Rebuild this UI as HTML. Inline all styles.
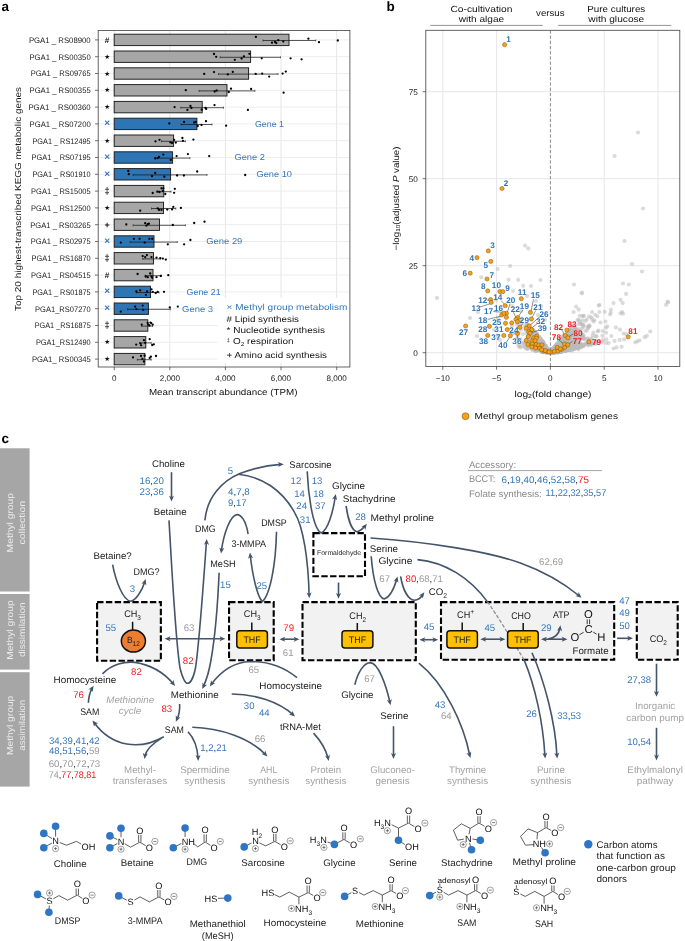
<!DOCTYPE html>
<html lang="en">
<head>
<meta charset="utf-8">
<title>Methyl group metabolism figure</title>
<style>
html,body{margin:0;padding:0;background:#fff;}
body{width:685px;height:941px;overflow:hidden;}
svg{display:block;font-family:'Liberation Sans', sans-serif;text-rendering:geometricPrecision;}
</style>
</head>
<body>
<svg width="685" height="941" viewBox="0 0 685 941">
<rect width="685" height="941" fill="#fff"/>
<g id="panel-a">
<text x="1.6" y="11.14" font-size="13.5" fill="#000" font-weight="bold">a</text>
<line x1="114.3" y1="30.5" x2="114.3" y2="367" stroke="#e6e6e6" stroke-width="1"/>
<line x1="169.8" y1="30.5" x2="169.8" y2="367" stroke="#e6e6e6" stroke-width="1"/>
<line x1="225.4" y1="30.5" x2="225.4" y2="367" stroke="#e6e6e6" stroke-width="1"/>
<line x1="281" y1="30.5" x2="281" y2="367" stroke="#e6e6e6" stroke-width="1"/>
<line x1="336.7" y1="30.5" x2="336.7" y2="367" stroke="#e6e6e6" stroke-width="1"/>
<line x1="98.2" y1="39.9" x2="349.9" y2="39.9" stroke="#ebebeb" stroke-width="0.9"/>
<line x1="98.2" y1="56.7" x2="349.9" y2="56.7" stroke="#ebebeb" stroke-width="0.9"/>
<line x1="98.2" y1="73.5" x2="349.9" y2="73.5" stroke="#ebebeb" stroke-width="0.9"/>
<line x1="98.2" y1="90.3" x2="349.9" y2="90.3" stroke="#ebebeb" stroke-width="0.9"/>
<line x1="98.2" y1="107.1" x2="349.9" y2="107.1" stroke="#ebebeb" stroke-width="0.9"/>
<line x1="98.2" y1="123.9" x2="349.9" y2="123.9" stroke="#ebebeb" stroke-width="0.9"/>
<line x1="98.2" y1="140.7" x2="349.9" y2="140.7" stroke="#ebebeb" stroke-width="0.9"/>
<line x1="98.2" y1="157.5" x2="349.9" y2="157.5" stroke="#ebebeb" stroke-width="0.9"/>
<line x1="98.2" y1="174.3" x2="349.9" y2="174.3" stroke="#ebebeb" stroke-width="0.9"/>
<line x1="98.2" y1="191.1" x2="349.9" y2="191.1" stroke="#ebebeb" stroke-width="0.9"/>
<line x1="98.2" y1="207.9" x2="349.9" y2="207.9" stroke="#ebebeb" stroke-width="0.9"/>
<line x1="98.2" y1="224.7" x2="349.9" y2="224.7" stroke="#ebebeb" stroke-width="0.9"/>
<line x1="98.2" y1="241.5" x2="349.9" y2="241.5" stroke="#ebebeb" stroke-width="0.9"/>
<line x1="98.2" y1="258.3" x2="349.9" y2="258.3" stroke="#ebebeb" stroke-width="0.9"/>
<line x1="98.2" y1="275.1" x2="349.9" y2="275.1" stroke="#ebebeb" stroke-width="0.9"/>
<line x1="98.2" y1="291.9" x2="349.9" y2="291.9" stroke="#ebebeb" stroke-width="0.9"/>
<line x1="98.2" y1="308.7" x2="349.9" y2="308.7" stroke="#ebebeb" stroke-width="0.9"/>
<line x1="98.2" y1="325.5" x2="349.9" y2="325.5" stroke="#ebebeb" stroke-width="0.9"/>
<line x1="98.2" y1="342.3" x2="349.9" y2="342.3" stroke="#ebebeb" stroke-width="0.9"/>
<line x1="98.2" y1="359.1" x2="349.9" y2="359.1" stroke="#ebebeb" stroke-width="0.9"/>
<rect x="114.2" y="34.2" width="174.8" height="11.4" fill="#a6a6a6" stroke="#1c1c1c" stroke-width="0.95"/>
<line x1="263" y1="40.5" x2="315.7" y2="40.5" stroke="#111" stroke-width="0.7"/>
<line x1="263" y1="39.5" x2="263" y2="41.5" stroke="#111" stroke-width="0.6"/>
<line x1="315.7" y1="39.5" x2="315.7" y2="41.5" stroke="#111" stroke-width="0.6"/>
<circle cx="255.9" cy="36.9" r="1.15" fill="#000" stroke="none" stroke-width="0.5"/>
<circle cx="272" cy="42.7" r="1.15" fill="#000" stroke="none" stroke-width="0.5"/>
<circle cx="275" cy="42" r="1.15" fill="#000" stroke="none" stroke-width="0.5"/>
<circle cx="276.3" cy="43" r="1.15" fill="#000" stroke="none" stroke-width="0.5"/>
<circle cx="278.3" cy="40.2" r="1.15" fill="#000" stroke="none" stroke-width="0.5"/>
<circle cx="283.3" cy="41.5" r="1.15" fill="#000" stroke="none" stroke-width="0.5"/>
<circle cx="308.4" cy="38.7" r="1.15" fill="#000" stroke="none" stroke-width="0.5"/>
<circle cx="319" cy="42.2" r="1.15" fill="#000" stroke="none" stroke-width="0.5"/>
<circle cx="337.8" cy="40.5" r="1.15" fill="#000" stroke="none" stroke-width="0.5"/>
<line x1="95" y1="39.9" x2="98.2" y2="39.9" stroke="#333" stroke-width="0.7"/>
<text x="90.7" y="42.85" font-size="8" fill="#222" text-anchor="end" textLength="61.8" lengthAdjust="spacingAndGlyphs">PGA1 _ RS08900</text>
<text x="107.1" y="42.72" font-size="8.2" fill="#111" text-anchor="middle" font-weight="bold">#</text>
<rect x="114.2" y="51" width="136.4" height="11.4" fill="#a6a6a6" stroke="#1c1c1c" stroke-width="0.95"/>
<line x1="220.2" y1="57.3" x2="280.5" y2="57.3" stroke="#111" stroke-width="0.7"/>
<line x1="220.2" y1="56.3" x2="220.2" y2="58.3" stroke="#111" stroke-width="0.6"/>
<line x1="280.5" y1="56.3" x2="280.5" y2="58.3" stroke="#111" stroke-width="0.6"/>
<circle cx="214" cy="54" r="1.15" fill="#000" stroke="none" stroke-width="0.5"/>
<circle cx="216.2" cy="56.8" r="1.15" fill="#000" stroke="none" stroke-width="0.5"/>
<circle cx="234.8" cy="59.8" r="1.15" fill="#000" stroke="none" stroke-width="0.5"/>
<circle cx="241.6" cy="58.5" r="1.15" fill="#000" stroke="none" stroke-width="0.5"/>
<circle cx="243.9" cy="56.3" r="1.15" fill="#000" stroke="none" stroke-width="0.5"/>
<circle cx="249.4" cy="53.8" r="1.15" fill="#000" stroke="none" stroke-width="0.5"/>
<circle cx="261.7" cy="58.3" r="1.15" fill="#000" stroke="none" stroke-width="0.5"/>
<circle cx="290.6" cy="58.3" r="1.15" fill="#000" stroke="none" stroke-width="0.5"/>
<circle cx="301.6" cy="59.3" r="1.15" fill="#000" stroke="none" stroke-width="0.5"/>
<line x1="95" y1="56.7" x2="98.2" y2="56.7" stroke="#333" stroke-width="0.7"/>
<text x="90.7" y="59.65" font-size="8" fill="#222" text-anchor="end" textLength="61.3" lengthAdjust="spacingAndGlyphs">PGA1 _ RS00350</text>
<text x="107.1" y="58.87" font-size="6.6" fill="#111" text-anchor="middle" font-family="DejaVu Sans, sans-serif">&#9733;</text>
<rect x="114.2" y="67.8" width="134.4" height="11.4" fill="#a6a6a6" stroke="#1c1c1c" stroke-width="0.95"/>
<line x1="218.5" y1="74.1" x2="278" y2="74.1" stroke="#111" stroke-width="0.7"/>
<line x1="218.5" y1="73.1" x2="218.5" y2="75.1" stroke="#111" stroke-width="0.6"/>
<line x1="278" y1="73.1" x2="278" y2="75.1" stroke="#111" stroke-width="0.6"/>
<circle cx="204.2" cy="73.9" r="1.15" fill="#000" stroke="none" stroke-width="0.5"/>
<circle cx="214" cy="72.1" r="1.15" fill="#000" stroke="none" stroke-width="0.5"/>
<circle cx="227.8" cy="74.4" r="1.15" fill="#000" stroke="none" stroke-width="0.5"/>
<circle cx="232.8" cy="71.9" r="1.15" fill="#000" stroke="none" stroke-width="0.5"/>
<circle cx="255.7" cy="73.9" r="1.15" fill="#000" stroke="none" stroke-width="0.5"/>
<circle cx="262.2" cy="73.6" r="1.15" fill="#000" stroke="none" stroke-width="0.5"/>
<circle cx="269.2" cy="76.6" r="1.15" fill="#000" stroke="none" stroke-width="0.5"/>
<circle cx="282.6" cy="73.6" r="1.15" fill="#000" stroke="none" stroke-width="0.5"/>
<circle cx="285.8" cy="71.6" r="1.15" fill="#000" stroke="none" stroke-width="0.5"/>
<line x1="95" y1="73.5" x2="98.2" y2="73.5" stroke="#333" stroke-width="0.7"/>
<text x="90.7" y="76.45" font-size="8" fill="#222" text-anchor="end" textLength="60" lengthAdjust="spacingAndGlyphs">PGA1 _ RS09765</text>
<text x="107.1" y="75.67" font-size="6.6" fill="#111" text-anchor="middle" font-family="DejaVu Sans, sans-serif">&#9733;</text>
<rect x="114.2" y="84.6" width="112.8" height="11.4" fill="#a6a6a6" stroke="#1c1c1c" stroke-width="0.95"/>
<line x1="199.1" y1="90.9" x2="254.9" y2="90.9" stroke="#111" stroke-width="0.7"/>
<line x1="199.1" y1="89.9" x2="199.1" y2="91.9" stroke="#111" stroke-width="0.6"/>
<line x1="254.9" y1="89.9" x2="254.9" y2="91.9" stroke="#111" stroke-width="0.6"/>
<circle cx="185.8" cy="90.2" r="1.15" fill="#000" stroke="none" stroke-width="0.5"/>
<circle cx="214.7" cy="91.5" r="1.15" fill="#000" stroke="none" stroke-width="0.5"/>
<circle cx="216.7" cy="90.5" r="1.15" fill="#000" stroke="none" stroke-width="0.5"/>
<circle cx="228.8" cy="92" r="1.15" fill="#000" stroke="none" stroke-width="0.5"/>
<circle cx="231" cy="88.7" r="1.15" fill="#000" stroke="none" stroke-width="0.5"/>
<circle cx="251.1" cy="89" r="1.15" fill="#000" stroke="none" stroke-width="0.5"/>
<circle cx="283.6" cy="92.7" r="1.15" fill="#000" stroke="none" stroke-width="0.5"/>
<line x1="95" y1="90.3" x2="98.2" y2="90.3" stroke="#333" stroke-width="0.7"/>
<text x="90.7" y="93.25" font-size="8" fill="#222" text-anchor="end" textLength="61.2" lengthAdjust="spacingAndGlyphs">PGA1 _ RS00355</text>
<text x="107.1" y="92.47" font-size="6.6" fill="#111" text-anchor="middle" font-family="DejaVu Sans, sans-serif">&#9733;</text>
<rect x="114.2" y="101.4" width="88" height="11.4" fill="#a6a6a6" stroke="#1c1c1c" stroke-width="0.95"/>
<line x1="180.8" y1="107.7" x2="223.5" y2="107.7" stroke="#111" stroke-width="0.7"/>
<line x1="180.8" y1="106.7" x2="180.8" y2="108.7" stroke="#111" stroke-width="0.6"/>
<line x1="223.5" y1="106.7" x2="223.5" y2="108.7" stroke="#111" stroke-width="0.6"/>
<circle cx="174.6" cy="107.1" r="1.15" fill="#000" stroke="none" stroke-width="0.5"/>
<circle cx="187.4" cy="109.9" r="1.15" fill="#000" stroke="none" stroke-width="0.5"/>
<circle cx="190.4" cy="105.9" r="1.15" fill="#000" stroke="none" stroke-width="0.5"/>
<circle cx="191.4" cy="107.9" r="1.15" fill="#000" stroke="none" stroke-width="0.5"/>
<circle cx="201.7" cy="109.7" r="1.15" fill="#000" stroke="none" stroke-width="0.5"/>
<circle cx="205.5" cy="107.9" r="1.15" fill="#000" stroke="none" stroke-width="0.5"/>
<circle cx="206.2" cy="108.9" r="1.15" fill="#000" stroke="none" stroke-width="0.5"/>
<circle cx="214.5" cy="105.1" r="1.15" fill="#000" stroke="none" stroke-width="0.5"/>
<circle cx="247.9" cy="109.9" r="1.15" fill="#000" stroke="none" stroke-width="0.5"/>
<line x1="95" y1="107.1" x2="98.2" y2="107.1" stroke="#333" stroke-width="0.7"/>
<text x="90.7" y="110.05" font-size="8" fill="#222" text-anchor="end" textLength="62.3" lengthAdjust="spacingAndGlyphs">PGA1 _ RS00360</text>
<text x="107.1" y="109.27" font-size="6.6" fill="#111" text-anchor="middle" font-family="DejaVu Sans, sans-serif">&#9733;</text>
<rect x="114.2" y="118.2" width="82.7" height="11.4" fill="#2e75b6" stroke="#1c1c1c" stroke-width="0.95"/>
<line x1="181.1" y1="124.5" x2="212" y2="124.5" stroke="#111" stroke-width="0.7"/>
<line x1="181.1" y1="123.5" x2="181.1" y2="125.5" stroke="#111" stroke-width="0.6"/>
<line x1="212" y1="123.5" x2="212" y2="125.5" stroke="#111" stroke-width="0.6"/>
<circle cx="169.3" cy="123.5" r="1.15" fill="#000" stroke="none" stroke-width="0.5"/>
<circle cx="184.1" cy="122" r="1.15" fill="#000" stroke="none" stroke-width="0.5"/>
<circle cx="194.2" cy="122.5" r="1.15" fill="#000" stroke="none" stroke-width="0.5"/>
<circle cx="195.7" cy="122" r="1.15" fill="#000" stroke="none" stroke-width="0.5"/>
<circle cx="197.7" cy="126" r="1.15" fill="#000" stroke="none" stroke-width="0.5"/>
<circle cx="201.5" cy="125" r="1.15" fill="#000" stroke="none" stroke-width="0.5"/>
<circle cx="206" cy="121.2" r="1.15" fill="#000" stroke="none" stroke-width="0.5"/>
<circle cx="226.1" cy="125.7" r="1.15" fill="#000" stroke="none" stroke-width="0.5"/>
<line x1="95" y1="123.9" x2="98.2" y2="123.9" stroke="#333" stroke-width="0.7"/>
<text x="90.7" y="126.85" font-size="8" fill="#222" text-anchor="end" textLength="61.1" lengthAdjust="spacingAndGlyphs">PGA1 _ RS07200</text>
<text x="107.1" y="126.34" font-size="10" fill="#3578bd" text-anchor="middle" font-weight="bold">&#215;</text>
<rect x="114.2" y="135" width="59.4" height="11.4" fill="#a6a6a6" stroke="#1c1c1c" stroke-width="0.95"/>
<line x1="161.5" y1="141.3" x2="185.4" y2="141.3" stroke="#111" stroke-width="0.7"/>
<line x1="161.5" y1="140.3" x2="161.5" y2="142.3" stroke="#111" stroke-width="0.6"/>
<line x1="185.4" y1="140.3" x2="185.4" y2="142.3" stroke="#111" stroke-width="0.6"/>
<circle cx="155.5" cy="141.3" r="1.15" fill="#000" stroke="none" stroke-width="0.5"/>
<circle cx="159.5" cy="139.8" r="1.15" fill="#000" stroke="none" stroke-width="0.5"/>
<circle cx="170.3" cy="142.3" r="1.15" fill="#000" stroke="none" stroke-width="0.5"/>
<circle cx="172" cy="143" r="1.15" fill="#000" stroke="none" stroke-width="0.5"/>
<circle cx="174.1" cy="139.8" r="1.15" fill="#000" stroke="none" stroke-width="0.5"/>
<circle cx="175.8" cy="142.6" r="1.15" fill="#000" stroke="none" stroke-width="0.5"/>
<circle cx="182.4" cy="138" r="1.15" fill="#000" stroke="none" stroke-width="0.5"/>
<circle cx="182.9" cy="140.8" r="1.15" fill="#000" stroke="none" stroke-width="0.5"/>
<circle cx="193.4" cy="139.6" r="1.15" fill="#000" stroke="none" stroke-width="0.5"/>
<line x1="95" y1="140.7" x2="98.2" y2="140.7" stroke="#333" stroke-width="0.7"/>
<text x="90.7" y="143.65" font-size="8" fill="#222" text-anchor="end" textLength="58.3" lengthAdjust="spacingAndGlyphs">PGA1 _ RS12495</text>
<text x="107.1" y="142.87" font-size="6.6" fill="#111" text-anchor="middle" font-family="DejaVu Sans, sans-serif">&#9733;</text>
<rect x="114.2" y="151.8" width="58.4" height="11.4" fill="#2e75b6" stroke="#1c1c1c" stroke-width="0.95"/>
<line x1="155.2" y1="158.1" x2="189.9" y2="158.1" stroke="#111" stroke-width="0.7"/>
<line x1="155.2" y1="157.1" x2="155.2" y2="159.1" stroke="#111" stroke-width="0.6"/>
<line x1="189.9" y1="157.1" x2="189.9" y2="159.1" stroke="#111" stroke-width="0.6"/>
<circle cx="155.2" cy="158.4" r="1.15" fill="#000" stroke="none" stroke-width="0.5"/>
<circle cx="157.7" cy="158.1" r="1.15" fill="#000" stroke="none" stroke-width="0.5"/>
<circle cx="159" cy="156.9" r="1.15" fill="#000" stroke="none" stroke-width="0.5"/>
<circle cx="163.3" cy="154.6" r="1.15" fill="#000" stroke="none" stroke-width="0.5"/>
<circle cx="170.8" cy="159.9" r="1.15" fill="#000" stroke="none" stroke-width="0.5"/>
<circle cx="176.6" cy="156.1" r="1.15" fill="#000" stroke="none" stroke-width="0.5"/>
<circle cx="187.9" cy="154.1" r="1.15" fill="#000" stroke="none" stroke-width="0.5"/>
<circle cx="209.2" cy="156.1" r="1.15" fill="#000" stroke="none" stroke-width="0.5"/>
<line x1="95" y1="157.5" x2="98.2" y2="157.5" stroke="#333" stroke-width="0.7"/>
<text x="90.7" y="160.45" font-size="8" fill="#222" text-anchor="end" textLength="59.1" lengthAdjust="spacingAndGlyphs">PGA1 _ RS07195</text>
<text x="107.1" y="159.94" font-size="10" fill="#3578bd" text-anchor="middle" font-weight="bold">&#215;</text>
<rect x="114.2" y="168.6" width="56.4" height="11.4" fill="#2e75b6" stroke="#1c1c1c" stroke-width="0.95"/>
<line x1="133.1" y1="174.9" x2="207" y2="174.9" stroke="#111" stroke-width="0.7"/>
<line x1="133.1" y1="173.9" x2="133.1" y2="175.9" stroke="#111" stroke-width="0.6"/>
<line x1="207" y1="173.9" x2="207" y2="175.9" stroke="#111" stroke-width="0.6"/>
<circle cx="128.3" cy="171" r="1.15" fill="#000" stroke="none" stroke-width="0.5"/>
<circle cx="128.8" cy="174.2" r="1.15" fill="#000" stroke="none" stroke-width="0.5"/>
<circle cx="152" cy="176.2" r="1.15" fill="#000" stroke="none" stroke-width="0.5"/>
<circle cx="155.2" cy="173" r="1.15" fill="#000" stroke="none" stroke-width="0.5"/>
<circle cx="164.3" cy="176.7" r="1.15" fill="#000" stroke="none" stroke-width="0.5"/>
<circle cx="177.1" cy="175.5" r="1.15" fill="#000" stroke="none" stroke-width="0.5"/>
<circle cx="183.9" cy="175.5" r="1.15" fill="#000" stroke="none" stroke-width="0.5"/>
<circle cx="197.2" cy="171.5" r="1.15" fill="#000" stroke="none" stroke-width="0.5"/>
<circle cx="245.2" cy="175" r="1.15" fill="#000" stroke="none" stroke-width="0.5"/>
<line x1="95" y1="174.3" x2="98.2" y2="174.3" stroke="#333" stroke-width="0.7"/>
<text x="90.7" y="177.25" font-size="8" fill="#222" text-anchor="end" textLength="58.3" lengthAdjust="spacingAndGlyphs">PGA1 _ RS01910</text>
<text x="107.1" y="176.74" font-size="10" fill="#3578bd" text-anchor="middle" font-weight="bold">&#215;</text>
<rect x="114.2" y="185.4" width="49.6" height="11.4" fill="#a6a6a6" stroke="#1c1c1c" stroke-width="0.95"/>
<line x1="156.5" y1="191.7" x2="171" y2="191.7" stroke="#111" stroke-width="0.7"/>
<line x1="156.5" y1="190.7" x2="156.5" y2="192.7" stroke="#111" stroke-width="0.6"/>
<line x1="171" y1="190.7" x2="171" y2="192.7" stroke="#111" stroke-width="0.6"/>
<circle cx="152.7" cy="193" r="1.15" fill="#000" stroke="none" stroke-width="0.5"/>
<circle cx="157.7" cy="191.6" r="1.15" fill="#000" stroke="none" stroke-width="0.5"/>
<circle cx="159.5" cy="192" r="1.15" fill="#000" stroke="none" stroke-width="0.5"/>
<circle cx="161.5" cy="188.3" r="1.15" fill="#000" stroke="none" stroke-width="0.5"/>
<circle cx="163.3" cy="188.3" r="1.15" fill="#000" stroke="none" stroke-width="0.5"/>
<circle cx="162.8" cy="191" r="1.15" fill="#000" stroke="none" stroke-width="0.5"/>
<circle cx="165.3" cy="194" r="1.15" fill="#000" stroke="none" stroke-width="0.5"/>
<circle cx="174.1" cy="192.8" r="1.15" fill="#000" stroke="none" stroke-width="0.5"/>
<circle cx="174.8" cy="188.8" r="1.15" fill="#000" stroke="none" stroke-width="0.5"/>
<line x1="95" y1="191.1" x2="98.2" y2="191.1" stroke="#333" stroke-width="0.7"/>
<text x="90.7" y="194.05" font-size="8" fill="#222" text-anchor="end" textLength="59.6" lengthAdjust="spacingAndGlyphs">PGA1 _ RS15005</text>
<text x="107.1" y="194.06" font-size="9.2" fill="#111" text-anchor="middle" font-weight="bold">&#8225;</text>
<rect x="114.2" y="202.2" width="49.3" height="11.4" fill="#a6a6a6" stroke="#1c1c1c" stroke-width="0.95"/>
<line x1="151.5" y1="208.5" x2="175.8" y2="208.5" stroke="#111" stroke-width="0.7"/>
<line x1="151.5" y1="207.5" x2="151.5" y2="209.5" stroke="#111" stroke-width="0.6"/>
<line x1="175.8" y1="207.5" x2="175.8" y2="209.5" stroke="#111" stroke-width="0.6"/>
<circle cx="140.2" cy="210.7" r="1.15" fill="#000" stroke="none" stroke-width="0.5"/>
<circle cx="157.7" cy="208.4" r="1.15" fill="#000" stroke="none" stroke-width="0.5"/>
<circle cx="159" cy="209.9" r="1.15" fill="#000" stroke="none" stroke-width="0.5"/>
<circle cx="161.5" cy="209.9" r="1.15" fill="#000" stroke="none" stroke-width="0.5"/>
<circle cx="167.3" cy="209.6" r="1.15" fill="#000" stroke="none" stroke-width="0.5"/>
<circle cx="172.1" cy="209.4" r="1.15" fill="#000" stroke="none" stroke-width="0.5"/>
<circle cx="173.3" cy="206.9" r="1.15" fill="#000" stroke="none" stroke-width="0.5"/>
<circle cx="180.9" cy="207.9" r="1.15" fill="#000" stroke="none" stroke-width="0.5"/>
<line x1="95" y1="207.9" x2="98.2" y2="207.9" stroke="#333" stroke-width="0.7"/>
<text x="90.7" y="210.85" font-size="8" fill="#222" text-anchor="end" textLength="59.6" lengthAdjust="spacingAndGlyphs">PGA1 _ RS12500</text>
<text x="107.1" y="210.07" font-size="6.6" fill="#111" text-anchor="middle" font-family="DejaVu Sans, sans-serif">&#9733;</text>
<rect x="114.2" y="219" width="45.3" height="11.4" fill="#a6a6a6" stroke="#1c1c1c" stroke-width="0.95"/>
<line x1="133.1" y1="225.3" x2="185.4" y2="225.3" stroke="#111" stroke-width="0.7"/>
<line x1="133.1" y1="224.3" x2="133.1" y2="226.3" stroke="#111" stroke-width="0.6"/>
<line x1="185.4" y1="224.3" x2="185.4" y2="226.3" stroke="#111" stroke-width="0.6"/>
<circle cx="126.3" cy="224.5" r="1.15" fill="#000" stroke="none" stroke-width="0.5"/>
<circle cx="145.2" cy="223.2" r="1.15" fill="#000" stroke="none" stroke-width="0.5"/>
<circle cx="146.4" cy="225.7" r="1.15" fill="#000" stroke="none" stroke-width="0.5"/>
<circle cx="147.7" cy="224.2" r="1.15" fill="#000" stroke="none" stroke-width="0.5"/>
<circle cx="148.9" cy="223.7" r="1.15" fill="#000" stroke="none" stroke-width="0.5"/>
<circle cx="172.8" cy="225" r="1.15" fill="#000" stroke="none" stroke-width="0.5"/>
<circle cx="194.2" cy="223" r="1.15" fill="#000" stroke="none" stroke-width="0.5"/>
<circle cx="204.5" cy="221.7" r="1.15" fill="#000" stroke="none" stroke-width="0.5"/>
<line x1="95" y1="224.7" x2="98.2" y2="224.7" stroke="#333" stroke-width="0.7"/>
<text x="90.7" y="227.65" font-size="8" fill="#222" text-anchor="end" textLength="60.4" lengthAdjust="spacingAndGlyphs">PGA1 _ RS03265</text>
<text x="107.1" y="228.1" font-size="9" fill="#111" text-anchor="middle" font-weight="bold">+</text>
<rect x="114.2" y="235.8" width="39.8" height="11.4" fill="#2e75b6" stroke="#1c1c1c" stroke-width="0.95"/>
<line x1="130.1" y1="242.1" x2="177.3" y2="242.1" stroke="#111" stroke-width="0.7"/>
<line x1="130.1" y1="241.1" x2="130.1" y2="243.1" stroke="#111" stroke-width="0.6"/>
<line x1="177.3" y1="241.1" x2="177.3" y2="243.1" stroke="#111" stroke-width="0.6"/>
<circle cx="120.8" cy="242.6" r="1.15" fill="#000" stroke="none" stroke-width="0.5"/>
<circle cx="133.9" cy="238.8" r="1.15" fill="#000" stroke="none" stroke-width="0.5"/>
<circle cx="139.6" cy="238.8" r="1.15" fill="#000" stroke="none" stroke-width="0.5"/>
<circle cx="144.7" cy="242.6" r="1.15" fill="#000" stroke="none" stroke-width="0.5"/>
<circle cx="149.4" cy="238.8" r="1.15" fill="#000" stroke="none" stroke-width="0.5"/>
<circle cx="152.2" cy="238.8" r="1.15" fill="#000" stroke="none" stroke-width="0.5"/>
<circle cx="167.8" cy="244.3" r="1.15" fill="#000" stroke="none" stroke-width="0.5"/>
<circle cx="184.1" cy="244.3" r="1.15" fill="#000" stroke="none" stroke-width="0.5"/>
<circle cx="190.4" cy="240" r="1.15" fill="#000" stroke="none" stroke-width="0.5"/>
<line x1="95" y1="241.5" x2="98.2" y2="241.5" stroke="#333" stroke-width="0.7"/>
<text x="90.7" y="244.45" font-size="8" fill="#222" text-anchor="end" textLength="59.9" lengthAdjust="spacingAndGlyphs">PGA1 _ RS02975</text>
<text x="107.1" y="243.94" font-size="10" fill="#3578bd" text-anchor="middle" font-weight="bold">&#215;</text>
<rect x="114.2" y="252.6" width="39.3" height="11.4" fill="#a6a6a6" stroke="#1c1c1c" stroke-width="0.95"/>
<line x1="142.7" y1="258.9" x2="160.3" y2="258.9" stroke="#111" stroke-width="0.7"/>
<line x1="142.7" y1="257.9" x2="142.7" y2="259.9" stroke="#111" stroke-width="0.6"/>
<line x1="160.3" y1="257.9" x2="160.3" y2="259.9" stroke="#111" stroke-width="0.6"/>
<circle cx="142.7" cy="256.1" r="1.15" fill="#000" stroke="none" stroke-width="0.5"/>
<circle cx="145.2" cy="257.1" r="1.15" fill="#000" stroke="none" stroke-width="0.5"/>
<circle cx="146.9" cy="255.1" r="1.15" fill="#000" stroke="none" stroke-width="0.5"/>
<circle cx="151.5" cy="257.1" r="1.15" fill="#000" stroke="none" stroke-width="0.5"/>
<circle cx="156.5" cy="257.6" r="1.15" fill="#000" stroke="none" stroke-width="0.5"/>
<circle cx="160.3" cy="258.1" r="1.15" fill="#000" stroke="none" stroke-width="0.5"/>
<circle cx="162.8" cy="258.6" r="1.15" fill="#000" stroke="none" stroke-width="0.5"/>
<circle cx="165.8" cy="259.6" r="1.15" fill="#000" stroke="none" stroke-width="0.5"/>
<line x1="95" y1="258.3" x2="98.2" y2="258.3" stroke="#333" stroke-width="0.7"/>
<text x="90.7" y="261.25" font-size="8" fill="#222" text-anchor="end" textLength="59.1" lengthAdjust="spacingAndGlyphs">PGA1 _ RS16870</text>
<text x="107.1" y="261.26" font-size="9.2" fill="#111" text-anchor="middle" font-weight="bold">&#8225;</text>
<rect x="114.2" y="269.4" width="38.8" height="11.4" fill="#a6a6a6" stroke="#1c1c1c" stroke-width="0.95"/>
<line x1="145.2" y1="275.7" x2="161.5" y2="275.7" stroke="#111" stroke-width="0.7"/>
<line x1="145.2" y1="274.7" x2="145.2" y2="276.7" stroke="#111" stroke-width="0.6"/>
<line x1="161.5" y1="274.7" x2="161.5" y2="276.7" stroke="#111" stroke-width="0.6"/>
<circle cx="137.6" cy="274" r="1.15" fill="#000" stroke="none" stroke-width="0.5"/>
<circle cx="145.7" cy="276.5" r="1.15" fill="#000" stroke="none" stroke-width="0.5"/>
<circle cx="147.7" cy="277.2" r="1.15" fill="#000" stroke="none" stroke-width="0.5"/>
<circle cx="150.2" cy="273.5" r="1.15" fill="#000" stroke="none" stroke-width="0.5"/>
<circle cx="151.5" cy="276.5" r="1.15" fill="#000" stroke="none" stroke-width="0.5"/>
<circle cx="152.2" cy="277.7" r="1.15" fill="#000" stroke="none" stroke-width="0.5"/>
<circle cx="156.5" cy="277.2" r="1.15" fill="#000" stroke="none" stroke-width="0.5"/>
<circle cx="160.8" cy="276" r="1.15" fill="#000" stroke="none" stroke-width="0.5"/>
<circle cx="168.3" cy="275.2" r="1.15" fill="#000" stroke="none" stroke-width="0.5"/>
<line x1="95" y1="275.1" x2="98.2" y2="275.1" stroke="#333" stroke-width="0.7"/>
<text x="90.7" y="278.05" font-size="8" fill="#222" text-anchor="end" textLength="59.6" lengthAdjust="spacingAndGlyphs">PGA1 _ RS04515</text>
<text x="107.1" y="277.92" font-size="8.2" fill="#111" text-anchor="middle" font-weight="bold">#</text>
<rect x="114.2" y="286.2" width="36.3" height="11.4" fill="#2e75b6" stroke="#1c1c1c" stroke-width="0.95"/>
<line x1="136.4" y1="292.5" x2="159" y2="292.5" stroke="#111" stroke-width="0.7"/>
<line x1="136.4" y1="291.5" x2="136.4" y2="293.5" stroke="#111" stroke-width="0.6"/>
<line x1="159" y1="291.5" x2="159" y2="293.5" stroke="#111" stroke-width="0.6"/>
<circle cx="136.4" cy="291.5" r="1.15" fill="#000" stroke="none" stroke-width="0.5"/>
<circle cx="140.2" cy="290.3" r="1.15" fill="#000" stroke="none" stroke-width="0.5"/>
<circle cx="145.9" cy="294.8" r="1.15" fill="#000" stroke="none" stroke-width="0.5"/>
<circle cx="147.2" cy="291.5" r="1.15" fill="#000" stroke="none" stroke-width="0.5"/>
<circle cx="151.5" cy="289.3" r="1.15" fill="#000" stroke="none" stroke-width="0.5"/>
<circle cx="152.7" cy="291.8" r="1.15" fill="#000" stroke="none" stroke-width="0.5"/>
<circle cx="155.7" cy="293" r="1.15" fill="#000" stroke="none" stroke-width="0.5"/>
<circle cx="157.7" cy="291.8" r="1.15" fill="#000" stroke="none" stroke-width="0.5"/>
<circle cx="164" cy="291.8" r="1.15" fill="#000" stroke="none" stroke-width="0.5"/>
<line x1="95" y1="291.9" x2="98.2" y2="291.9" stroke="#333" stroke-width="0.7"/>
<text x="90.7" y="294.85" font-size="8" fill="#222" text-anchor="end" textLength="58.3" lengthAdjust="spacingAndGlyphs">PGA1 _ RS01875</text>
<text x="107.1" y="294.34" font-size="10" fill="#3578bd" text-anchor="middle" font-weight="bold">&#215;</text>
<rect x="114.2" y="303" width="34.2" height="11.4" fill="#2e75b6" stroke="#1c1c1c" stroke-width="0.95"/>
<line x1="127.6" y1="309.3" x2="170.3" y2="309.3" stroke="#111" stroke-width="0.7"/>
<line x1="127.6" y1="308.3" x2="127.6" y2="310.3" stroke="#111" stroke-width="0.6"/>
<line x1="170.3" y1="308.3" x2="170.3" y2="310.3" stroke="#111" stroke-width="0.6"/>
<circle cx="120.8" cy="311.6" r="1.15" fill="#000" stroke="none" stroke-width="0.5"/>
<circle cx="135.1" cy="306.6" r="1.15" fill="#000" stroke="none" stroke-width="0.5"/>
<circle cx="136.4" cy="309.1" r="1.15" fill="#000" stroke="none" stroke-width="0.5"/>
<circle cx="142.7" cy="305.6" r="1.15" fill="#000" stroke="none" stroke-width="0.5"/>
<circle cx="143.2" cy="309.9" r="1.15" fill="#000" stroke="none" stroke-width="0.5"/>
<circle cx="169.8" cy="307.4" r="1.15" fill="#000" stroke="none" stroke-width="0.5"/>
<circle cx="177.8" cy="306.6" r="1.15" fill="#000" stroke="none" stroke-width="0.5"/>
<line x1="95" y1="308.7" x2="98.2" y2="308.7" stroke="#333" stroke-width="0.7"/>
<text x="90.7" y="311.65" font-size="8" fill="#222" text-anchor="end" textLength="55.6" lengthAdjust="spacingAndGlyphs">PGA1_RS07270</text>
<text x="107.1" y="311.14" font-size="10" fill="#3578bd" text-anchor="middle" font-weight="bold">&#215;</text>
<rect x="114.2" y="319.8" width="33.6" height="11.4" fill="#a6a6a6" stroke="#1c1c1c" stroke-width="0.95"/>
<line x1="141.7" y1="326.1" x2="152.7" y2="326.1" stroke="#111" stroke-width="0.7"/>
<line x1="141.7" y1="325.1" x2="141.7" y2="327.1" stroke="#111" stroke-width="0.6"/>
<line x1="152.7" y1="325.1" x2="152.7" y2="327.1" stroke="#111" stroke-width="0.6"/>
<circle cx="141.7" cy="324.6" r="1.15" fill="#000" stroke="none" stroke-width="0.5"/>
<circle cx="147.6" cy="322.8" r="1.15" fill="#000" stroke="none" stroke-width="0.5"/>
<circle cx="148.3" cy="324.6" r="1.15" fill="#000" stroke="none" stroke-width="0.5"/>
<circle cx="151.2" cy="323.1" r="1.15" fill="#000" stroke="none" stroke-width="0.5"/>
<circle cx="152.7" cy="324.6" r="1.15" fill="#000" stroke="none" stroke-width="0.5"/>
<circle cx="149.5" cy="325.5" r="1.15" fill="#000" stroke="none" stroke-width="0.5"/>
<circle cx="150.4" cy="322.6" r="1.15" fill="#000" stroke="none" stroke-width="0.5"/>
<line x1="95" y1="325.5" x2="98.2" y2="325.5" stroke="#333" stroke-width="0.7"/>
<text x="90.7" y="328.45" font-size="8" fill="#222" text-anchor="end" textLength="56" lengthAdjust="spacingAndGlyphs">PGA1 _RS16875</text>
<text x="107.1" y="328.46" font-size="9.2" fill="#111" text-anchor="middle" font-weight="bold">&#8225;</text>
<rect x="114.2" y="336.6" width="31.6" height="11.4" fill="#a6a6a6" stroke="#1c1c1c" stroke-width="0.95"/>
<line x1="139.5" y1="342.9" x2="151.2" y2="342.9" stroke="#111" stroke-width="0.7"/>
<line x1="139.5" y1="341.9" x2="139.5" y2="343.9" stroke="#111" stroke-width="0.6"/>
<line x1="151.2" y1="341.9" x2="151.2" y2="343.9" stroke="#111" stroke-width="0.6"/>
<circle cx="136.2" cy="344.6" r="1.15" fill="#000" stroke="none" stroke-width="0.5"/>
<circle cx="140.5" cy="343.6" r="1.15" fill="#000" stroke="none" stroke-width="0.5"/>
<circle cx="141.1" cy="345.3" r="1.15" fill="#000" stroke="none" stroke-width="0.5"/>
<circle cx="143.9" cy="340.2" r="1.15" fill="#000" stroke="none" stroke-width="0.5"/>
<circle cx="145.1" cy="342.8" r="1.15" fill="#000" stroke="none" stroke-width="0.5"/>
<circle cx="149.7" cy="339.2" r="1.15" fill="#000" stroke="none" stroke-width="0.5"/>
<circle cx="152.2" cy="345" r="1.15" fill="#000" stroke="none" stroke-width="0.5"/>
<circle cx="153.8" cy="344.3" r="1.15" fill="#000" stroke="none" stroke-width="0.5"/>
<line x1="95" y1="342.3" x2="98.2" y2="342.3" stroke="#333" stroke-width="0.7"/>
<text x="90.7" y="345.25" font-size="8" fill="#222" text-anchor="end" textLength="54.8" lengthAdjust="spacingAndGlyphs">PGA1_RS12490</text>
<text x="107.1" y="344.47" font-size="6.6" fill="#111" text-anchor="middle" font-family="DejaVu Sans, sans-serif">&#9733;</text>
<rect x="114.2" y="353.4" width="30.7" height="11.4" fill="#a6a6a6" stroke="#1c1c1c" stroke-width="0.95"/>
<line x1="137.3" y1="359.7" x2="151.2" y2="359.7" stroke="#111" stroke-width="0.7"/>
<line x1="137.3" y1="358.7" x2="137.3" y2="360.7" stroke="#111" stroke-width="0.6"/>
<line x1="151.2" y1="358.7" x2="151.2" y2="360.7" stroke="#111" stroke-width="0.6"/>
<circle cx="133" cy="357.4" r="1.15" fill="#000" stroke="none" stroke-width="0.5"/>
<circle cx="141" cy="356" r="1.15" fill="#000" stroke="none" stroke-width="0.5"/>
<circle cx="142.4" cy="358.9" r="1.15" fill="#000" stroke="none" stroke-width="0.5"/>
<circle cx="143.9" cy="361.5" r="1.15" fill="#000" stroke="none" stroke-width="0.5"/>
<circle cx="144.6" cy="355.7" r="1.15" fill="#000" stroke="none" stroke-width="0.5"/>
<circle cx="149.7" cy="357.9" r="1.15" fill="#000" stroke="none" stroke-width="0.5"/>
<circle cx="150.9" cy="356.7" r="1.15" fill="#000" stroke="none" stroke-width="0.5"/>
<circle cx="156" cy="356" r="1.15" fill="#000" stroke="none" stroke-width="0.5"/>
<line x1="95" y1="359.1" x2="98.2" y2="359.1" stroke="#333" stroke-width="0.7"/>
<text x="90.7" y="362.05" font-size="8" fill="#222" text-anchor="end" textLength="58.8" lengthAdjust="spacingAndGlyphs">PGA1_ RS00345</text>
<text x="107.1" y="361.27" font-size="6.6" fill="#111" text-anchor="middle" font-family="DejaVu Sans, sans-serif">&#9733;</text>
<text x="255" y="127.06" font-size="8.6" fill="#3578bd" textLength="29" lengthAdjust="spacingAndGlyphs">Gene 1</text>
<text x="234.4" y="160.36" font-size="8.6" fill="#3578bd" textLength="30.6" lengthAdjust="spacingAndGlyphs">Gene 2</text>
<text x="256.5" y="177.26" font-size="8.6" fill="#3578bd" textLength="35.5" lengthAdjust="spacingAndGlyphs">Gene 10</text>
<text x="206.2" y="243.76" font-size="8.6" fill="#3578bd" textLength="36.2" lengthAdjust="spacingAndGlyphs">Gene 29</text>
<text x="186.6" y="295.46" font-size="8.6" fill="#3578bd" textLength="34" lengthAdjust="spacingAndGlyphs">Gene 21</text>
<text x="182.1" y="311.96" font-size="8.6" fill="#3578bd" textLength="31" lengthAdjust="spacingAndGlyphs">Gene 3</text>
<rect x="217.5" y="298" width="131.6" height="64.5" fill="#fff" stroke="none" stroke-width="0.7"/>
<text x="226.5" y="310.26" font-size="8.6" fill="#3578bd" textLength="121" lengthAdjust="spacingAndGlyphs">&#215; Methyl group metabolism</text>
<text x="226.5" y="321.56" font-size="8.6" fill="#111" textLength="72.5" lengthAdjust="spacingAndGlyphs"># Lipid synthesis</text>
<text x="226.5" y="332.96" font-size="8.6" fill="#111" textLength="98.5" lengthAdjust="spacingAndGlyphs">* Nucleotide synthesis</text>
<text x="226.8" y="342.13" font-size="5.6" fill="#111">&#8225;</text>
<text x="233" y="344.16" font-size="8.6" fill="#111" textLength="60.5" lengthAdjust="spacingAndGlyphs">O<tspan dy="1.8" font-size="5.6">2</tspan><tspan dy="-1.8">&#8203;</tspan> respiration</text>
<text x="226.5" y="358.16" font-size="8.6" fill="#111" textLength="100.5" lengthAdjust="spacingAndGlyphs">+ Amino acid synthesis</text>
<rect x="98.2" y="30.5" width="251.7" height="336.5" fill="none" stroke="#4a4a4a" stroke-width="0.85"/>
<line x1="114.3" y1="367" x2="114.3" y2="370.2" stroke="#333" stroke-width="0.7"/>
<text x="114.3" y="380.99" font-size="8.1" fill="#222" text-anchor="middle">0</text>
<line x1="169.8" y1="367" x2="169.8" y2="370.2" stroke="#333" stroke-width="0.7"/>
<text x="169.8" y="380.99" font-size="8.1" fill="#222" text-anchor="middle">2,000</text>
<line x1="225.4" y1="367" x2="225.4" y2="370.2" stroke="#333" stroke-width="0.7"/>
<text x="225.4" y="380.99" font-size="8.1" fill="#222" text-anchor="middle">4,000</text>
<line x1="281" y1="367" x2="281" y2="370.2" stroke="#333" stroke-width="0.7"/>
<text x="281" y="380.99" font-size="8.1" fill="#222" text-anchor="middle">6,000</text>
<line x1="336.7" y1="367" x2="336.7" y2="370.2" stroke="#333" stroke-width="0.7"/>
<text x="336.7" y="380.99" font-size="8.1" fill="#222" text-anchor="middle">8,000</text>
<text x="223.2" y="395.29" font-size="8.7" fill="#111" text-anchor="middle" textLength="148.5" lengthAdjust="spacingAndGlyphs">Mean transcript abundance (TPM)</text>
<text transform="translate(17.8,199) rotate(-90)" x="0" y="2.99" font-size="8.7" fill="#111" text-anchor="middle" textLength="224" lengthAdjust="spacingAndGlyphs">Top 20 highest-transcribed KEGG metabolic genes</text>
</g>
<g id="panel-b">
<text x="386.6" y="11.24" font-size="13.5" fill="#000" font-weight="bold">b</text>
<text x="481.4" y="11.63" font-size="8.8" fill="#111" text-anchor="middle" textLength="62" lengthAdjust="spacingAndGlyphs">Co-cultivation</text>
<text x="481.4" y="22.23" font-size="8.8" fill="#111" text-anchor="middle" textLength="45.5" lengthAdjust="spacingAndGlyphs">with algae</text>
<text x="550.3" y="15.83" font-size="8.8" fill="#111" text-anchor="middle" textLength="28.5" lengthAdjust="spacingAndGlyphs">versus</text>
<text x="616.3" y="11.63" font-size="8.8" fill="#111" text-anchor="middle" textLength="58" lengthAdjust="spacingAndGlyphs">Pure cultures</text>
<text x="616.3" y="22.23" font-size="8.8" fill="#111" text-anchor="middle" textLength="56" lengthAdjust="spacingAndGlyphs">with glucose</text>
<line x1="430.3" y1="25.4" x2="542.8" y2="25.4" stroke="#777" stroke-width="0.8"/>
<line x1="558.2" y1="25.4" x2="671.3" y2="25.4" stroke="#777" stroke-width="0.8"/>
<line x1="442.8" y1="30.3" x2="442.8" y2="366.5" stroke="#e6e6e6" stroke-width="1"/>
<line x1="496.6" y1="30.3" x2="496.6" y2="366.5" stroke="#e6e6e6" stroke-width="1"/>
<line x1="604.2" y1="30.3" x2="604.2" y2="366.5" stroke="#e6e6e6" stroke-width="1"/>
<line x1="658" y1="30.3" x2="658" y2="366.5" stroke="#e6e6e6" stroke-width="1"/>
<line x1="425.8" y1="352.7" x2="679.8" y2="352.7" stroke="#e6e6e6" stroke-width="1"/>
<line x1="425.8" y1="265.7" x2="679.8" y2="265.7" stroke="#e6e6e6" stroke-width="1"/>
<line x1="425.8" y1="178.7" x2="679.8" y2="178.7" stroke="#e6e6e6" stroke-width="1"/>
<line x1="425.8" y1="91.7" x2="679.8" y2="91.7" stroke="#e6e6e6" stroke-width="1"/>
<g fill="#bcbcbc" fill-opacity="0.55">
<circle cx="638" cy="132.5" r="2.1" fill="#bdbdbd" stroke="none" stroke-width="0.5"/>
<circle cx="614.5" cy="156" r="2.1" fill="#bdbdbd" stroke="none" stroke-width="0.5"/>
<circle cx="643" cy="208.5" r="2.1" fill="#bdbdbd" stroke="none" stroke-width="0.5"/>
<circle cx="624.5" cy="241" r="2.1" fill="#bdbdbd" stroke="none" stroke-width="0.5"/>
<circle cx="632" cy="264" r="2.1" fill="#bdbdbd" stroke="none" stroke-width="0.5"/>
<circle cx="642" cy="271.5" r="2.1" fill="#bdbdbd" stroke="none" stroke-width="0.5"/>
<circle cx="525" cy="245.6" r="2.1" fill="#bdbdbd" stroke="none" stroke-width="0.5"/>
<circle cx="528.2" cy="248.4" r="2.1" fill="#bdbdbd" stroke="none" stroke-width="0.5"/>
<circle cx="437" cy="297.9" r="2.1" fill="#bdbdbd" stroke="none" stroke-width="0.5"/>
<circle cx="668" cy="302.5" r="2.1" fill="#bdbdbd" stroke="none" stroke-width="0.5"/>
<circle cx="623" cy="283.5" r="2.1" fill="#bdbdbd" stroke="none" stroke-width="0.5"/>
<circle cx="599.5" cy="305" r="2.1" fill="#bdbdbd" stroke="none" stroke-width="0.5"/>
<circle cx="582" cy="292.5" r="2.1" fill="#bdbdbd" stroke="none" stroke-width="0.5"/>
<circle cx="574" cy="284.5" r="2.1" fill="#bdbdbd" stroke="none" stroke-width="0.5"/>
<circle cx="540.5" cy="280" r="2.1" fill="#bdbdbd" stroke="none" stroke-width="0.5"/>
<circle cx="510.2" cy="266" r="2.1" fill="#bdbdbd" stroke="none" stroke-width="0.5"/>
<circle cx="497.6" cy="269" r="2.1" fill="#bdbdbd" stroke="none" stroke-width="0.5"/>
<circle cx="481.3" cy="277.3" r="2.1" fill="#bdbdbd" stroke="none" stroke-width="0.5"/>
<circle cx="508.6" cy="279.8" r="2.1" fill="#bdbdbd" stroke="none" stroke-width="0.5"/>
<circle cx="518.2" cy="279.8" r="2.1" fill="#bdbdbd" stroke="none" stroke-width="0.5"/>
<circle cx="523.2" cy="285.8" r="2.1" fill="#bdbdbd" stroke="none" stroke-width="0.5"/>
<circle cx="531" cy="286" r="2.1" fill="#bdbdbd" stroke="none" stroke-width="0.5"/>
<circle cx="581.8" cy="293.3" r="2.1" fill="#bdbdbd" stroke="none" stroke-width="0.5"/>
<circle cx="628.8" cy="284.5" r="2.1" fill="#bdbdbd" stroke="none" stroke-width="0.5"/>
<circle cx="626.1" cy="293.9" r="2.1" fill="#bdbdbd" stroke="none" stroke-width="0.5"/>
<circle cx="620.6" cy="299.8" r="2.1" fill="#bdbdbd" stroke="none" stroke-width="0.5"/>
<circle cx="613.5" cy="303.1" r="2.1" fill="#bdbdbd" stroke="none" stroke-width="0.5"/>
<circle cx="622.7" cy="303.1" r="2.1" fill="#bdbdbd" stroke="none" stroke-width="0.5"/>
<circle cx="598.7" cy="305.5" r="2.1" fill="#bdbdbd" stroke="none" stroke-width="0.5"/>
<circle cx="576.1" cy="306.6" r="2.1" fill="#bdbdbd" stroke="none" stroke-width="0.5"/>
<circle cx="667.6" cy="301.5" r="2.1" fill="#bdbdbd" stroke="none" stroke-width="0.5"/>
<circle cx="666" cy="304.9" r="2.1" fill="#bdbdbd" stroke="none" stroke-width="0.5"/>
<circle cx="620.6" cy="313.3" r="2.1" fill="#bdbdbd" stroke="none" stroke-width="0.5"/>
<circle cx="623" cy="313.7" r="2.1" fill="#bdbdbd" stroke="none" stroke-width="0.5"/>
<circle cx="573.6" cy="312.1" r="2.1" fill="#bdbdbd" stroke="none" stroke-width="0.5"/>
<circle cx="578.7" cy="309.6" r="2.1" fill="#bdbdbd" stroke="none" stroke-width="0.5"/>
<circle cx="579.7" cy="315.8" r="2.1" fill="#bdbdbd" stroke="none" stroke-width="0.5"/>
<circle cx="583.8" cy="315.8" r="2.1" fill="#bdbdbd" stroke="none" stroke-width="0.5"/>
<circle cx="578.7" cy="319.9" r="2.1" fill="#bdbdbd" stroke="none" stroke-width="0.5"/>
<circle cx="581.8" cy="323.9" r="2.1" fill="#bdbdbd" stroke="none" stroke-width="0.5"/>
<circle cx="607.3" cy="326.4" r="2.1" fill="#bdbdbd" stroke="none" stroke-width="0.5"/>
<circle cx="615.9" cy="327.4" r="2.1" fill="#bdbdbd" stroke="none" stroke-width="0.5"/>
<circle cx="620" cy="329.7" r="2.1" fill="#bdbdbd" stroke="none" stroke-width="0.5"/>
<circle cx="598.5" cy="330.7" r="2.1" fill="#bdbdbd" stroke="none" stroke-width="0.5"/>
<circle cx="602.8" cy="331.1" r="2.1" fill="#bdbdbd" stroke="none" stroke-width="0.5"/>
<circle cx="593.4" cy="332.7" r="2.1" fill="#bdbdbd" stroke="none" stroke-width="0.5"/>
<circle cx="650.3" cy="331.5" r="2.1" fill="#bdbdbd" stroke="none" stroke-width="0.5"/>
<circle cx="646.8" cy="335.8" r="2.1" fill="#bdbdbd" stroke="none" stroke-width="0.5"/>
<circle cx="644.7" cy="337.2" r="2.1" fill="#bdbdbd" stroke="none" stroke-width="0.5"/>
<circle cx="639.6" cy="340.3" r="2.1" fill="#bdbdbd" stroke="none" stroke-width="0.5"/>
<circle cx="637.4" cy="341.3" r="2.1" fill="#bdbdbd" stroke="none" stroke-width="0.5"/>
<circle cx="635.3" cy="342.3" r="2.1" fill="#bdbdbd" stroke="none" stroke-width="0.5"/>
<circle cx="624.1" cy="339.3" r="2.1" fill="#bdbdbd" stroke="none" stroke-width="0.5"/>
<circle cx="619.6" cy="339.9" r="2.1" fill="#bdbdbd" stroke="none" stroke-width="0.5"/>
<circle cx="614.5" cy="340.9" r="2.1" fill="#bdbdbd" stroke="none" stroke-width="0.5"/>
<circle cx="621.6" cy="346.8" r="2.1" fill="#bdbdbd" stroke="none" stroke-width="0.5"/>
<circle cx="616.5" cy="347.4" r="2.1" fill="#bdbdbd" stroke="none" stroke-width="0.5"/>
<circle cx="613.5" cy="348.5" r="2.1" fill="#bdbdbd" stroke="none" stroke-width="0.5"/>
<circle cx="606.3" cy="339.3" r="2.1" fill="#bdbdbd" stroke="none" stroke-width="0.5"/>
<circle cx="602.2" cy="342.3" r="2.1" fill="#bdbdbd" stroke="none" stroke-width="0.5"/>
<circle cx="513" cy="291" r="2.1" fill="#bdbdbd" stroke="none" stroke-width="0.5"/>
<circle cx="527" cy="296" r="2.1" fill="#bdbdbd" stroke="none" stroke-width="0.5"/>
<circle cx="536" cy="301" r="2.1" fill="#bdbdbd" stroke="none" stroke-width="0.5"/>
<circle cx="541" cy="306" r="2.1" fill="#bdbdbd" stroke="none" stroke-width="0.5"/>
<circle cx="496" cy="300" r="2.1" fill="#bdbdbd" stroke="none" stroke-width="0.5"/>
<circle cx="512" cy="306" r="2.1" fill="#bdbdbd" stroke="none" stroke-width="0.5"/>
<circle cx="521" cy="311" r="2.1" fill="#bdbdbd" stroke="none" stroke-width="0.5"/>
<circle cx="538" cy="315" r="2.1" fill="#bdbdbd" stroke="none" stroke-width="0.5"/>
<circle cx="545" cy="320" r="2.1" fill="#bdbdbd" stroke="none" stroke-width="0.5"/>
<circle cx="478" cy="312" r="2.1" fill="#bdbdbd" stroke="none" stroke-width="0.5"/>
<circle cx="498" cy="318" r="2.1" fill="#bdbdbd" stroke="none" stroke-width="0.5"/>
<circle cx="470" cy="318" r="2.1" fill="#bdbdbd" stroke="none" stroke-width="0.5"/>
<circle cx="512" cy="326" r="2.1" fill="#bdbdbd" stroke="none" stroke-width="0.5"/>
<circle cx="523" cy="334" r="2.1" fill="#bdbdbd" stroke="none" stroke-width="0.5"/>
<circle cx="494" cy="330" r="2.1" fill="#bdbdbd" stroke="none" stroke-width="0.5"/>
<circle cx="500" cy="340" r="2.1" fill="#bdbdbd" stroke="none" stroke-width="0.5"/>
<circle cx="477" cy="336" r="2.1" fill="#bdbdbd" stroke="none" stroke-width="0.5"/>
<circle cx="566.1" cy="350.5" r="2"/>
<circle cx="571.7" cy="346.0" r="2"/>
<circle cx="556.6" cy="350.4" r="2"/>
<circle cx="552.2" cy="352.6" r="2"/>
<circle cx="556.0" cy="351.8" r="2"/>
<circle cx="542.1" cy="340.9" r="2"/>
<circle cx="518.9" cy="346.7" r="2"/>
<circle cx="561.4" cy="352.1" r="2"/>
<circle cx="561.0" cy="350.1" r="2"/>
<circle cx="555.5" cy="350.7" r="2"/>
<circle cx="536.5" cy="350.6" r="2"/>
<circle cx="567.1" cy="349.5" r="2"/>
<circle cx="537.8" cy="343.1" r="2"/>
<circle cx="558.4" cy="350.8" r="2"/>
<circle cx="545.1" cy="348.5" r="2"/>
<circle cx="563.9" cy="338.5" r="2"/>
<circle cx="539.4" cy="350.7" r="2"/>
<circle cx="597.4" cy="316.3" r="2"/>
<circle cx="556.7" cy="348.2" r="2"/>
<circle cx="548.0" cy="350.7" r="2"/>
<circle cx="549.3" cy="350.4" r="2"/>
<circle cx="535.2" cy="335.2" r="2"/>
<circle cx="555.9" cy="351.2" r="2"/>
<circle cx="528.8" cy="335.0" r="2"/>
<circle cx="589.3" cy="326.7" r="2"/>
<circle cx="570.7" cy="349.7" r="2"/>
<circle cx="568.3" cy="349.5" r="2"/>
<circle cx="578.6" cy="347.4" r="2"/>
<circle cx="562.3" cy="348.8" r="2"/>
<circle cx="557.7" cy="351.6" r="2"/>
<circle cx="574.9" cy="328.5" r="2"/>
<circle cx="572.6" cy="344.7" r="2"/>
<circle cx="583.3" cy="345.9" r="2"/>
<circle cx="579.9" cy="345.8" r="2"/>
<circle cx="574.2" cy="346.9" r="2"/>
<circle cx="554.1" cy="351.4" r="2"/>
<circle cx="589.7" cy="325.7" r="2"/>
<circle cx="568.7" cy="341.7" r="2"/>
<circle cx="521.1" cy="323.4" r="2"/>
<circle cx="556.4" cy="352.0" r="2"/>
<circle cx="567.9" cy="350.0" r="2"/>
<circle cx="543.6" cy="351.0" r="2"/>
<circle cx="554.4" cy="351.7" r="2"/>
<circle cx="561.6" cy="351.2" r="2"/>
<circle cx="552.0" cy="352.6" r="2"/>
<circle cx="550.3" cy="352.1" r="2"/>
<circle cx="561.1" cy="351.2" r="2"/>
<circle cx="556.7" cy="350.7" r="2"/>
<circle cx="552.8" cy="352.5" r="2"/>
<circle cx="559.2" cy="343.9" r="2"/>
<circle cx="562.9" cy="351.2" r="2"/>
<circle cx="555.2" cy="351.3" r="2"/>
<circle cx="553.7" cy="351.0" r="2"/>
<circle cx="602.3" cy="335.8" r="2"/>
<circle cx="571.5" cy="348.8" r="2"/>
<circle cx="525.4" cy="342.3" r="2"/>
<circle cx="557.9" cy="345.3" r="2"/>
<circle cx="604.7" cy="311.8" r="2"/>
<circle cx="528.8" cy="346.1" r="2"/>
<circle cx="554.5" cy="352.4" r="2"/>
<circle cx="555.2" cy="351.8" r="2"/>
<circle cx="534.1" cy="331.3" r="2"/>
<circle cx="563.1" cy="345.8" r="2"/>
<circle cx="554.2" cy="352.2" r="2"/>
<circle cx="563.8" cy="344.5" r="2"/>
<circle cx="555.9" cy="351.0" r="2"/>
<circle cx="546.5" cy="349.0" r="2"/>
<circle cx="550.4" cy="352.2" r="2"/>
<circle cx="579.2" cy="346.7" r="2"/>
<circle cx="536.3" cy="333.0" r="2"/>
<circle cx="578.0" cy="342.9" r="2"/>
<circle cx="569.0" cy="349.7" r="2"/>
<circle cx="562.1" cy="339.5" r="2"/>
<circle cx="558.7" cy="350.1" r="2"/>
<circle cx="556.5" cy="350.8" r="2"/>
<circle cx="564.9" cy="350.8" r="2"/>
<circle cx="550.2" cy="352.6" r="2"/>
<circle cx="568.5" cy="334.1" r="2"/>
<circle cx="553.5" cy="351.4" r="2"/>
<circle cx="553.3" cy="352.2" r="2"/>
<circle cx="574.1" cy="348.5" r="2"/>
<circle cx="548.9" cy="351.3" r="2"/>
<circle cx="536.7" cy="334.8" r="2"/>
<circle cx="561.9" cy="347.1" r="2"/>
<circle cx="569.9" cy="349.0" r="2"/>
<circle cx="554.1" cy="348.9" r="2"/>
<circle cx="578.4" cy="338.2" r="2"/>
<circle cx="556.5" cy="349.8" r="2"/>
<circle cx="546.9" cy="350.0" r="2"/>
<circle cx="559.7" cy="350.7" r="2"/>
<circle cx="531.0" cy="333.3" r="2"/>
<circle cx="552.2" cy="350.6" r="2"/>
<circle cx="560.0" cy="348.2" r="2"/>
<circle cx="532.4" cy="342.0" r="2"/>
<circle cx="582.9" cy="334.8" r="2"/>
<circle cx="556.5" cy="352.1" r="2"/>
<circle cx="524.1" cy="346.5" r="2"/>
<circle cx="563.2" cy="347.9" r="2"/>
<circle cx="552.4" cy="351.1" r="2"/>
<circle cx="543.0" cy="342.8" r="2"/>
<circle cx="557.2" cy="351.8" r="2"/>
<circle cx="544.8" cy="351.4" r="2"/>
<circle cx="567.6" cy="347.5" r="2"/>
<circle cx="583.5" cy="345.8" r="2"/>
<circle cx="554.0" cy="351.0" r="2"/>
<circle cx="556.9" cy="347.4" r="2"/>
<circle cx="565.8" cy="344.8" r="2"/>
<circle cx="566.9" cy="342.6" r="2"/>
<circle cx="553.7" cy="352.4" r="2"/>
<circle cx="591.1" cy="344.9" r="2"/>
<circle cx="595.3" cy="343.6" r="2"/>
<circle cx="547.3" cy="351.0" r="2"/>
<circle cx="555.4" cy="352.0" r="2"/>
<circle cx="563.7" cy="337.4" r="2"/>
<circle cx="546.5" cy="352.3" r="2"/>
<circle cx="542.7" cy="348.6" r="2"/>
<circle cx="573.9" cy="332.0" r="2"/>
<circle cx="561.0" cy="341.7" r="2"/>
<circle cx="563.9" cy="348.9" r="2"/>
<circle cx="537.0" cy="335.0" r="2"/>
<circle cx="566.1" cy="349.4" r="2"/>
<circle cx="566.8" cy="349.9" r="2"/>
<circle cx="556.3" cy="351.3" r="2"/>
<circle cx="537.1" cy="347.9" r="2"/>
<circle cx="558.8" cy="351.8" r="2"/>
<circle cx="565.9" cy="350.7" r="2"/>
<circle cx="540.0" cy="346.5" r="2"/>
<circle cx="565.8" cy="350.5" r="2"/>
<circle cx="546.8" cy="351.8" r="2"/>
<circle cx="547.5" cy="351.4" r="2"/>
<circle cx="536.0" cy="336.2" r="2"/>
<circle cx="546.9" cy="349.5" r="2"/>
<circle cx="555.2" cy="352.2" r="2"/>
<circle cx="556.6" cy="347.4" r="2"/>
<circle cx="555.6" cy="347.1" r="2"/>
<circle cx="554.5" cy="352.0" r="2"/>
<circle cx="563.9" cy="349.4" r="2"/>
<circle cx="562.0" cy="350.2" r="2"/>
<circle cx="599.3" cy="311.9" r="2"/>
<circle cx="553.5" cy="352.0" r="2"/>
<circle cx="595.3" cy="343.7" r="2"/>
<circle cx="571.5" cy="348.5" r="2"/>
<circle cx="555.1" cy="352.3" r="2"/>
<circle cx="566.2" cy="350.6" r="2"/>
<circle cx="561.0" cy="350.1" r="2"/>
<circle cx="569.6" cy="337.3" r="2"/>
<circle cx="539.8" cy="342.4" r="2"/>
<circle cx="548.9" cy="351.8" r="2"/>
<circle cx="600.5" cy="322.6" r="2"/>
<circle cx="573.6" cy="330.9" r="2"/>
<circle cx="546.5" cy="350.7" r="2"/>
<circle cx="556.8" cy="351.0" r="2"/>
<circle cx="567.3" cy="336.7" r="2"/>
<circle cx="527.3" cy="325.0" r="2"/>
<circle cx="544.9" cy="352.2" r="2"/>
<circle cx="563.3" cy="348.9" r="2"/>
<circle cx="563.0" cy="344.9" r="2"/>
<circle cx="533.5" cy="337.7" r="2"/>
<circle cx="581.8" cy="328.3" r="2"/>
<circle cx="552.6" cy="351.5" r="2"/>
<circle cx="528.1" cy="345.3" r="2"/>
<circle cx="563.0" cy="349.9" r="2"/>
<circle cx="542.1" cy="340.5" r="2"/>
<circle cx="578.3" cy="343.3" r="2"/>
<circle cx="563.5" cy="344.7" r="2"/>
<circle cx="527.3" cy="348.4" r="2"/>
<circle cx="552.7" cy="352.2" r="2"/>
<circle cx="526.1" cy="348.8" r="2"/>
<circle cx="554.9" cy="349.2" r="2"/>
<circle cx="528.3" cy="344.5" r="2"/>
<circle cx="570.2" cy="349.4" r="2"/>
<circle cx="553.9" cy="351.2" r="2"/>
<circle cx="570.6" cy="344.8" r="2"/>
<circle cx="591.6" cy="342.6" r="2"/>
<circle cx="581.6" cy="346.5" r="2"/>
<circle cx="573.4" cy="326.0" r="2"/>
<circle cx="560.5" cy="341.5" r="2"/>
<circle cx="533.7" cy="347.7" r="2"/>
<circle cx="551.4" cy="352.6" r="2"/>
<circle cx="570.2" cy="347.5" r="2"/>
<circle cx="553.0" cy="352.0" r="2"/>
<circle cx="552.5" cy="350.7" r="2"/>
<circle cx="552.3" cy="350.0" r="2"/>
<circle cx="527.2" cy="324.6" r="2"/>
<circle cx="563.6" cy="335.2" r="2"/>
<circle cx="538.6" cy="347.5" r="2"/>
<circle cx="552.8" cy="352.5" r="2"/>
<circle cx="554.2" cy="351.8" r="2"/>
<circle cx="590.1" cy="341.9" r="2"/>
<circle cx="558.0" cy="342.9" r="2"/>
<circle cx="557.4" cy="351.6" r="2"/>
<circle cx="545.5" cy="350.7" r="2"/>
<circle cx="542.1" cy="351.7" r="2"/>
<circle cx="526.8" cy="333.5" r="2"/>
<circle cx="560.5" cy="351.5" r="2"/>
<circle cx="595.7" cy="336.1" r="2"/>
<circle cx="565.5" cy="340.7" r="2"/>
<circle cx="569.1" cy="347.9" r="2"/>
<circle cx="528.6" cy="342.1" r="2"/>
<circle cx="558.0" cy="343.7" r="2"/>
<circle cx="561.7" cy="350.6" r="2"/>
<circle cx="558.4" cy="352.4" r="2"/>
<circle cx="554.6" cy="351.6" r="2"/>
<circle cx="558.8" cy="351.1" r="2"/>
<circle cx="583.6" cy="326.9" r="2"/>
<circle cx="566.8" cy="346.9" r="2"/>
<circle cx="562.9" cy="351.1" r="2"/>
<circle cx="562.6" cy="337.2" r="2"/>
<circle cx="575.5" cy="328.0" r="2"/>
<circle cx="552.5" cy="352.3" r="2"/>
<circle cx="566.7" cy="333.1" r="2"/>
<circle cx="556.0" cy="352.3" r="2"/>
<circle cx="554.5" cy="349.3" r="2"/>
<circle cx="545.5" cy="352.2" r="2"/>
<circle cx="581.6" cy="324.6" r="2"/>
<circle cx="560.3" cy="351.2" r="2"/>
<circle cx="554.2" cy="352.3" r="2"/>
<circle cx="568.5" cy="339.0" r="2"/>
<circle cx="519.1" cy="322.2" r="2"/>
<circle cx="556.5" cy="347.0" r="2"/>
<circle cx="553.5" cy="348.6" r="2"/>
<circle cx="545.9" cy="351.3" r="2"/>
<circle cx="541.6" cy="344.3" r="2"/>
<circle cx="570.4" cy="341.7" r="2"/>
<circle cx="560.7" cy="350.8" r="2"/>
<circle cx="536.9" cy="344.9" r="2"/>
<circle cx="573.6" cy="341.9" r="2"/>
<circle cx="548.7" cy="352.5" r="2"/>
<circle cx="577.3" cy="345.2" r="2"/>
<circle cx="558.4" cy="349.1" r="2"/>
<circle cx="539.2" cy="342.7" r="2"/>
<circle cx="583.1" cy="344.4" r="2"/>
<circle cx="561.2" cy="345.0" r="2"/>
<circle cx="566.8" cy="338.0" r="2"/>
<circle cx="539.1" cy="336.7" r="2"/>
<circle cx="552.4" cy="350.5" r="2"/>
<circle cx="557.0" cy="351.2" r="2"/>
<circle cx="622.0" cy="311.9" r="2"/>
<circle cx="554.9" cy="349.4" r="2"/>
<circle cx="602.8" cy="340.1" r="2"/>
<circle cx="562.4" cy="350.9" r="2"/>
<circle cx="595.9" cy="343.3" r="2"/>
<circle cx="579.8" cy="330.5" r="2"/>
<circle cx="534.6" cy="343.8" r="2"/>
<circle cx="567.4" cy="339.0" r="2"/>
<circle cx="587.9" cy="328.2" r="2"/>
<circle cx="562.5" cy="350.8" r="2"/>
<circle cx="562.7" cy="349.9" r="2"/>
<circle cx="560.3" cy="340.0" r="2"/>
<circle cx="554.4" cy="351.6" r="2"/>
<circle cx="555.1" cy="351.1" r="2"/>
<circle cx="567.9" cy="333.0" r="2"/>
<circle cx="554.7" cy="351.5" r="2"/>
<circle cx="558.0" cy="352.2" r="2"/>
<circle cx="552.7" cy="352.2" r="2"/>
<circle cx="586.6" cy="343.2" r="2"/>
<circle cx="536.7" cy="335.3" r="2"/>
<circle cx="557.9" cy="348.1" r="2"/>
<circle cx="593.5" cy="321.6" r="2"/>
<circle cx="552.2" cy="350.9" r="2"/>
<circle cx="553.0" cy="350.1" r="2"/>
<circle cx="581.8" cy="345.2" r="2"/>
<circle cx="591.9" cy="337.9" r="2"/>
<circle cx="563.1" cy="348.1" r="2"/>
<circle cx="561.6" cy="342.3" r="2"/>
<circle cx="544.5" cy="345.5" r="2"/>
<circle cx="538.9" cy="348.2" r="2"/>
<circle cx="561.3" cy="343.0" r="2"/>
<circle cx="561.1" cy="350.6" r="2"/>
<circle cx="578.4" cy="348.0" r="2"/>
<circle cx="531.0" cy="329.4" r="2"/>
<circle cx="568.1" cy="339.6" r="2"/>
<circle cx="563.2" cy="350.2" r="2"/>
<circle cx="570.2" cy="336.9" r="2"/>
<circle cx="547.0" cy="352.2" r="2"/>
<circle cx="550.2" cy="352.1" r="2"/>
<circle cx="572.8" cy="335.3" r="2"/>
<circle cx="552.2" cy="352.5" r="2"/>
<circle cx="556.6" cy="351.3" r="2"/>
<circle cx="559.0" cy="340.9" r="2"/>
<circle cx="555.6" cy="349.1" r="2"/>
<circle cx="626.3" cy="334.3" r="2"/>
<circle cx="565.5" cy="335.7" r="2"/>
<circle cx="581.0" cy="344.3" r="2"/>
<circle cx="568.6" cy="342.6" r="2"/>
<circle cx="548.6" cy="352.3" r="2"/>
<circle cx="542.3" cy="346.2" r="2"/>
<circle cx="546.1" cy="351.6" r="2"/>
<circle cx="559.1" cy="351.0" r="2"/>
<circle cx="541.2" cy="344.6" r="2"/>
<circle cx="566.8" cy="341.3" r="2"/>
<circle cx="553.1" cy="352.1" r="2"/>
<circle cx="557.9" cy="351.9" r="2"/>
<circle cx="572.2" cy="345.3" r="2"/>
<circle cx="544.5" cy="351.5" r="2"/>
<circle cx="543.7" cy="349.3" r="2"/>
<circle cx="566.6" cy="348.5" r="2"/>
<circle cx="517.1" cy="337.7" r="2"/>
<circle cx="589.0" cy="339.7" r="2"/>
<circle cx="594.4" cy="320.3" r="2"/>
<circle cx="587.9" cy="338.3" r="2"/>
<circle cx="553.0" cy="349.9" r="2"/>
<circle cx="571.2" cy="348.9" r="2"/>
<circle cx="574.6" cy="326.7" r="2"/>
<circle cx="559.6" cy="347.0" r="2"/>
<circle cx="561.4" cy="350.2" r="2"/>
<circle cx="552.3" cy="350.1" r="2"/>
<circle cx="582.1" cy="316.1" r="2"/>
<circle cx="553.8" cy="352.4" r="2"/>
<circle cx="606.1" cy="342.9" r="2"/>
<circle cx="566.6" cy="348.0" r="2"/>
<circle cx="545.2" cy="350.5" r="2"/>
<circle cx="554.7" cy="351.3" r="2"/>
<circle cx="548.8" cy="352.2" r="2"/>
<circle cx="561.3" cy="349.1" r="2"/>
<circle cx="558.4" cy="351.2" r="2"/>
<circle cx="543.6" cy="343.6" r="2"/>
<circle cx="578.0" cy="348.1" r="2"/>
<circle cx="549.1" cy="351.1" r="2"/>
<circle cx="536.0" cy="341.0" r="2"/>
<circle cx="571.3" cy="345.0" r="2"/>
<circle cx="539.7" cy="346.7" r="2"/>
<circle cx="574.9" cy="341.9" r="2"/>
<circle cx="555.4" cy="348.1" r="2"/>
<circle cx="540.1" cy="346.5" r="2"/>
<circle cx="554.7" cy="352.2" r="2"/>
<circle cx="567.1" cy="345.0" r="2"/>
<circle cx="561.8" cy="345.4" r="2"/>
<circle cx="555.0" cy="350.5" r="2"/>
<circle cx="580.8" cy="338.8" r="2"/>
<circle cx="560.6" cy="342.0" r="2"/>
<circle cx="567.0" cy="344.9" r="2"/>
<circle cx="557.8" cy="348.3" r="2"/>
<circle cx="587.8" cy="344.5" r="2"/>
<circle cx="540.2" cy="338.8" r="2"/>
<circle cx="568.6" cy="349.5" r="2"/>
<circle cx="559.8" cy="351.9" r="2"/>
<circle cx="582.3" cy="338.1" r="2"/>
<circle cx="553.6" cy="351.4" r="2"/>
<circle cx="553.9" cy="352.2" r="2"/>
<circle cx="556.2" cy="345.3" r="2"/>
<circle cx="541.8" cy="343.1" r="2"/>
<circle cx="558.2" cy="348.9" r="2"/>
<circle cx="530.9" cy="339.1" r="2"/>
<circle cx="527.2" cy="325.3" r="2"/>
<circle cx="575.5" cy="344.0" r="2"/>
<circle cx="547.4" cy="351.7" r="2"/>
<circle cx="546.7" cy="351.3" r="2"/>
<circle cx="559.4" cy="351.3" r="2"/>
<circle cx="524.5" cy="344.0" r="2"/>
<circle cx="540.8" cy="338.6" r="2"/>
<circle cx="542.2" cy="351.9" r="2"/>
<circle cx="564.4" cy="350.5" r="2"/>
<circle cx="533.6" cy="331.8" r="2"/>
<circle cx="560.3" cy="350.9" r="2"/>
<circle cx="547.3" cy="351.3" r="2"/>
<circle cx="552.2" cy="352.2" r="2"/>
<circle cx="571.3" cy="348.5" r="2"/>
<circle cx="539.3" cy="346.0" r="2"/>
<circle cx="563.5" cy="350.7" r="2"/>
<circle cx="556.8" cy="348.4" r="2"/>
<circle cx="553.6" cy="351.0" r="2"/>
<circle cx="576.0" cy="339.3" r="2"/>
<circle cx="553.7" cy="350.3" r="2"/>
<circle cx="577.1" cy="346.3" r="2"/>
<circle cx="549.2" cy="350.8" r="2"/>
<circle cx="557.6" cy="351.4" r="2"/>
<circle cx="552.5" cy="351.5" r="2"/>
<circle cx="567.2" cy="349.9" r="2"/>
<circle cx="567.4" cy="341.9" r="2"/>
<circle cx="548.5" cy="352.0" r="2"/>
<circle cx="564.8" cy="350.8" r="2"/>
<circle cx="554.3" cy="350.1" r="2"/>
<circle cx="567.4" cy="345.8" r="2"/>
<circle cx="529.8" cy="341.2" r="2"/>
<circle cx="561.6" cy="351.4" r="2"/>
<circle cx="559.5" cy="345.1" r="2"/>
<circle cx="536.3" cy="348.0" r="2"/>
<circle cx="530.7" cy="342.1" r="2"/>
<circle cx="537.8" cy="342.1" r="2"/>
<circle cx="568.5" cy="348.9" r="2"/>
<circle cx="556.7" cy="352.4" r="2"/>
<circle cx="553.6" cy="349.8" r="2"/>
<circle cx="592.1" cy="312.1" r="2"/>
<circle cx="554.5" cy="350.0" r="2"/>
<circle cx="519.0" cy="326.6" r="2"/>
<circle cx="515.3" cy="332.9" r="2"/>
<circle cx="554.5" cy="350.2" r="2"/>
<circle cx="539.9" cy="348.8" r="2"/>
<circle cx="556.8" cy="344.9" r="2"/>
<circle cx="556.7" cy="352.1" r="2"/>
<circle cx="565.8" cy="350.2" r="2"/>
<circle cx="558.6" cy="351.8" r="2"/>
<circle cx="534.4" cy="337.0" r="2"/>
<circle cx="571.2" cy="341.0" r="2"/>
<circle cx="564.7" cy="337.1" r="2"/>
<circle cx="580.1" cy="323.6" r="2"/>
<circle cx="555.0" cy="352.3" r="2"/>
<circle cx="555.4" cy="347.2" r="2"/>
<circle cx="553.5" cy="350.7" r="2"/>
<circle cx="529.5" cy="345.1" r="2"/>
<circle cx="574.9" cy="347.5" r="2"/>
<circle cx="568.2" cy="346.2" r="2"/>
<circle cx="552.6" cy="350.8" r="2"/>
<circle cx="565.6" cy="348.7" r="2"/>
<circle cx="513.1" cy="333.2" r="2"/>
<circle cx="552.8" cy="351.9" r="2"/>
<circle cx="554.2" cy="349.6" r="2"/>
<circle cx="567.2" cy="349.3" r="2"/>
<circle cx="560.9" cy="350.8" r="2"/>
<circle cx="563.2" cy="341.9" r="2"/>
<circle cx="572.1" cy="350.5" r="2"/>
<circle cx="581.7" cy="345.9" r="2"/>
<circle cx="553.6" cy="351.8" r="2"/>
<circle cx="551.7" cy="348.9" r="2"/>
<circle cx="557.7" cy="349.4" r="2"/>
<circle cx="577.2" cy="336.1" r="2"/>
<circle cx="558.1" cy="345.6" r="2"/>
<circle cx="528.0" cy="342.8" r="2"/>
<circle cx="579.7" cy="347.5" r="2"/>
<circle cx="559.5" cy="351.4" r="2"/>
<circle cx="553.8" cy="348.4" r="2"/>
<circle cx="577.1" cy="346.5" r="2"/>
<circle cx="575.8" cy="340.3" r="2"/>
<circle cx="547.9" cy="351.6" r="2"/>
<circle cx="576.1" cy="347.8" r="2"/>
<circle cx="547.9" cy="350.4" r="2"/>
<circle cx="578.7" cy="337.3" r="2"/>
<circle cx="562.8" cy="347.7" r="2"/>
<circle cx="552.8" cy="351.6" r="2"/>
<circle cx="561.3" cy="351.1" r="2"/>
<circle cx="582.8" cy="344.6" r="2"/>
<circle cx="561.8" cy="349.7" r="2"/>
<circle cx="553.4" cy="348.3" r="2"/>
<circle cx="520.6" cy="346.2" r="2"/>
<circle cx="577.5" cy="320.0" r="2"/>
<circle cx="546.7" cy="351.8" r="2"/>
<circle cx="534.0" cy="349.6" r="2"/>
<circle cx="555.4" cy="351.1" r="2"/>
<circle cx="546.0" cy="348.2" r="2"/>
<circle cx="564.5" cy="350.5" r="2"/>
<circle cx="537.2" cy="346.1" r="2"/>
<circle cx="536.3" cy="342.4" r="2"/>
<circle cx="540.5" cy="347.5" r="2"/>
<circle cx="558.0" cy="345.9" r="2"/>
<circle cx="521.0" cy="320.0" r="2"/>
<circle cx="538.9" cy="348.3" r="2"/>
<circle cx="536.8" cy="350.3" r="2"/>
<circle cx="557.3" cy="348.2" r="2"/>
<circle cx="577.8" cy="342.4" r="2"/>
<circle cx="564.4" cy="343.0" r="2"/>
<circle cx="550.5" cy="352.7" r="2"/>
<circle cx="545.9" cy="349.8" r="2"/>
<circle cx="542.5" cy="352.0" r="2"/>
<circle cx="567.5" cy="332.7" r="2"/>
<circle cx="576.7" cy="348.1" r="2"/>
<circle cx="527.6" cy="338.2" r="2"/>
<circle cx="542.8" cy="343.5" r="2"/>
<circle cx="586.3" cy="344.2" r="2"/>
<circle cx="530.8" cy="343.2" r="2"/>
<circle cx="520.4" cy="339.3" r="2"/>
<circle cx="585.5" cy="343.2" r="2"/>
<circle cx="569.3" cy="345.8" r="2"/>
<circle cx="547.1" cy="351.2" r="2"/>
<circle cx="556.4" cy="345.0" r="2"/>
<circle cx="579.1" cy="346.2" r="2"/>
<circle cx="549.7" cy="352.0" r="2"/>
<circle cx="557.1" cy="348.3" r="2"/>
<circle cx="582.0" cy="336.2" r="2"/>
<circle cx="567.2" cy="342.1" r="2"/>
<circle cx="551.4" cy="352.0" r="2"/>
<circle cx="569.2" cy="343.2" r="2"/>
<circle cx="559.9" cy="342.9" r="2"/>
<circle cx="565.5" cy="347.9" r="2"/>
<circle cx="561.6" cy="351.4" r="2"/>
<circle cx="544.4" cy="350.6" r="2"/>
<circle cx="558.1" cy="349.9" r="2"/>
<circle cx="533.7" cy="338.4" r="2"/>
<circle cx="581.5" cy="347.2" r="2"/>
<circle cx="548.0" cy="350.3" r="2"/>
<circle cx="568.3" cy="335.7" r="2"/>
<circle cx="546.2" cy="346.3" r="2"/>
<circle cx="548.1" cy="352.0" r="2"/>
<circle cx="559.6" cy="344.5" r="2"/>
<circle cx="561.5" cy="351.0" r="2"/>
<circle cx="553.4" cy="351.7" r="2"/>
<circle cx="545.3" cy="350.8" r="2"/>
<circle cx="529.6" cy="329.4" r="2"/>
<circle cx="570.2" cy="338.7" r="2"/>
<circle cx="552.9" cy="349.5" r="2"/>
<circle cx="533.8" cy="347.1" r="2"/>
<circle cx="564.5" cy="350.9" r="2"/>
<circle cx="566.9" cy="350.0" r="2"/>
<circle cx="572.8" cy="330.5" r="2"/>
<circle cx="552.3" cy="350.5" r="2"/>
<circle cx="574.8" cy="329.7" r="2"/>
<circle cx="561.5" cy="348.8" r="2"/>
<circle cx="610.1" cy="314.6" r="2"/>
<circle cx="562.8" cy="345.3" r="2"/>
<circle cx="537.3" cy="334.0" r="2"/>
<circle cx="558.2" cy="349.3" r="2"/>
<circle cx="560.9" cy="351.8" r="2"/>
<circle cx="534.1" cy="345.4" r="2"/>
<circle cx="580.2" cy="338.4" r="2"/>
<circle cx="544.7" cy="349.7" r="2"/>
<circle cx="534.3" cy="334.6" r="2"/>
<circle cx="560.0" cy="348.4" r="2"/>
<circle cx="567.0" cy="345.2" r="2"/>
<circle cx="541.8" cy="350.7" r="2"/>
<circle cx="576.4" cy="345.7" r="2"/>
<circle cx="532.7" cy="350.0" r="2"/>
<circle cx="530.6" cy="328.9" r="2"/>
<circle cx="565.4" cy="350.8" r="2"/>
<circle cx="556.3" cy="345.3" r="2"/>
<circle cx="535.3" cy="333.4" r="2"/>
<circle cx="528.4" cy="335.6" r="2"/>
<circle cx="542.3" cy="345.1" r="2"/>
<circle cx="573.2" cy="337.5" r="2"/>
<circle cx="552.6" cy="352.4" r="2"/>
<circle cx="559.7" cy="344.4" r="2"/>
<circle cx="549.7" cy="351.4" r="2"/>
<circle cx="554.1" cy="350.6" r="2"/>
<circle cx="557.6" cy="350.9" r="2"/>
<circle cx="568.5" cy="341.2" r="2"/>
<circle cx="608.7" cy="342.9" r="2"/>
<circle cx="559.3" cy="344.1" r="2"/>
<circle cx="535.5" cy="350.7" r="2"/>
<circle cx="560.9" cy="346.7" r="2"/>
<circle cx="605.9" cy="327.8" r="2"/>
<circle cx="554.3" cy="350.0" r="2"/>
<circle cx="553.7" cy="352.5" r="2"/>
<circle cx="546.3" cy="352.1" r="2"/>
<circle cx="623.6" cy="333.5" r="2"/>
<circle cx="569.7" cy="338.2" r="2"/>
<circle cx="553.1" cy="352.5" r="2"/>
<circle cx="539.6" cy="342.3" r="2"/>
<circle cx="552.3" cy="352.0" r="2"/>
<circle cx="544.5" cy="344.2" r="2"/>
<circle cx="569.9" cy="329.2" r="2"/>
<circle cx="545.9" cy="348.6" r="2"/>
<circle cx="552.6" cy="351.4" r="2"/>
<circle cx="542.7" cy="351.0" r="2"/>
<circle cx="550.7" cy="352.6" r="2"/>
<circle cx="568.0" cy="340.6" r="2"/>
<circle cx="560.1" cy="343.6" r="2"/>
<circle cx="566.4" cy="347.0" r="2"/>
<circle cx="570.6" cy="335.3" r="2"/>
<circle cx="580.3" cy="344.1" r="2"/>
<circle cx="573.1" cy="325.3" r="2"/>
<circle cx="542.6" cy="346.4" r="2"/>
<circle cx="548.0" cy="351.8" r="2"/>
<circle cx="543.1" cy="343.1" r="2"/>
<circle cx="568.5" cy="340.1" r="2"/>
<circle cx="528.9" cy="344.9" r="2"/>
<circle cx="570.4" cy="348.0" r="2"/>
<circle cx="578.3" cy="324.3" r="2"/>
<circle cx="567.9" cy="336.0" r="2"/>
<circle cx="557.3" cy="351.0" r="2"/>
<circle cx="570.0" cy="339.1" r="2"/>
<circle cx="544.7" cy="352.1" r="2"/>
<circle cx="543.6" cy="344.8" r="2"/>
<circle cx="552.1" cy="352.4" r="2"/>
<circle cx="517.1" cy="324.5" r="2"/>
<circle cx="555.5" cy="348.2" r="2"/>
<circle cx="538.3" cy="345.8" r="2"/>
<circle cx="562.0" cy="350.5" r="2"/>
<circle cx="526.6" cy="324.0" r="2"/>
<circle cx="546.5" cy="352.3" r="2"/>
<circle cx="545.0" cy="351.5" r="2"/>
<circle cx="540.1" cy="348.1" r="2"/>
<circle cx="535.0" cy="349.3" r="2"/>
<circle cx="563.6" cy="335.2" r="2"/>
<circle cx="570.6" cy="335.3" r="2"/>
<circle cx="566.6" cy="343.4" r="2"/>
<circle cx="555.4" cy="352.3" r="2"/>
<circle cx="571.2" cy="340.8" r="2"/>
<circle cx="563.9" cy="340.9" r="2"/>
<circle cx="557.3" cy="343.8" r="2"/>
<circle cx="533.7" cy="347.3" r="2"/>
<circle cx="591.0" cy="343.0" r="2"/>
<circle cx="556.7" cy="349.3" r="2"/>
<circle cx="553.4" cy="348.9" r="2"/>
<circle cx="555.9" cy="350.6" r="2"/>
<circle cx="560.9" cy="351.3" r="2"/>
<circle cx="570.2" cy="344.0" r="2"/>
<circle cx="610.7" cy="312.4" r="2"/>
<circle cx="561.3" cy="338.7" r="2"/>
<circle cx="577.6" cy="346.3" r="2"/>
<circle cx="552.6" cy="349.8" r="2"/>
<circle cx="557.6" cy="352.2" r="2"/>
<circle cx="544.7" cy="346.9" r="2"/>
<circle cx="543.7" cy="351.4" r="2"/>
<circle cx="547.8" cy="348.6" r="2"/>
<circle cx="542.8" cy="344.5" r="2"/>
<circle cx="573.3" cy="346.2" r="2"/>
<circle cx="565.6" cy="350.1" r="2"/>
<circle cx="565.5" cy="350.3" r="2"/>
<circle cx="526.9" cy="346.2" r="2"/>
<circle cx="554.1" cy="347.8" r="2"/>
<circle cx="582.7" cy="320.2" r="2"/>
<circle cx="565.5" cy="346.9" r="2"/>
<circle cx="580.9" cy="334.2" r="2"/>
<circle cx="565.9" cy="348.3" r="2"/>
<circle cx="545.1" cy="352.2" r="2"/>
<circle cx="553.0" cy="350.5" r="2"/>
<circle cx="543.7" cy="351.4" r="2"/>
<circle cx="552.0" cy="351.0" r="2"/>
<circle cx="556.2" cy="351.2" r="2"/>
<circle cx="583.6" cy="337.9" r="2"/>
<circle cx="558.8" cy="341.5" r="2"/>
<circle cx="556.7" cy="345.3" r="2"/>
<circle cx="544.5" cy="350.7" r="2"/>
<circle cx="570.5" cy="348.7" r="2"/>
<circle cx="555.3" cy="351.6" r="2"/>
<circle cx="560.7" cy="351.5" r="2"/>
<circle cx="555.0" cy="348.1" r="2"/>
<circle cx="552.4" cy="352.5" r="2"/>
<circle cx="562.1" cy="350.7" r="2"/>
<circle cx="569.7" cy="331.5" r="2"/>
<circle cx="560.2" cy="351.2" r="2"/>
<circle cx="545.1" cy="347.2" r="2"/>
<circle cx="558.3" cy="347.9" r="2"/>
<circle cx="555.4" cy="351.7" r="2"/>
<circle cx="571.9" cy="333.3" r="2"/>
<circle cx="534.6" cy="348.4" r="2"/>
<circle cx="553.9" cy="349.7" r="2"/>
<circle cx="569.0" cy="335.8" r="2"/>
<circle cx="570.2" cy="344.0" r="2"/>
<circle cx="580.0" cy="321.5" r="2"/>
<circle cx="561.1" cy="350.9" r="2"/>
<circle cx="549.5" cy="352.0" r="2"/>
<circle cx="559.4" cy="347.5" r="2"/>
<circle cx="570.0" cy="343.6" r="2"/>
<circle cx="554.3" cy="349.5" r="2"/>
<circle cx="555.7" cy="351.5" r="2"/>
<circle cx="531.8" cy="349.6" r="2"/>
<circle cx="558.6" cy="350.7" r="2"/>
<circle cx="557.6" cy="349.2" r="2"/>
<circle cx="595.3" cy="341.2" r="2"/>
<circle cx="557.7" cy="351.9" r="2"/>
<circle cx="553.7" cy="352.4" r="2"/>
<circle cx="545.2" cy="351.5" r="2"/>
<circle cx="569.7" cy="343.5" r="2"/>
<circle cx="537.9" cy="350.5" r="2"/>
<circle cx="552.2" cy="352.2" r="2"/>
<circle cx="571.7" cy="347.4" r="2"/>
<circle cx="552.8" cy="351.9" r="2"/>
<circle cx="579.8" cy="346.9" r="2"/>
<circle cx="533.7" cy="336.1" r="2"/>
<circle cx="570.1" cy="346.2" r="2"/>
<circle cx="586.9" cy="319.3" r="2"/>
<circle cx="583.5" cy="325.6" r="2"/>
<circle cx="576.2" cy="346.7" r="2"/>
<circle cx="595.2" cy="314.7" r="2"/>
<circle cx="558.5" cy="351.2" r="2"/>
<circle cx="581.7" cy="337.9" r="2"/>
<circle cx="592.8" cy="335.2" r="2"/>
<circle cx="544.2" cy="349.9" r="2"/>
<circle cx="568.1" cy="344.7" r="2"/>
<circle cx="559.5" cy="351.5" r="2"/>
<circle cx="583.7" cy="335.6" r="2"/>
<circle cx="540.1" cy="349.9" r="2"/>
<circle cx="575.0" cy="337.2" r="2"/>
<circle cx="557.8" cy="348.9" r="2"/>
<circle cx="550.2" cy="352.7" r="2"/>
<circle cx="569.7" cy="330.0" r="2"/>
<circle cx="554.3" cy="351.8" r="2"/>
<circle cx="535.1" cy="332.0" r="2"/>
<circle cx="567.4" cy="348.8" r="2"/>
<circle cx="561.3" cy="351.2" r="2"/>
<circle cx="554.0" cy="351.9" r="2"/>
<circle cx="555.0" cy="352.3" r="2"/>
<circle cx="564.1" cy="339.2" r="2"/>
<circle cx="530.6" cy="347.2" r="2"/>
<circle cx="539.9" cy="346.6" r="2"/>
<circle cx="566.3" cy="348.6" r="2"/>
<circle cx="564.2" cy="350.0" r="2"/>
<circle cx="568.5" cy="350.2" r="2"/>
<circle cx="566.8" cy="336.0" r="2"/>
<circle cx="570.2" cy="347.8" r="2"/>
<circle cx="559.7" cy="350.7" r="2"/>
<circle cx="545.5" cy="346.2" r="2"/>
<circle cx="557.2" cy="352.0" r="2"/>
<circle cx="577.3" cy="347.9" r="2"/>
<circle cx="562.0" cy="338.1" r="2"/>
<circle cx="541.4" cy="348.8" r="2"/>
<circle cx="538.2" cy="342.9" r="2"/>
<circle cx="555.4" cy="350.8" r="2"/>
<circle cx="547.3" cy="350.7" r="2"/>
<circle cx="525.6" cy="330.2" r="2"/>
<circle cx="560.1" cy="350.1" r="2"/>
<circle cx="554.2" cy="351.0" r="2"/>
<circle cx="532.1" cy="345.5" r="2"/>
<circle cx="559.1" cy="347.4" r="2"/>
<circle cx="585.1" cy="338.5" r="2"/>
<circle cx="554.4" cy="351.5" r="2"/>
<circle cx="537.2" cy="346.5" r="2"/>
<circle cx="559.5" cy="348.6" r="2"/>
<circle cx="583.6" cy="345.4" r="2"/>
<circle cx="565.4" cy="344.4" r="2"/>
<circle cx="569.3" cy="331.6" r="2"/>
<circle cx="569.6" cy="329.7" r="2"/>
<circle cx="578.5" cy="342.1" r="2"/>
<circle cx="554.2" cy="352.5" r="2"/>
<circle cx="518.0" cy="320.8" r="2"/>
<circle cx="552.6" cy="349.1" r="2"/>
<circle cx="577.2" cy="343.5" r="2"/>
<circle cx="554.8" cy="350.1" r="2"/>
<circle cx="575.7" cy="340.6" r="2"/>
<circle cx="560.1" cy="349.8" r="2"/>
<circle cx="572.2" cy="330.4" r="2"/>
<circle cx="557.1" cy="350.8" r="2"/>
<circle cx="591.4" cy="339.4" r="2"/>
<circle cx="591.2" cy="317.2" r="2"/>
<circle cx="571.2" cy="333.4" r="2"/>
<circle cx="594.0" cy="343.4" r="2"/>
<circle cx="548.9" cy="350.0" r="2"/>
<circle cx="595.9" cy="342.0" r="2"/>
<circle cx="563.3" cy="346.8" r="2"/>
<circle cx="556.0" cy="349.0" r="2"/>
<circle cx="540.3" cy="348.3" r="2"/>
<circle cx="566.1" cy="348.0" r="2"/>
<circle cx="545.3" cy="350.8" r="2"/>
<circle cx="536.8" cy="336.8" r="2"/>
<circle cx="548.0" cy="350.2" r="2"/>
<circle cx="573.2" cy="347.2" r="2"/>
<circle cx="548.0" cy="350.9" r="2"/>
<circle cx="544.2" cy="351.9" r="2"/>
<circle cx="559.8" cy="344.7" r="2"/>
<circle cx="560.3" cy="348.0" r="2"/>
<circle cx="554.5" cy="350.4" r="2"/>
<circle cx="571.7" cy="349.5" r="2"/>
<circle cx="538.8" cy="347.7" r="2"/>
<circle cx="575.7" cy="346.4" r="2"/>
<circle cx="570.2" cy="346.8" r="2"/>
<circle cx="564.5" cy="348.2" r="2"/>
<circle cx="569.1" cy="330.3" r="2"/>
<circle cx="566.0" cy="343.2" r="2"/>
<circle cx="589.1" cy="316.5" r="2"/>
<circle cx="562.5" cy="339.1" r="2"/>
<circle cx="550.1" cy="350.7" r="2"/>
<circle cx="498.3" cy="336.4" r="2"/>
<circle cx="553.2" cy="350.3" r="2"/>
<circle cx="564.4" cy="346.7" r="2"/>
<circle cx="522.7" cy="343.6" r="2"/>
<circle cx="558.8" cy="341.6" r="2"/>
<circle cx="560.3" cy="347.4" r="2"/>
<circle cx="568.1" cy="346.6" r="2"/>
<circle cx="555.5" cy="352.1" r="2"/>
<circle cx="550.2" cy="351.7" r="2"/>
<circle cx="554.6" cy="352.4" r="2"/>
<circle cx="538.6" cy="347.7" r="2"/>
<circle cx="554.0" cy="352.0" r="2"/>
<circle cx="550.3" cy="351.5" r="2"/>
<circle cx="556.7" cy="352.2" r="2"/>
<circle cx="561.3" cy="344.2" r="2"/>
<circle cx="563.0" cy="337.2" r="2"/>
<circle cx="555.0" cy="352.0" r="2"/>
<circle cx="569.8" cy="348.2" r="2"/>
<circle cx="558.7" cy="351.2" r="2"/>
<circle cx="560.4" cy="346.7" r="2"/>
<circle cx="558.0" cy="349.2" r="2"/>
<circle cx="558.1" cy="351.1" r="2"/>
<circle cx="533.5" cy="340.6" r="2"/>
<circle cx="568.2" cy="346.8" r="2"/>
<circle cx="566.4" cy="348.4" r="2"/>
<circle cx="524.7" cy="347.2" r="2"/>
<circle cx="538.0" cy="348.2" r="2"/>
<circle cx="567.0" cy="348.3" r="2"/>
<circle cx="570.6" cy="347.7" r="2"/>
<circle cx="570.9" cy="330.4" r="2"/>
<circle cx="528.4" cy="347.8" r="2"/>
<circle cx="574.3" cy="348.9" r="2"/>
<circle cx="541.8" cy="348.3" r="2"/>
<circle cx="537.5" cy="340.7" r="2"/>
<circle cx="560.9" cy="346.1" r="2"/>
<circle cx="564.8" cy="350.6" r="2"/>
<circle cx="551.7" cy="350.2" r="2"/>
<circle cx="561.6" cy="350.8" r="2"/>
<circle cx="554.5" cy="351.5" r="2"/>
<circle cx="560.9" cy="351.0" r="2"/>
<circle cx="559.7" cy="350.2" r="2"/>
<circle cx="563.3" cy="347.9" r="2"/>
<circle cx="547.9" cy="349.3" r="2"/>
<circle cx="547.8" cy="351.8" r="2"/>
<circle cx="565.9" cy="350.6" r="2"/>
<circle cx="570.1" cy="349.5" r="2"/>
<circle cx="540.9" cy="342.8" r="2"/>
<circle cx="587.8" cy="326.7" r="2"/>
<circle cx="552.5" cy="352.3" r="2"/>
<circle cx="583.3" cy="316.1" r="2"/>
<circle cx="575.2" cy="333.6" r="2"/>
<circle cx="549.0" cy="351.5" r="2"/>
<circle cx="565.2" cy="341.9" r="2"/>
<circle cx="590.2" cy="344.3" r="2"/>
<circle cx="545.9" cy="352.3" r="2"/>
<circle cx="544.7" cy="348.5" r="2"/>
<circle cx="549.9" cy="352.6" r="2"/>
<circle cx="552.0" cy="352.2" r="2"/>
<circle cx="557.8" cy="351.5" r="2"/>
<circle cx="569.1" cy="340.1" r="2"/>
<circle cx="571.8" cy="347.9" r="2"/>
<circle cx="588.8" cy="340.2" r="2"/>
<circle cx="565.2" cy="336.8" r="2"/>
<circle cx="565.9" cy="338.3" r="2"/>
<circle cx="557.8" cy="346.2" r="2"/>
<circle cx="563.3" cy="347.5" r="2"/>
<circle cx="532.5" cy="332.6" r="2"/>
<circle cx="555.9" cy="351.9" r="2"/>
<circle cx="567.3" cy="348.6" r="2"/>
<circle cx="557.5" cy="351.9" r="2"/>
<circle cx="569.4" cy="344.9" r="2"/>
<circle cx="555.2" cy="352.3" r="2"/>
<circle cx="582.0" cy="334.4" r="2"/>
<circle cx="561.6" cy="346.8" r="2"/>
<circle cx="597.7" cy="331.3" r="2"/>
<circle cx="559.7" cy="351.7" r="2"/>
<circle cx="558.8" cy="351.1" r="2"/>
<circle cx="538.5" cy="348.0" r="2"/>
<circle cx="552.2" cy="352.6" r="2"/>
<circle cx="540.9" cy="341.3" r="2"/>
<circle cx="561.4" cy="341.6" r="2"/>
<circle cx="611.4" cy="336.0" r="2"/>
<circle cx="537.5" cy="347.5" r="2"/>
<circle cx="576.0" cy="329.3" r="2"/>
<circle cx="566.3" cy="347.8" r="2"/>
<circle cx="557.6" cy="352.4" r="2"/>
<circle cx="544.4" cy="347.5" r="2"/>
<circle cx="549.3" cy="349.4" r="2"/>
<circle cx="536.5" cy="350.4" r="2"/>
<circle cx="552.7" cy="351.3" r="2"/>
<circle cx="555.8" cy="350.7" r="2"/>
<circle cx="555.3" cy="352.2" r="2"/>
<circle cx="562.1" cy="343.6" r="2"/>
<circle cx="556.0" cy="346.7" r="2"/>
<circle cx="553.9" cy="351.0" r="2"/>
<circle cx="562.6" cy="348.4" r="2"/>
<circle cx="569.1" cy="345.6" r="2"/>
<circle cx="534.9" cy="349.0" r="2"/>
<circle cx="584.1" cy="339.3" r="2"/>
<circle cx="543.1" cy="351.7" r="2"/>
<circle cx="561.0" cy="348.5" r="2"/>
<circle cx="539.2" cy="348.5" r="2"/>
<circle cx="560.1" cy="351.5" r="2"/>
<circle cx="543.2" cy="342.2" r="2"/>
<circle cx="572.8" cy="338.4" r="2"/>
<circle cx="571.2" cy="349.6" r="2"/>
<circle cx="580.9" cy="332.1" r="2"/>
<circle cx="573.1" cy="345.4" r="2"/>
<circle cx="538.2" cy="346.4" r="2"/>
<circle cx="567.4" cy="350.1" r="2"/>
<circle cx="558.7" cy="343.3" r="2"/>
<circle cx="577.3" cy="346.2" r="2"/>
<circle cx="573.5" cy="341.5" r="2"/>
<circle cx="573.2" cy="347.7" r="2"/>
<circle cx="547.1" cy="352.2" r="2"/>
<circle cx="557.8" cy="350.2" r="2"/>
<circle cx="555.6" cy="350.8" r="2"/>
<circle cx="544.5" cy="351.7" r="2"/>
<circle cx="517.3" cy="322.7" r="2"/>
<circle cx="585.6" cy="320.9" r="2"/>
<circle cx="572.1" cy="341.3" r="2"/>
<circle cx="518.2" cy="344.8" r="2"/>
<circle cx="539.0" cy="347.5" r="2"/>
<circle cx="556.4" cy="349.2" r="2"/>
<circle cx="560.1" cy="349.2" r="2"/>
<circle cx="560.6" cy="350.1" r="2"/>
<circle cx="529.4" cy="326.5" r="2"/>
<circle cx="556.9" cy="350.2" r="2"/>
<circle cx="554.2" cy="348.7" r="2"/>
<circle cx="577.1" cy="343.9" r="2"/>
<circle cx="527.9" cy="348.9" r="2"/>
<circle cx="541.3" cy="351.2" r="2"/>
<circle cx="554.7" cy="347.1" r="2"/>
<circle cx="542.0" cy="350.1" r="2"/>
<circle cx="582.1" cy="335.4" r="2"/>
<circle cx="562.5" cy="351.3" r="2"/>
<circle cx="555.4" cy="350.1" r="2"/>
<circle cx="562.2" cy="344.2" r="2"/>
<circle cx="573.0" cy="341.5" r="2"/>
<circle cx="526.6" cy="327.5" r="2"/>
<circle cx="599.4" cy="341.0" r="2"/>
<circle cx="553.3" cy="349.1" r="2"/>
<circle cx="555.9" cy="352.3" r="2"/>
<circle cx="550.2" cy="351.3" r="2"/>
<circle cx="569.6" cy="346.3" r="2"/>
<circle cx="561.3" cy="351.9" r="2"/>
<circle cx="556.3" cy="351.7" r="2"/>
<circle cx="551.2" cy="352.4" r="2"/>
<circle cx="564.0" cy="345.2" r="2"/>
<circle cx="566.4" cy="348.0" r="2"/>
<circle cx="565.2" cy="350.8" r="2"/>
<circle cx="559.2" cy="340.8" r="2"/>
<circle cx="567.2" cy="348.8" r="2"/>
<circle cx="571.7" cy="343.1" r="2"/>
<circle cx="570.6" cy="328.8" r="2"/>
<circle cx="556.4" cy="352.2" r="2"/>
<circle cx="544.7" cy="346.2" r="2"/>
<circle cx="521.2" cy="329.6" r="2"/>
<circle cx="557.9" cy="344.4" r="2"/>
<circle cx="554.3" cy="350.9" r="2"/>
<circle cx="526.3" cy="342.2" r="2"/>
<circle cx="544.3" cy="350.2" r="2"/>
<circle cx="555.3" cy="345.7" r="2"/>
<circle cx="560.4" cy="350.8" r="2"/>
<circle cx="561.2" cy="351.2" r="2"/>
<circle cx="564.6" cy="347.2" r="2"/>
<circle cx="537.5" cy="347.9" r="2"/>
<circle cx="564.9" cy="349.0" r="2"/>
<circle cx="543.6" cy="347.8" r="2"/>
<circle cx="535.4" cy="346.9" r="2"/>
<circle cx="583.7" cy="345.5" r="2"/>
<circle cx="535.6" cy="337.3" r="2"/>
<circle cx="553.2" cy="349.3" r="2"/>
<circle cx="587.6" cy="342.5" r="2"/>
<circle cx="555.5" cy="352.3" r="2"/>
<circle cx="555.0" cy="352.0" r="2"/>
<circle cx="577.9" cy="346.8" r="2"/>
<circle cx="535.5" cy="348.8" r="2"/>
<circle cx="533.6" cy="329.9" r="2"/>
<circle cx="526.7" cy="325.1" r="2"/>
<circle cx="566.5" cy="350.1" r="2"/>
<circle cx="585.1" cy="331.1" r="2"/>
<circle cx="557.8" cy="351.5" r="2"/>
<circle cx="552.1" cy="352.1" r="2"/>
<circle cx="528.8" cy="343.6" r="2"/>
<circle cx="556.4" cy="348.8" r="2"/>
<circle cx="554.6" cy="350.8" r="2"/>
<circle cx="547.6" cy="352.5" r="2"/>
<circle cx="605.5" cy="321.6" r="2"/>
<circle cx="610.9" cy="309.6" r="2"/>
<circle cx="559.9" cy="351.5" r="2"/>
<circle cx="569.8" cy="349.7" r="2"/>
<circle cx="559.7" cy="350.7" r="2"/>
<circle cx="540.5" cy="345.6" r="2"/>
<circle cx="538.6" cy="340.8" r="2"/>
<circle cx="560.9" cy="344.6" r="2"/>
<circle cx="546.4" cy="348.0" r="2"/>
<circle cx="546.3" cy="351.7" r="2"/>
<circle cx="591.3" cy="343.9" r="2"/>
<circle cx="557.8" cy="349.6" r="2"/>
<circle cx="546.3" cy="346.1" r="2"/>
<circle cx="567.7" cy="338.6" r="2"/>
<circle cx="560.8" cy="351.5" r="2"/>
<circle cx="553.6" cy="351.0" r="2"/>
<circle cx="566.8" cy="350.0" r="2"/>
<circle cx="557.9" cy="346.5" r="2"/>
<circle cx="575.8" cy="338.7" r="2"/>
<circle cx="555.5" cy="345.5" r="2"/>
<circle cx="562.1" cy="341.9" r="2"/>
<circle cx="563.6" cy="349.2" r="2"/>
<circle cx="559.4" cy="350.8" r="2"/>
<circle cx="562.3" cy="340.2" r="2"/>
<circle cx="565.4" cy="344.8" r="2"/>
<circle cx="587.1" cy="330.5" r="2"/>
<circle cx="571.6" cy="347.8" r="2"/>
<circle cx="563.1" cy="350.4" r="2"/>
<circle cx="544.3" cy="347.3" r="2"/>
<circle cx="563.7" cy="345.6" r="2"/>
<circle cx="552.4" cy="350.2" r="2"/>
<circle cx="551.6" cy="350.1" r="2"/>
<circle cx="551.6" cy="351.3" r="2"/>
<circle cx="559.7" cy="346.0" r="2"/>
<circle cx="543.2" cy="348.6" r="2"/>
<circle cx="541.4" cy="341.1" r="2"/>
<circle cx="559.7" cy="344.3" r="2"/>
<circle cx="557.0" cy="349.6" r="2"/>
<circle cx="569.9" cy="349.7" r="2"/>
<circle cx="578.3" cy="349.6" r="2"/>
<circle cx="557.7" cy="350.4" r="2"/>
<circle cx="564.4" cy="350.8" r="2"/>
<circle cx="574.1" cy="326.9" r="2"/>
<circle cx="520.6" cy="347.3" r="2"/>
<circle cx="583.5" cy="324.8" r="2"/>
<circle cx="532.8" cy="347.4" r="2"/>
<circle cx="556.7" cy="352.0" r="2"/>
<circle cx="566.5" cy="335.8" r="2"/>
<circle cx="552.9" cy="351.6" r="2"/>
<circle cx="561.4" cy="344.8" r="2"/>
<circle cx="556.6" cy="347.5" r="2"/>
<circle cx="563.9" cy="346.7" r="2"/>
<circle cx="555.8" cy="351.9" r="2"/>
<circle cx="588.9" cy="325.5" r="2"/>
<circle cx="547.0" cy="351.6" r="2"/>
<circle cx="562.3" cy="351.3" r="2"/>
<circle cx="569.8" cy="346.7" r="2"/>
<circle cx="563.6" cy="343.2" r="2"/>
<circle cx="531.9" cy="336.1" r="2"/>
<circle cx="561.6" cy="347.2" r="2"/>
<circle cx="538.8" cy="346.7" r="2"/>
<circle cx="587.5" cy="339.0" r="2"/>
<circle cx="559.8" cy="339.7" r="2"/>
<circle cx="557.0" cy="348.7" r="2"/>
<circle cx="570.7" cy="346.6" r="2"/>
<circle cx="574.9" cy="347.6" r="2"/>
<circle cx="568.1" cy="333.2" r="2"/>
<circle cx="576.4" cy="334.5" r="2"/>
<circle cx="564.8" cy="349.0" r="2"/>
<circle cx="541.7" cy="352.0" r="2"/>
<circle cx="538.5" cy="343.6" r="2"/>
<circle cx="543.3" cy="351.4" r="2"/>
<circle cx="547.7" cy="349.8" r="2"/>
<circle cx="568.3" cy="344.1" r="2"/>
<circle cx="543.0" cy="346.4" r="2"/>
<circle cx="565.2" cy="349.8" r="2"/>
<circle cx="545.5" cy="349.7" r="2"/>
<circle cx="518.9" cy="332.5" r="2"/>
<circle cx="553.7" cy="348.3" r="2"/>
<circle cx="561.1" cy="347.6" r="2"/>
<circle cx="556.8" cy="351.8" r="2"/>
<circle cx="548.9" cy="350.5" r="2"/>
<circle cx="554.5" cy="350.1" r="2"/>
<circle cx="572.7" cy="345.3" r="2"/>
<circle cx="553.7" cy="351.9" r="2"/>
<circle cx="552.1" cy="352.2" r="2"/>
<circle cx="555.1" cy="350.8" r="2"/>
<circle cx="554.5" cy="351.4" r="2"/>
<circle cx="560.8" cy="349.5" r="2"/>
<circle cx="534.4" cy="336.5" r="2"/>
<circle cx="558.8" cy="348.7" r="2"/>
<circle cx="566.5" cy="347.7" r="2"/>
<circle cx="554.3" cy="352.1" r="2"/>
<circle cx="546.5" cy="352.3" r="2"/>
<circle cx="554.7" cy="351.7" r="2"/>
<circle cx="565.1" cy="338.4" r="2"/>
<circle cx="573.7" cy="347.9" r="2"/>
<circle cx="576.9" cy="330.0" r="2"/>
<circle cx="545.5" cy="349.9" r="2"/>
<circle cx="555.6" cy="348.5" r="2"/>
<circle cx="572.2" cy="333.1" r="2"/>
<circle cx="565.2" cy="347.9" r="2"/>
<circle cx="540.4" cy="338.3" r="2"/>
<circle cx="544.3" cy="349.9" r="2"/>
<circle cx="545.8" cy="347.5" r="2"/>
<circle cx="557.6" cy="349.2" r="2"/>
<circle cx="574.8" cy="348.8" r="2"/>
<circle cx="535.1" cy="343.9" r="2"/>
<circle cx="561.2" cy="348.2" r="2"/>
<circle cx="547.8" cy="350.9" r="2"/>
<circle cx="559.2" cy="344.0" r="2"/>
<circle cx="547.4" cy="352.4" r="2"/>
<circle cx="534.6" cy="341.7" r="2"/>
<circle cx="547.4" cy="351.9" r="2"/>
<circle cx="560.3" cy="343.1" r="2"/>
<circle cx="575.7" cy="339.4" r="2"/>
<circle cx="566.7" cy="341.3" r="2"/>
<circle cx="543.8" cy="346.3" r="2"/>
<circle cx="552.6" cy="351.3" r="2"/>
<circle cx="596.8" cy="342.0" r="2"/>
<circle cx="582.9" cy="337.3" r="2"/>
<circle cx="565.3" cy="349.4" r="2"/>
<circle cx="553.0" cy="352.2" r="2"/>
<circle cx="546.5" cy="351.9" r="2"/>
<circle cx="565.5" cy="337.1" r="2"/>
<circle cx="554.0" cy="351.8" r="2"/>
<circle cx="562.1" cy="351.3" r="2"/>
<circle cx="565.1" cy="346.3" r="2"/>
<circle cx="537.5" cy="346.9" r="2"/>
<circle cx="556.3" cy="349.2" r="2"/>
<circle cx="537.2" cy="343.8" r="2"/>
<circle cx="556.6" cy="349.3" r="2"/>
<circle cx="556.4" cy="351.4" r="2"/>
<circle cx="524.5" cy="325.7" r="2"/>
<circle cx="518.1" cy="335.0" r="2"/>
<circle cx="556.1" cy="351.0" r="2"/>
<circle cx="543.2" cy="351.8" r="2"/>
<circle cx="559.1" cy="351.5" r="2"/>
<circle cx="570.9" cy="334.5" r="2"/>
<circle cx="562.0" cy="344.6" r="2"/>
<circle cx="545.7" cy="346.6" r="2"/>
<circle cx="563.0" cy="338.1" r="2"/>
<circle cx="558.0" cy="345.7" r="2"/>
<circle cx="579.9" cy="342.1" r="2"/>
<circle cx="546.9" cy="349.1" r="2"/>
<circle cx="588.2" cy="345.5" r="2"/>
<circle cx="523.5" cy="342.5" r="2"/>
<circle cx="560.2" cy="347.2" r="2"/>
<circle cx="561.0" cy="340.4" r="2"/>
<circle cx="555.6" cy="347.1" r="2"/>
<circle cx="566.3" cy="347.5" r="2"/>
<circle cx="596.5" cy="336.2" r="2"/>
<circle cx="545.4" cy="352.0" r="2"/>
<circle cx="572.7" cy="335.8" r="2"/>
<circle cx="555.6" cy="347.3" r="2"/>
<circle cx="559.4" cy="341.8" r="2"/>
<circle cx="606.1" cy="332.8" r="2"/>
<circle cx="559.6" cy="344.9" r="2"/>
<circle cx="558.7" cy="349.2" r="2"/>
<circle cx="551.5" cy="351.1" r="2"/>
<circle cx="564.0" cy="350.6" r="2"/>
<circle cx="577.2" cy="346.6" r="2"/>
<circle cx="535.7" cy="351.2" r="2"/>
<circle cx="536.1" cy="333.5" r="2"/>
<circle cx="545.7" cy="352.2" r="2"/>
<circle cx="564.0" cy="341.8" r="2"/>
<circle cx="555.9" cy="347.4" r="2"/>
<circle cx="571.4" cy="349.3" r="2"/>
<circle cx="541.0" cy="342.2" r="2"/>
<circle cx="544.8" cy="348.9" r="2"/>
<circle cx="553.1" cy="350.8" r="2"/>
<circle cx="565.7" cy="347.9" r="2"/>
<circle cx="542.3" cy="351.0" r="2"/>
<circle cx="566.0" cy="337.4" r="2"/>
<circle cx="550.8" cy="351.8" r="2"/>
<circle cx="553.2" cy="349.3" r="2"/>
<circle cx="572.7" cy="348.9" r="2"/>
<circle cx="552.5" cy="352.5" r="2"/>
<circle cx="567.9" cy="349.4" r="2"/>
<circle cx="552.7" cy="352.4" r="2"/>
<circle cx="554.2" cy="351.0" r="2"/>
<circle cx="563.4" cy="348.5" r="2"/>
<circle cx="555.8" cy="347.5" r="2"/>
<circle cx="544.6" cy="346.4" r="2"/>
<circle cx="563.2" cy="349.9" r="2"/>
<circle cx="567.8" cy="348.4" r="2"/>
<circle cx="556.6" cy="350.7" r="2"/>
<circle cx="563.1" cy="345.4" r="2"/>
<circle cx="547.1" cy="351.7" r="2"/>
<circle cx="543.6" cy="342.3" r="2"/>
<circle cx="570.9" cy="334.1" r="2"/>
<circle cx="569.3" cy="335.5" r="2"/>
<circle cx="554.2" cy="347.6" r="2"/>
<circle cx="553.2" cy="351.8" r="2"/>
<circle cx="552.9" cy="350.7" r="2"/>
<circle cx="579.1" cy="343.9" r="2"/>
<circle cx="555.8" cy="351.3" r="2"/>
<circle cx="592.0" cy="319.3" r="2"/>
<circle cx="532.6" cy="334.2" r="2"/>
<circle cx="553.4" cy="352.6" r="2"/>
<circle cx="575.7" cy="337.4" r="2"/>
<circle cx="553.1" cy="351.9" r="2"/>
<circle cx="543.6" cy="342.6" r="2"/>
<circle cx="541.8" cy="343.7" r="2"/>
<circle cx="570.6" cy="330.9" r="2"/>
<circle cx="520.4" cy="320.4" r="2"/>
<circle cx="547.7" cy="351.7" r="2"/>
<circle cx="554.9" cy="349.5" r="2"/>
<circle cx="571.9" cy="327.8" r="2"/>
<circle cx="557.0" cy="343.8" r="2"/>
<circle cx="547.9" cy="352.0" r="2"/>
<circle cx="583.9" cy="338.9" r="2"/>
<circle cx="588.4" cy="326.8" r="2"/>
<circle cx="546.9" cy="350.9" r="2"/>
<circle cx="542.7" cy="341.8" r="2"/>
<circle cx="544.7" cy="352.0" r="2"/>
<circle cx="545.1" cy="346.0" r="2"/>
<circle cx="578.3" cy="328.9" r="2"/>
<circle cx="569.8" cy="344.2" r="2"/>
<circle cx="575.5" cy="343.5" r="2"/>
<circle cx="532.5" cy="342.6" r="2"/>
</g>
<line x1="550.4" y1="30.3" x2="550.4" y2="366.5" stroke="#8c8c8c" stroke-width="1" stroke-dasharray="3.4 1.8"/>
<line x1="480" y1="307" x2="490.6" y2="303.6" stroke="#222" stroke-width="0.5"/>
<line x1="501.2" y1="300.7" x2="504.7" y2="304.5" stroke="#222" stroke-width="0.5"/>
<line x1="510" y1="303.6" x2="507.3" y2="312.4" stroke="#222" stroke-width="0.5"/>
<line x1="493.3" y1="311.5" x2="504.7" y2="312.4" stroke="#222" stroke-width="0.5"/>
<line x1="487.7" y1="319.4" x2="502" y2="315.9" stroke="#222" stroke-width="0.5"/>
<line x1="513.4" y1="312.4" x2="516" y2="317.6" stroke="#222" stroke-width="0.5"/>
<line x1="523" y1="309.8" x2="518.1" y2="316.8" stroke="#222" stroke-width="0.5"/>
<line x1="533.5" y1="299.3" x2="531" y2="311.2" stroke="#222" stroke-width="0.5"/>
<line x1="535.6" y1="310.6" x2="532.1" y2="317.6" stroke="#222" stroke-width="0.5"/>
<line x1="540.9" y1="315.9" x2="530" y2="325.2" stroke="#222" stroke-width="0.5"/>
<line x1="537" y1="323.8" x2="529.2" y2="329.9" stroke="#222" stroke-width="0.5"/>
<line x1="538.8" y1="330.4" x2="531.8" y2="332.5" stroke="#222" stroke-width="0.5"/>
<line x1="523" y1="323.4" x2="520.4" y2="326.4" stroke="#222" stroke-width="0.5"/>
<line x1="517.4" y1="338.7" x2="517.4" y2="334.3" stroke="#222" stroke-width="0.5"/>
<line x1="506.4" y1="342.2" x2="509.9" y2="336.9" stroke="#222" stroke-width="0.5"/>
<line x1="561.6" y1="329.6" x2="565" y2="335.2" stroke="#222" stroke-width="0.5"/>
<line x1="573" y1="334" x2="568.5" y2="337" stroke="#222" stroke-width="0.5"/>
<line x1="572.5" y1="341.5" x2="567.7" y2="344.5" stroke="#222" stroke-width="0.5"/>
<line x1="559" y1="340" x2="563" y2="343.5" stroke="#222" stroke-width="0.5"/>
<line x1="487" y1="300" x2="490" y2="300" stroke="#222" stroke-width="0.5"/>
<g fill="#f4a11d" stroke="#7a4a00" stroke-width="0.45">
<circle cx="504.6" cy="44.7" r="2.1"/>
<circle cx="502" cy="188.5" r="2.1"/>
<circle cx="488.3" cy="250.9" r="2.1"/>
<circle cx="477" cy="257.7" r="2.1"/>
<circle cx="490.8" cy="261.4" r="2.1"/>
<circle cx="470.2" cy="273.2" r="2.1"/>
<circle cx="487" cy="279" r="2.1"/>
<circle cx="487.7" cy="290.9" r="2.1"/>
<circle cx="499.9" cy="291.6" r="2.1"/>
<circle cx="502.9" cy="291.6" r="2.1"/>
<circle cx="521.3" cy="298.7" r="2.1"/>
<circle cx="490.6" cy="299.6" r="2.1"/>
<circle cx="491.2" cy="302.4" r="2.1"/>
<circle cx="505.2" cy="305.7" r="2.1"/>
<circle cx="530.4" cy="312.4" r="2.1"/>
<circle cx="506.4" cy="313.3" r="2.1"/>
<circle cx="501.7" cy="315" r="2.1"/>
<circle cx="503.8" cy="313.3" r="2.1"/>
<circle cx="506.4" cy="317.3" r="2.1"/>
<circle cx="531.4" cy="318.9" r="2.1"/>
<circle cx="517.8" cy="317.6" r="2.1"/>
<circle cx="516" cy="319.4" r="2.1"/>
<circle cx="517.4" cy="321.7" r="2.1"/>
<circle cx="505.5" cy="323.3" r="2.1"/>
<circle cx="511.7" cy="322.9" r="2.1"/>
<circle cx="519.9" cy="327.3" r="2.1"/>
<circle cx="529.2" cy="325.9" r="2.1"/>
<circle cx="526.2" cy="328.2" r="2.1"/>
<circle cx="531.8" cy="329.6" r="2.1"/>
<circle cx="528.6" cy="331.7" r="2.1"/>
<circle cx="530" cy="333.4" r="2.1"/>
<circle cx="465.6" cy="326" r="2.1"/>
<circle cx="489.4" cy="326.4" r="2.1"/>
<circle cx="507.3" cy="329.6" r="2.1"/>
<circle cx="517.4" cy="333.4" r="2.1"/>
<circle cx="487.7" cy="335.5" r="2.1"/>
<circle cx="503.8" cy="335.5" r="2.1"/>
<circle cx="510.4" cy="335.7" r="2.1"/>
<circle cx="528.3" cy="336.6" r="2.1"/>
<circle cx="537" cy="336" r="2.1"/>
<circle cx="533.5" cy="337.8" r="2.1"/>
<circle cx="536.2" cy="338.2" r="2.1"/>
<circle cx="526.2" cy="340.4" r="2.1"/>
<circle cx="531.8" cy="340.8" r="2.1"/>
<circle cx="535" cy="340.8" r="2.1"/>
<circle cx="527.9" cy="344.4" r="2.1"/>
<circle cx="532.2" cy="343.9" r="2.1"/>
<circle cx="536.2" cy="344.4" r="2.1"/>
<circle cx="538.8" cy="345.1" r="2.1"/>
<circle cx="542" cy="344.8" r="2.1"/>
<circle cx="531.8" cy="346.9" r="2.1"/>
<circle cx="535.6" cy="348" r="2.1"/>
<circle cx="539.7" cy="348.3" r="2.1"/>
<circle cx="543.7" cy="350.9" r="2.1"/>
<circle cx="547.2" cy="351.8" r="2.1"/>
<circle cx="551" cy="352.1" r="2.1"/>
<circle cx="554.6" cy="351.3" r="2.1"/>
<circle cx="558" cy="350.9" r="2.1"/>
<circle cx="557.2" cy="347.4" r="2.1"/>
<circle cx="561.6" cy="349.2" r="2.1"/>
<circle cx="564.7" cy="347.4" r="2.1"/>
<circle cx="564.5" cy="343.9" r="2.1"/>
<circle cx="567.7" cy="344.8" r="2.1"/>
<circle cx="566.9" cy="330.1" r="2.1"/>
<circle cx="565.4" cy="335.6" r="2.1"/>
<circle cx="567.9" cy="337.8" r="2.1"/>
<circle cx="588.9" cy="341.9" r="2.1"/>
<circle cx="628.2" cy="336.8" r="2.1"/>
<circle cx="560.3" cy="348.9" r="2.1"/>
<circle cx="545.3" cy="350.6" r="2.1"/>
<circle cx="549" cy="351.9" r="2.1"/>
<circle cx="541.5" cy="349.8" r="2.1"/>
</g>
<text x="508.5" y="42.32" font-size="8.2" fill="#2e74b8" text-anchor="middle" font-weight="bold">1</text>
<text x="506" y="186.32" font-size="8.2" fill="#2e74b8" text-anchor="middle" font-weight="bold">2</text>
<text x="492.6" y="248.42" font-size="8.2" fill="#2e74b8" text-anchor="middle" font-weight="bold">3</text>
<text x="471.7" y="260.52" font-size="8.2" fill="#2e74b8" text-anchor="middle" font-weight="bold">4</text>
<text x="485.8" y="268.02" font-size="8.2" fill="#2e74b8" text-anchor="middle" font-weight="bold">5</text>
<text x="464.7" y="276.02" font-size="8.2" fill="#2e74b8" text-anchor="middle" font-weight="bold">6</text>
<text x="491.8" y="277.52" font-size="8.2" fill="#2e74b8" text-anchor="middle" font-weight="bold">7</text>
<text x="483.3" y="288.92" font-size="8.2" fill="#2e74b8" text-anchor="middle" font-weight="bold">8</text>
<text x="496.4" y="288.42" font-size="8.2" fill="#2e74b8" text-anchor="middle" font-weight="bold">10</text>
<text x="507.6" y="290.72" font-size="8.2" fill="#2e74b8" text-anchor="middle" font-weight="bold">9</text>
<text x="522.2" y="295.42" font-size="8.2" fill="#2e74b8" text-anchor="middle" font-weight="bold">11</text>
<text x="535.3" y="298.02" font-size="8.2" fill="#2e74b8" text-anchor="middle" font-weight="bold">15</text>
<text x="482.8" y="302.92" font-size="8.2" fill="#2e74b8" text-anchor="middle" font-weight="bold">12</text>
<text x="497.7" y="300.32" font-size="8.2" fill="#2e74b8" text-anchor="middle" font-weight="bold">14</text>
<text x="510.8" y="302.92" font-size="8.2" fill="#2e74b8" text-anchor="middle" font-weight="bold">20</text>
<text x="476.1" y="310.52" font-size="8.2" fill="#2e74b8" text-anchor="middle" font-weight="bold">13</text>
<text x="498.5" y="310.52" font-size="8.2" fill="#2e74b8" text-anchor="middle" font-weight="bold">16</text>
<text x="488.5" y="314.32" font-size="8.2" fill="#2e74b8" text-anchor="middle" font-weight="bold">17</text>
<text x="515.2" y="311.72" font-size="8.2" fill="#2e74b8" text-anchor="middle" font-weight="bold">22</text>
<text x="524.4" y="309.12" font-size="8.2" fill="#2e74b8" text-anchor="middle" font-weight="bold">19</text>
<text x="537.9" y="309.92" font-size="8.2" fill="#2e74b8" text-anchor="middle" font-weight="bold">21</text>
<text x="544" y="316.92" font-size="8.2" fill="#2e74b8" text-anchor="middle" font-weight="bold">26</text>
<text x="482.8" y="323.42" font-size="8.2" fill="#2e74b8" text-anchor="middle" font-weight="bold">18</text>
<text x="496.8" y="324.82" font-size="8.2" fill="#2e74b8" text-anchor="middle" font-weight="bold">25</text>
<text x="524.4" y="323.42" font-size="8.2" fill="#2e74b8" text-anchor="middle" font-weight="bold">29</text>
<text x="540.6" y="324.02" font-size="8.2" fill="#2e74b8" text-anchor="middle" font-weight="bold">32</text>
<text x="542.3" y="331.02" font-size="8.2" fill="#2e74b8" text-anchor="middle" font-weight="bold">39</text>
<text x="482.8" y="332.42" font-size="8.2" fill="#2e74b8" text-anchor="middle" font-weight="bold">28</text>
<text x="498.9" y="332.42" font-size="8.2" fill="#2e74b8" text-anchor="middle" font-weight="bold">31</text>
<text x="513.9" y="333.12" font-size="8.2" fill="#2e74b8" text-anchor="middle" font-weight="bold">24</text>
<text x="463.5" y="335.32" font-size="8.2" fill="#2e74b8" text-anchor="middle" font-weight="bold">27</text>
<text x="483.6" y="344.12" font-size="8.2" fill="#2e74b8" text-anchor="middle" font-weight="bold">38</text>
<text x="495.9" y="340.22" font-size="8.2" fill="#2e74b8" text-anchor="middle" font-weight="bold">37</text>
<text x="502.9" y="347.92" font-size="8.2" fill="#2e74b8" text-anchor="middle" font-weight="bold">40</text>
<text x="516.9" y="344.42" font-size="8.2" fill="#2e74b8" text-anchor="middle" font-weight="bold">36</text>
<text x="558.5" y="330.22" font-size="8.2" fill="#f41a1f" text-anchor="middle" font-weight="bold">82</text>
<text x="572" y="326.82" font-size="8.2" fill="#f41a1f" text-anchor="middle" font-weight="bold">83</text>
<text x="556.4" y="339.82" font-size="8.2" fill="#f41a1f" text-anchor="middle" font-weight="bold">78</text>
<text x="578" y="335.62" font-size="8.2" fill="#f41a1f" text-anchor="middle" font-weight="bold">80</text>
<text x="577.3" y="343.92" font-size="8.2" fill="#f41a1f" text-anchor="middle" font-weight="bold">77</text>
<text x="596.5" y="344.72" font-size="8.2" fill="#f41a1f" text-anchor="middle" font-weight="bold">79</text>
<text x="632.9" y="333.52" font-size="8.2" fill="#f41a1f" text-anchor="middle" font-weight="bold">81</text>
<rect x="425.8" y="30.3" width="254" height="336.2" fill="none" stroke="#4a4a4a" stroke-width="0.85"/>
<line x1="442.8" y1="366.5" x2="442.8" y2="369.7" stroke="#333" stroke-width="0.7"/>
<text x="442.8" y="380.62" font-size="8.2" fill="#222" text-anchor="middle">&#8722;10</text>
<line x1="496.6" y1="366.5" x2="496.6" y2="369.7" stroke="#333" stroke-width="0.7"/>
<text x="496.6" y="380.62" font-size="8.2" fill="#222" text-anchor="middle">&#8722;5</text>
<line x1="550.4" y1="366.5" x2="550.4" y2="369.7" stroke="#333" stroke-width="0.7"/>
<text x="550.4" y="380.62" font-size="8.2" fill="#222" text-anchor="middle">0</text>
<line x1="604.2" y1="366.5" x2="604.2" y2="369.7" stroke="#333" stroke-width="0.7"/>
<text x="604.2" y="380.62" font-size="8.2" fill="#222" text-anchor="middle">5</text>
<line x1="658" y1="366.5" x2="658" y2="369.7" stroke="#333" stroke-width="0.7"/>
<text x="658" y="380.62" font-size="8.2" fill="#222" text-anchor="middle">10</text>
<line x1="422.6" y1="352.7" x2="425.8" y2="352.7" stroke="#333" stroke-width="0.7"/>
<text x="417.8" y="355.72" font-size="8.2" fill="#222" text-anchor="end">0</text>
<line x1="422.6" y1="265.7" x2="425.8" y2="265.7" stroke="#333" stroke-width="0.7"/>
<text x="417.8" y="268.72" font-size="8.2" fill="#222" text-anchor="end">25</text>
<line x1="422.6" y1="178.7" x2="425.8" y2="178.7" stroke="#333" stroke-width="0.7"/>
<text x="417.8" y="181.72" font-size="8.2" fill="#222" text-anchor="end">50</text>
<line x1="422.6" y1="91.7" x2="425.8" y2="91.7" stroke="#333" stroke-width="0.7"/>
<text x="417.8" y="94.72" font-size="8.2" fill="#222" text-anchor="end">75</text>
<text x="553" y="396.59" font-size="8.7" fill="#111" text-anchor="middle" textLength="77" lengthAdjust="spacingAndGlyphs">log<tspan dy="1.8" font-size="5.8">2</tspan><tspan dy="-1.8">&#8203;</tspan>(fold change)</text>
<text transform="translate(395.6,198.5) rotate(-90)" x="0" y="2.99" font-size="8.7" fill="#111" text-anchor="middle" textLength="104" lengthAdjust="spacingAndGlyphs">&#8722;log<tspan dy="1.8" font-size="5.8">10</tspan><tspan dy="-1.8">&#8203;</tspan>(adjusted <tspan font-style="italic">P</tspan> value)</text>
<circle cx="465.5" cy="416.2" r="3.5" fill="#f4a11d" stroke="#7a4a00" stroke-width="0.5"/>
<text x="474.5" y="419.19" font-size="8.7" fill="#111" textLength="143.5" lengthAdjust="spacingAndGlyphs">Methyl group metabolism genes</text>
</g>
<g id="panel-c">
<text x="1.6" y="443.14" font-size="13.5" fill="#000" font-weight="bold">c</text>
<rect x="0" y="448.3" width="29.6" height="143.2" fill="#a6a6a6" stroke="none" stroke-width="0.7"/>
<text transform="translate(10.4,522.7) rotate(-90)" x="0" y="3.03" font-size="8.8" fill="#ececec" text-anchor="middle" textLength="59.4" lengthAdjust="spacingAndGlyphs">Methyl group</text>
<text transform="translate(21.6,522.7) rotate(-90)" x="0" y="3.03" font-size="8.8" fill="#ececec" text-anchor="middle" textLength="43.5" lengthAdjust="spacingAndGlyphs">collection</text>
<rect x="0" y="594" width="29.6" height="75.6" fill="#a6a6a6" stroke="none" stroke-width="0.7"/>
<text transform="translate(10.4,630) rotate(-90)" x="0" y="3.03" font-size="8.8" fill="#ececec" text-anchor="middle" textLength="59.4" lengthAdjust="spacingAndGlyphs">Methyl group</text>
<text transform="translate(21.6,629.7) rotate(-90)" x="0" y="3.03" font-size="8.8" fill="#ececec" text-anchor="middle" textLength="54.7" lengthAdjust="spacingAndGlyphs">dissimilation</text>
<rect x="0" y="672.2" width="29.6" height="114.4" fill="#a6a6a6" stroke="none" stroke-width="0.7"/>
<text transform="translate(10.4,725.4) rotate(-90)" x="0" y="3.03" font-size="8.8" fill="#ececec" text-anchor="middle" textLength="59.4" lengthAdjust="spacingAndGlyphs">Methyl group</text>
<text transform="translate(21.6,725.3) rotate(-90)" x="0" y="3.03" font-size="8.8" fill="#ececec" text-anchor="middle" textLength="51" lengthAdjust="spacingAndGlyphs">assimilation</text>
<rect x="97.1" y="602.1" width="63.75" height="58.7" fill="#f2f2f2" stroke="#000" stroke-width="2.1" stroke-dasharray="6.4 2.4"/>
<rect x="229.05" y="602.1" width="44.65" height="58.1" fill="#f2f2f2" stroke="#000" stroke-width="2.1" stroke-dasharray="6.4 2.4"/>
<rect x="302.5" y="602.1" width="113.3" height="58.1" fill="#f2f2f2" stroke="#000" stroke-width="2.1" stroke-dasharray="6.4 2.4"/>
<rect x="441" y="602.1" width="173.2" height="57.7" fill="#f2f2f2" stroke="#000" stroke-width="2.1" stroke-dasharray="6.4 2.4"/>
<rect x="636.8" y="602.1" width="40.9" height="57.7" fill="#f2f2f2" stroke="#000" stroke-width="2.1" stroke-dasharray="6.4 2.4"/>
<rect x="313.4" y="533.1" width="51.6" height="43.1" fill="#fff" stroke="#000" stroke-width="2.1" stroke-dasharray="6.4 2.4"/>
<path d="M171.5 472.2L171.5 499" fill="none" stroke="#44546a" stroke-width="1.6"/>
<path d="M171.5 501.5L168.96 495.6L171.5 497.13L174.04 495.6Z" fill="#44546a"/>
<path d="M169 520.4C172.5 580 175.5 640 180 668C183 680 186 683.3 187.7 683.3C189.5 683.3 193 680 195.5 668C199 645 203 590 206.4 542" fill="none" stroke="#44546a" stroke-width="1.6"/>
<path d="M206.7 538.9L209.03 544.88L206.55 543.26L203.96 544.71Z" fill="#44546a"/>
<path d="M219.1 572.7C217.5 610 214.5 640 211 660C209 672 206.5 680 203.2 686.8" fill="none" stroke="#44546a" stroke-width="1.6"/>
<path d="M202.3 689L202.49 682.58L204.15 685.04L207.09 684.72Z" fill="#44546a"/>
<path d="M248.1 534.2C246 520 240.5 514.2 236.8 514.6C230 516 224 533 221.4 550.5" fill="none" stroke="#44546a" stroke-width="1.6"/>
<path d="M221 553.6L219.31 547.4L221.61 549.28L224.33 548.11Z" fill="#44546a"/>
<path d="M276.5 531.7C275.8 565 270 595 262.3 601.6C257 596 252.5 575 250.3 555.5" fill="none" stroke="#44546a" stroke-width="1.6"/>
<path d="M250 552.6L253.14 558.2L250.46 556.94L248.09 558.73Z" fill="#44546a"/>
<path d="M204.9 520.4C207 497 222 481 240 473.5C253 468.5 268 465 280.8 464.4" fill="none" stroke="#44546a" stroke-width="1.6"/>
<path d="M283.8 464.3L277.99 467.04L279.44 464.45L277.82 461.97Z" fill="#44546a"/>
<path d="M238.3 474.3C262 476.5 282 490 294.5 512.3C303.5 527 308.3 560 309.1 595" fill="none" stroke="#44546a" stroke-width="1.6"/>
<path d="M309.2 598.3L306.56 592.45L309.12 593.93L311.63 592.36Z" fill="#44546a"/>
<path d="M307.2 471.4C308 490 312 528 321.2 533C328 530 333 512 335.2 497" fill="none" stroke="#44546a" stroke-width="1.6"/>
<path d="M335.8 494L337.05 500.3L334.89 498.27L332.09 499.24Z" fill="#44546a"/>
<path d="M346.1 505.8C348 520 352 530.5 356.7 531.7C360 531.2 363.5 528 365.3 525.6" fill="none" stroke="#44546a" stroke-width="1.6"/>
<path d="M366.7 523.7L365.39 529.99L364.2 527.28L361.24 527.08Z" fill="#44546a"/>
<path d="M338.5 582.5L338.5 596" fill="none" stroke="#44546a" stroke-width="1.6"/>
<path d="M338.5 598.8L335.96 592.9L338.5 594.43L341.04 592.9Z" fill="#44546a"/>
<path d="M371.2 556.3C373 580 378 597.5 384.2 599C390 597 394 589 396.8 579" fill="none" stroke="#44546a" stroke-width="1.6"/>
<path d="M397.5 576.4L398.42 582.76L396.37 580.62L393.52 581.44Z" fill="#44546a"/>
<path d="M400.6 576.4C403 590 408 599.5 414.4 600.3C418 600 421 597.5 423 594.5" fill="none" stroke="#44546a" stroke-width="1.6"/>
<path d="M424.4 592.3L422.77 598.51L421.71 595.74L418.77 595.39Z" fill="#44546a"/>
<path d="M417.4 559.6C445 562 470 578 487.5 601.9" fill="none" stroke="#44546a" stroke-width="1.6"/>
<path d="M487.5 601.9C497 615 512 640 524.2 660.1" fill="none" stroke="#8e8e8e" stroke-width="1.3" stroke-dasharray="3.6 1.8"/>
<path d="M524.2 660.1C535 686 543 722 544.9 755.5" fill="none" stroke="#44546a" stroke-width="1.6"/>
<path d="M545.2 758.6L542.26 752.89L544.9 754.24L547.32 752.54Z" fill="#44546a"/>
<path d="M532 652.8C544 680 555.5 722 556.9 755.5" fill="none" stroke="#44546a" stroke-width="1.6"/>
<path d="M557.2 758.6L554.26 752.89L556.9 754.24L559.32 752.54Z" fill="#44546a"/>
<path d="M370.5 538C430 542 490 552 520.4 563C548 573 566 585 579.5 596" fill="none" stroke="#44546a" stroke-width="1.6"/>
<path d="M581.5 597.8L575.35 595.95L578.16 594.99L578.61 592.06Z" fill="#44546a"/>
<path d="M167 638.7L223 638.7" fill="none" stroke="#44546a" stroke-width="1.6"/>
<path d="M225.4 638.7L219.5 641.24L221.03 638.7L219.5 636.16Z" fill="#44546a"/>
<path d="M164.6 638.7L170.5 636.16L168.97 638.7L170.5 641.24Z" fill="#44546a"/>
<path d="M282 639.2L297 639.2" fill="none" stroke="#44546a" stroke-width="1.6"/>
<path d="M299.5 639.2L293.6 641.74L295.13 639.2L293.6 636.66Z" fill="#44546a"/>
<path d="M279.4 639.2L285.3 636.66L283.77 639.2L285.3 641.74Z" fill="#44546a"/>
<path d="M422 639.7L436 639.7" fill="none" stroke="#44546a" stroke-width="1.6"/>
<path d="M438.2 639.7L432.3 642.24L433.83 639.7L432.3 637.16Z" fill="#44546a"/>
<path d="M419.4 639.7L425.3 637.16L423.77 639.7L425.3 642.24Z" fill="#44546a"/>
<path d="M483 639.2L503 639.2" fill="none" stroke="#44546a" stroke-width="1.6"/>
<path d="M505.4 639.2L499.5 641.74L501.03 639.2L499.5 636.66Z" fill="#44546a"/>
<path d="M480.3 639.2L486.2 636.66L484.67 639.2L486.2 641.74Z" fill="#44546a"/>
<path d="M543.5 639.2L565 639.2" fill="none" stroke="#44546a" stroke-width="1.6"/>
<path d="M567.5 639.2L561.6 641.74L563.13 639.2L561.6 636.66Z" fill="#44546a"/>
<path d="M541 639.2L546.9 636.66L545.37 639.2L546.9 641.74Z" fill="#44546a"/>
<path d="M548 639C555 638 559 633.5 560 628" fill="none" stroke="#44546a" stroke-width="1.6"/>
<path d="M560.4 625.3L562.09 631.5L559.79 629.62L557.07 630.79Z" fill="#44546a"/>
<path d="M617.1 638.3L630.5 638.3" fill="none" stroke="#44546a" stroke-width="1.6"/>
<path d="M633 638.3L627.1 640.84L628.63 638.3L627.1 635.76Z" fill="#44546a"/>
<path d="M656.5 663.7L656.5 694" fill="none" stroke="#44546a" stroke-width="1.6"/>
<path d="M656.5 696.8L653.96 690.9L656.5 692.43L659.04 690.9Z" fill="#44546a"/>
<path d="M656.5 727.8L656.5 757.6" fill="none" stroke="#44546a" stroke-width="1.6"/>
<path d="M656.5 760.5L653.96 754.6L656.5 756.13L659.04 754.6Z" fill="#44546a"/>
<path d="M102.5 673.9C112 664 125 661.3 135 662.4C152 665 165 674 173.5 684" fill="none" stroke="#44546a" stroke-width="1.6"/>
<path d="M175.1 686L169.36 683.11L172.29 682.66L173.25 679.85Z" fill="#44546a"/>
<path d="M88.4 702.8C88.6 697 90 692 92.3 687.8" fill="none" stroke="#44546a" stroke-width="1.6"/>
<path d="M93.5 685.7L92.75 692.08L91.32 689.48L88.35 689.54Z" fill="#44546a"/>
<path d="M163.8 736.7C140 750.5 112 747 94.2 722.7" fill="none" stroke="#44546a" stroke-width="1.6"/>
<path d="M92.5 720.4L98.08 723.59L95.13 723.89L94.02 726.64Z" fill="#44546a"/>
<path d="M160.8 738.6C151 744.5 146 751 144.8 756.5" fill="none" stroke="#44546a" stroke-width="1.6"/>
<path d="M144.5 759L142.81 752.8L145.11 754.68L147.83 753.51Z" fill="#44546a"/>
<path d="M179.6 704C180 710 178.8 715.5 177 719.3" fill="none" stroke="#44546a" stroke-width="1.6"/>
<path d="M175.9 721.7L175.76 715.28L177.54 717.65L180.46 717.18Z" fill="#44546a"/>
<path d="M297 677.7C285 668 268 661.5 250.5 661.5C235 662 221 671 211.2 684.5" fill="none" stroke="#44546a" stroke-width="1.6"/>
<path d="M209.8 686.5L211.11 680.21L212.3 682.92L215.26 683.12Z" fill="#44546a"/>
<path d="M231.7 694C255 694 279 702 293.2 714.9" fill="none" stroke="#44546a" stroke-width="1.6"/>
<path d="M295 716.6L288.95 714.43L291.81 713.62L292.42 710.72Z" fill="#44546a"/>
<path d="M313.5 733.1C320 740 326 750 328.2 758.5" fill="none" stroke="#44546a" stroke-width="1.6"/>
<path d="M328.7 760.9L324.99 755.66L327.79 756.63L329.95 754.6Z" fill="#44546a"/>
<path d="M188 731.7C194 738 197.5 748 198.1 758.5" fill="none" stroke="#44546a" stroke-width="1.6"/>
<path d="M198.2 760.9L195.46 755.09L198.05 756.54L200.53 754.92Z" fill="#44546a"/>
<path d="M192.3 727.3C220 728 250 738 265.7 754.8" fill="none" stroke="#44546a" stroke-width="1.6"/>
<path d="M267.4 756.5L261.52 753.92L264.42 753.31L265.23 750.45Z" fill="#44546a"/>
<path d="M354.8 684.7C358 672 364 662.6 370.4 662.6C378 663 386 684 390 702.8" fill="none" stroke="#44546a" stroke-width="1.6"/>
<path d="M390.5 705.3L386.79 700.06L389.59 701.03L391.75 699Z" fill="#44546a"/>
<path d="M393.5 726.2L393.5 756" fill="none" stroke="#44546a" stroke-width="1.6"/>
<path d="M393.5 758.9L390.96 753L393.5 754.53L396.04 753Z" fill="#44546a"/>
<path d="M418.9 663.1C445 684 463.5 724 469.8 755.5" fill="none" stroke="#44546a" stroke-width="1.6"/>
<path d="M470.5 758L466.35 753.1L469.22 753.82L471.2 751.62Z" fill="#44546a"/>
<path d="M112.6 564.6C116 582 123 600 130.7 601.3C136 600 142 591 144.9 581.5" fill="none" stroke="#44546a" stroke-width="1.6"/>
<path d="M145.7 579L146.29 585.4L144.35 583.15L141.46 583.83Z" fill="#44546a"/>
<line x1="132.6" y1="621.8" x2="132.6" y2="630" stroke="#111" stroke-width="1.5"/>
<ellipse cx="133.4" cy="641.1" rx="12.05" ry="11.0" fill="#ed7d31" stroke="#111" stroke-width="1.5"/>
<text transform="translate(133.5,643.4) scale(0.95,1)" font-size="9" fill="#1a1a1a" text-anchor="middle">B<tspan dy="3" font-size="6.8">12</tspan><tspan dy="-3">&#8203;</tspan></text>
<line x1="251.8" y1="622.5" x2="251.8" y2="631" stroke="#111" stroke-width="1.5"/>
<rect x="236.8" y="630.7" width="30.6" height="17.4" fill="#ffc000" stroke="#111" stroke-width="1.5" rx="3" ry="3"/>
<text transform="translate(252.1,642.9) scale(0.93,1)" font-size="9.6" fill="#222" text-anchor="middle">THF</text>
<line x1="357.3" y1="623" x2="357.3" y2="631" stroke="#111" stroke-width="1.5"/>
<rect x="342" y="630.7" width="30.9" height="17.4" fill="#ffc000" stroke="#111" stroke-width="1.5" rx="3" ry="3"/>
<text transform="translate(357.45,642.9) scale(0.93,1)" font-size="9.6" fill="#222" text-anchor="middle">THF</text>
<line x1="462.2" y1="622.5" x2="462.2" y2="631" stroke="#111" stroke-width="1.5"/>
<rect x="446.9" y="630.7" width="30.5" height="17.4" fill="#ffc000" stroke="#111" stroke-width="1.5" rx="3" ry="3"/>
<text transform="translate(462.15,642.9) scale(0.93,1)" font-size="9.6" fill="#222" text-anchor="middle">THF</text>
<line x1="523.2" y1="623" x2="523.2" y2="631" stroke="#111" stroke-width="1.5"/>
<rect x="507.6" y="630.7" width="30.6" height="17.4" fill="#ffc000" stroke="#111" stroke-width="1.5" rx="3" ry="3"/>
<text transform="translate(522.9,642.9) scale(0.93,1)" font-size="9.6" fill="#222" text-anchor="middle">THF</text>
<text transform="translate(168.4,467.2) scale(1.01,1)" font-size="9.6" fill="#1a1a1a" text-anchor="middle">Choline</text>
<text x="139.5" y="483.5" font-size="9.6" fill="#1a1a1a" textLength="24.4" lengthAdjust="spacingAndGlyphs"><tspan fill="#3578bd">16</tspan><tspan fill="#222">,</tspan><tspan fill="#3578bd">20</tspan></text>
<text x="139.5" y="494.8" font-size="9.6" fill="#1a1a1a" textLength="24.4" lengthAdjust="spacingAndGlyphs"><tspan fill="#3578bd">23</tspan><tspan fill="#222">,</tspan><tspan fill="#3578bd">36</tspan></text>
<text transform="translate(170.2,514.9) scale(1.01,1)" font-size="9.6" fill="#1a1a1a" text-anchor="middle">Betaine</text>
<text transform="translate(112.6,558.9) scale(1.01,1)" font-size="9.6" fill="#1a1a1a" text-anchor="middle">Betaine?</text>
<text transform="translate(146.5,575.2) scale(0.94,1)" font-size="9.6" fill="#1a1a1a" text-anchor="middle">DMG?</text>
<text x="132.4" y="591.8" font-size="9.6" fill="#3578bd" text-anchor="middle">3</text>
<text transform="translate(205.4,531.7) scale(0.92,1)" font-size="9.6" fill="#1a1a1a" text-anchor="middle">DMG</text>
<text x="230.5" y="474" font-size="9.6" fill="#3578bd" text-anchor="middle">5</text>
<text x="228" y="494.8" font-size="9.6" fill="#1a1a1a" textLength="21.8" lengthAdjust="spacingAndGlyphs"><tspan fill="#3578bd">4</tspan><tspan fill="#222">,</tspan><tspan fill="#3578bd">7</tspan><tspan fill="#222">,</tspan><tspan fill="#3578bd">8</tspan></text>
<text x="228" y="506.1" font-size="9.6" fill="#1a1a1a" textLength="18.6" lengthAdjust="spacingAndGlyphs"><tspan fill="#3578bd">9</tspan><tspan fill="#222">,</tspan><tspan fill="#3578bd">17</tspan></text>
<text transform="translate(248.8,546.8) scale(0.95,1)" font-size="9.6" fill="#1a1a1a" text-anchor="middle">3-MMPA</text>
<text transform="translate(274,526.2) scale(0.92,1)" font-size="9.6" fill="#1a1a1a" text-anchor="middle">DMSP</text>
<text transform="translate(222.9,567.2) scale(0.95,1)" font-size="9.6" fill="#1a1a1a" text-anchor="middle">MeSH</text>
<text x="225.4" y="588" font-size="9.6" fill="#3578bd" text-anchor="middle">15</text>
<text x="261.8" y="589.3" font-size="9.6" fill="#3578bd" text-anchor="middle">25</text>
<text x="310.5" y="467.9" font-size="9.6" fill="#1a1a1a" text-anchor="middle" textLength="42.3" lengthAdjust="spacingAndGlyphs">Sarcosine</text>
<text x="295.9" y="484.3" font-size="9.6" fill="#3578bd" text-anchor="middle">12</text>
<text x="317" y="483.5" font-size="9.6" fill="#3578bd" text-anchor="middle">13</text>
<text x="299.6" y="496.8" font-size="9.6" fill="#3578bd" text-anchor="middle">14</text>
<text x="318.5" y="496.8" font-size="9.6" fill="#3578bd" text-anchor="middle">18</text>
<text x="301.7" y="509.1" font-size="9.6" fill="#3578bd" text-anchor="middle">24</text>
<text x="320.3" y="509.1" font-size="9.6" fill="#3578bd" text-anchor="middle">37</text>
<text x="305.2" y="522.9" font-size="9.6" fill="#3578bd" text-anchor="middle">31</text>
<text x="360.5" y="520.4" font-size="9.6" fill="#3578bd" text-anchor="middle">28</text>
<text x="348.5" y="489" font-size="9.6" fill="#1a1a1a" text-anchor="middle" textLength="33" lengthAdjust="spacingAndGlyphs">Glycine</text>
<text x="369.2" y="501.8" font-size="9.6" fill="#1a1a1a" text-anchor="middle" textLength="52.7" lengthAdjust="spacingAndGlyphs">Stachydrine</text>
<text x="370.5" y="520.7" font-size="9.6" fill="#1a1a1a" textLength="63.5" lengthAdjust="spacingAndGlyphs">Methyl proline</text>
<text x="339.05" y="555.14" font-size="6.8" fill="#222" text-anchor="middle" textLength="43.9" lengthAdjust="spacingAndGlyphs">Formaldehyde</text>
<text x="369.8" y="552.1" font-size="9.6" fill="#1a1a1a" textLength="28.2" lengthAdjust="spacingAndGlyphs">Serine</text>
<text x="378.4" y="564.2" font-size="9.6" fill="#1a1a1a" textLength="34" lengthAdjust="spacingAndGlyphs">Glycine</text>
<text x="384.7" y="581.5" font-size="9.6" fill="#9a9a9a" text-anchor="middle">67</text>
<text x="405.6" y="581.7" font-size="9.6" fill="#1a1a1a" textLength="37.2" lengthAdjust="spacingAndGlyphs"><tspan fill="#f41a1f">80</tspan><tspan fill="#222">,</tspan><tspan fill="#9a9a9a">68</tspan><tspan fill="#222">,</tspan><tspan fill="#9a9a9a">71</tspan></text>
<text x="428.7" y="595.3" font-size="9.6" fill="#1a1a1a" textLength="18.3" lengthAdjust="spacingAndGlyphs">CO<tspan dy="2.8" font-size="6.8">2</tspan><tspan dy="-2.8">&#8203;</tspan></text>
<text x="551.1" y="565.2" font-size="9.6" fill="#1a1a1a" text-anchor="middle"><tspan fill="#9a9a9a">62</tspan><tspan fill="#9a9a9a">,</tspan><tspan fill="#9a9a9a">69</tspan></text>
<text x="468.9" y="467.6" font-size="9.6" fill="#8a8a8a" textLength="47.2" lengthAdjust="spacingAndGlyphs">Accessory:</text>
<line x1="468.1" y1="470.6" x2="602" y2="470.6" stroke="#8a8a8a" stroke-width="0.8"/>
<text x="468.9" y="482.2" font-size="9.6" fill="#8a8a8a" textLength="26.4" lengthAdjust="spacingAndGlyphs">BCCT:</text>
<text x="501.6" y="483" font-size="9.6" fill="#1a1a1a" textLength="87.4" lengthAdjust="spacingAndGlyphs"><tspan fill="#3578bd">6</tspan><tspan fill="#222">,</tspan><tspan fill="#3578bd">19</tspan><tspan fill="#222">,</tspan><tspan fill="#3578bd">40</tspan><tspan fill="#222">,</tspan><tspan fill="#3578bd">46</tspan><tspan fill="#222">,</tspan><tspan fill="#3578bd">52</tspan><tspan fill="#222">,</tspan><tspan fill="#3578bd">58</tspan><tspan fill="#222">,</tspan><tspan fill="#f41a1f">75</tspan></text>
<text x="468.9" y="496.5" font-size="9.6" fill="#8a8a8a" textLength="72.9" lengthAdjust="spacingAndGlyphs">Folate synthesis:</text>
<text x="545.5" y="495.5" font-size="9.6" fill="#1a1a1a" textLength="60.8" lengthAdjust="spacingAndGlyphs"><tspan fill="#3578bd">11</tspan><tspan fill="#222">,</tspan><tspan fill="#3578bd">22</tspan><tspan fill="#222">,</tspan><tspan fill="#3578bd">32</tspan><tspan fill="#222">,</tspan><tspan fill="#3578bd">35</tspan><tspan fill="#222">,</tspan><tspan fill="#3578bd">57</tspan></text>
<text transform="translate(132.5,616.8) scale(0.95,1)" font-size="9.6" fill="#1a1a1a" text-anchor="middle">CH<tspan dy="2.8" font-size="6.8">3</tspan><tspan dy="-2.8">&#8203;</tspan></text>
<text x="110.8" y="630.5" font-size="9.6" fill="#3578bd" text-anchor="middle">55</text>
<text x="189" y="630.7" font-size="9.6" fill="#9a9a9a" text-anchor="middle">63</text>
<text transform="translate(252.2,617.4) scale(0.95,1)" font-size="9.6" fill="#1a1a1a" text-anchor="middle">CH<tspan dy="2.8" font-size="6.8">3</tspan><tspan dy="-2.8">&#8203;</tspan></text>
<text x="288.7" y="631.3" font-size="9.6" fill="#f41a1f" text-anchor="middle">79</text>
<text x="288.2" y="655.6" font-size="9.6" fill="#9a9a9a" text-anchor="middle">61</text>
<text transform="translate(357.7,618.7) scale(0.95,1)" font-size="9.6" fill="#1a1a1a" text-anchor="middle">CH<tspan dy="2.8" font-size="6.8">2</tspan><tspan dy="-2.8">&#8203;</tspan></text>
<text x="429" y="630" font-size="9.6" fill="#3578bd" text-anchor="middle">45</text>
<text transform="translate(465.6,617.7) scale(0.95,1)" font-size="9.6" fill="#1a1a1a" text-anchor="middle">CH<tspan dy="-3.4" font-size="7">+</tspan><tspan dy="--3.4">&#8203;</tspan></text>
<text x="489.8" y="631.3" font-size="9.6" fill="#3578bd" text-anchor="middle">45</text>
<text transform="translate(521,618.7) scale(0.92,1)" font-size="9.6" fill="#1a1a1a" text-anchor="middle">CHO</text>
<text x="546.3" y="630.5" font-size="9.6" fill="#3578bd" text-anchor="middle">29</text>
<text transform="translate(561.2,617.6) scale(0.92,1)" font-size="9.6" fill="#1a1a1a" text-anchor="middle">ATP</text>
<text x="588.3" y="618.49" font-size="11.3" fill="#111" text-anchor="middle">O</text>
<text x="588.6" y="633.39" font-size="11.3" fill="#111" text-anchor="middle">C</text>
<text x="574.9" y="641.29" font-size="11.3" fill="#111" text-anchor="middle">O</text>
<text x="601.3" y="641.29" font-size="11.3" fill="#111" text-anchor="middle">H</text>
<line x1="587.2" y1="619.4" x2="587.2" y2="624.2" stroke="#111" stroke-width="0.8"/>
<line x1="589.6" y1="619.4" x2="589.6" y2="624.2" stroke="#111" stroke-width="0.8"/>
<line x1="579.4" y1="634.8" x2="583.6" y2="632.3" stroke="#111" stroke-width="0.8"/>
<line x1="593.2" y1="632" x2="596.6" y2="634.2" stroke="#111" stroke-width="0.8"/>
<text transform="translate(590.6,654.1) scale(1.01,1)" font-size="9.6" fill="#1a1a1a" text-anchor="middle">Formate</text>
<text x="624.6" y="603.8" font-size="9.6" fill="#3578bd" text-anchor="middle">47</text>
<text x="624.6" y="616.3" font-size="9.6" fill="#3578bd" text-anchor="middle">49</text>
<text x="624.6" y="628.7" font-size="9.6" fill="#3578bd" text-anchor="middle">50</text>
<text transform="translate(658.3,642.3) scale(0.95,1)" font-size="9.6" fill="#1a1a1a" text-anchor="middle">CO<tspan dy="2.8" font-size="6.8">2</tspan><tspan dy="-2.8">&#8203;</tspan></text>
<text x="136.4" y="674.7" font-size="9.6" fill="#f41a1f" text-anchor="middle">82</text>
<text x="84.9" y="682.7" font-size="9.6" fill="#1a1a1a" text-anchor="middle" textLength="62.8" lengthAdjust="spacingAndGlyphs">Homocysteine</text>
<text x="78.6" y="697.8" font-size="9.6" fill="#f41a1f" text-anchor="middle">76</text>
<text transform="translate(89.7,714.7) scale(0.92,1)" font-size="9.6" fill="#1a1a1a" text-anchor="middle">SAM</text>
<text transform="translate(130.2,702.8) scale(1.02,1)" font-size="9.6" fill="#a3a3a3" text-anchor="middle" font-style="italic">Methionine</text>
<text transform="translate(130,713.7) scale(1.03,1)" font-size="9.6" fill="#a3a3a3" text-anchor="middle" font-style="italic">cycle</text>
<text x="188.2" y="663.9" font-size="9.6" fill="#f41a1f" text-anchor="middle">82</text>
<text transform="translate(194.7,697.8) scale(1.02,1)" font-size="9.6" fill="#1a1a1a" text-anchor="middle">Methionine</text>
<text x="166.8" y="712.4" font-size="9.6" fill="#f41a1f" text-anchor="middle">83</text>
<text transform="translate(174.4,733) scale(0.92,1)" font-size="9.6" fill="#1a1a1a" text-anchor="middle">SAM</text>
<text x="253.8" y="672.7" font-size="9.6" fill="#9a9a9a" text-anchor="middle">65</text>
<text x="290.7" y="689.3" font-size="9.6" fill="#1a1a1a" text-anchor="middle" textLength="62.8" lengthAdjust="spacingAndGlyphs">Homocysteine</text>
<text x="249.2" y="709.1" font-size="9.6" fill="#3578bd" text-anchor="middle">30</text>
<text x="264.3" y="716.2" font-size="9.6" fill="#3578bd" text-anchor="middle">44</text>
<text transform="translate(300.3,729.5) scale(0.97,1)" font-size="9.6" fill="#1a1a1a" text-anchor="middle">tRNA-Met</text>
<text x="260" y="742" font-size="9.6" fill="#9a9a9a" text-anchor="middle">66</text>
<text x="213.6" y="751.3" font-size="9.6" fill="#1a1a1a" text-anchor="middle"><tspan fill="#3578bd">1</tspan><tspan fill="#222">,</tspan><tspan fill="#3578bd">2</tspan><tspan fill="#222">,</tspan><tspan fill="#3578bd">21</tspan></text>
<text x="48.9" y="744" font-size="9.6" fill="#1a1a1a" textLength="50.7" lengthAdjust="spacingAndGlyphs"><tspan fill="#3578bd">34</tspan><tspan fill="#222">,</tspan><tspan fill="#3578bd">39</tspan><tspan fill="#222">,</tspan><tspan fill="#3578bd">41</tspan><tspan fill="#222">,</tspan><tspan fill="#3578bd">42</tspan></text>
<text x="48.9" y="754.4" font-size="9.6" fill="#1a1a1a" textLength="50.7" lengthAdjust="spacingAndGlyphs"><tspan fill="#3578bd">48</tspan><tspan fill="#222">,</tspan><tspan fill="#3578bd">51</tspan><tspan fill="#222">,</tspan><tspan fill="#3578bd">56</tspan><tspan fill="#222">,</tspan><tspan fill="#9a9a9a">59</tspan></text>
<text x="48.7" y="766.8" font-size="9.6" fill="#1a1a1a" textLength="51.6" lengthAdjust="spacingAndGlyphs"><tspan fill="#9a9a9a">60</tspan><tspan fill="#222">,</tspan><tspan fill="#9a9a9a">70</tspan><tspan fill="#222">,</tspan><tspan fill="#9a9a9a">72</tspan><tspan fill="#222">,</tspan><tspan fill="#9a9a9a">73</tspan></text>
<text x="48.7" y="777.5" font-size="9.6" fill="#1a1a1a" textLength="47.6" lengthAdjust="spacingAndGlyphs"><tspan fill="#9a9a9a">74</tspan><tspan fill="#222">,</tspan><tspan fill="#f41a1f">77</tspan><tspan fill="#222">,</tspan><tspan fill="#f41a1f">78</tspan><tspan fill="#222">,</tspan><tspan fill="#f41a1f">81</tspan></text>
<text transform="translate(140,773.1) scale(1.01,1)" font-size="9.6" fill="#a3a3a3" text-anchor="middle">Methyl-</text>
<text transform="translate(140,784.2) scale(1.03,1)" font-size="9.6" fill="#a3a3a3" text-anchor="middle">transferases</text>
<text transform="translate(204.9,773.1) scale(1.02,1)" font-size="9.6" fill="#a3a3a3" text-anchor="middle">Spermidine</text>
<text transform="translate(204.9,784.2) scale(1.03,1)" font-size="9.6" fill="#a3a3a3" text-anchor="middle">synthesis</text>
<text transform="translate(268.8,773.1) scale(0.92,1)" font-size="9.6" fill="#a3a3a3" text-anchor="middle">AHL</text>
<text transform="translate(268.8,784.2) scale(1.03,1)" font-size="9.6" fill="#a3a3a3" text-anchor="middle">synthesis</text>
<text transform="translate(325.8,773.1) scale(1.01,1)" font-size="9.6" fill="#a3a3a3" text-anchor="middle">Protein</text>
<text transform="translate(325.8,784.2) scale(1.03,1)" font-size="9.6" fill="#a3a3a3" text-anchor="middle">synthesis</text>
<text transform="translate(392.6,773.1) scale(1.01,1)" font-size="9.6" fill="#a3a3a3" text-anchor="middle">Gluconeo-</text>
<text transform="translate(392.6,784.2) scale(1.03,1)" font-size="9.6" fill="#a3a3a3" text-anchor="middle">genesis</text>
<text transform="translate(467.6,773.1) scale(1.01,1)" font-size="9.6" fill="#a3a3a3" text-anchor="middle">Thymine</text>
<text transform="translate(467.6,784.2) scale(1.03,1)" font-size="9.6" fill="#a3a3a3" text-anchor="middle">synthesis</text>
<text transform="translate(550.9,773.1) scale(1.01,1)" font-size="9.6" fill="#a3a3a3" text-anchor="middle">Purine</text>
<text transform="translate(550.9,784.2) scale(1.03,1)" font-size="9.6" fill="#a3a3a3" text-anchor="middle">synthesis</text>
<text transform="translate(655.1,773.1) scale(1.02,1)" font-size="9.6" fill="#a3a3a3" text-anchor="middle">Ethylmalonyl</text>
<text transform="translate(655.1,784.2) scale(1.03,1)" font-size="9.6" fill="#a3a3a3" text-anchor="middle">pathway</text>
<text x="369.6" y="681.5" font-size="9.6" fill="#9a9a9a" text-anchor="middle">67</text>
<text transform="translate(357.3,698.1) scale(1.01,1)" font-size="9.6" fill="#1a1a1a" text-anchor="middle">Glycine</text>
<text transform="translate(394.3,719.2) scale(1.01,1)" font-size="9.6" fill="#1a1a1a" text-anchor="middle">Serine</text>
<text x="440" y="708.1" font-size="9.6" fill="#3578bd" text-anchor="middle">43</text>
<text x="446.3" y="719.2" font-size="9.6" fill="#9a9a9a" text-anchor="middle">64</text>
<text x="531.5" y="716.8" font-size="9.6" fill="#3578bd" text-anchor="middle">26</text>
<text x="569.2" y="718.5" font-size="9.6" fill="#1a1a1a" text-anchor="middle"><tspan fill="#3578bd">33</tspan><tspan fill="#222">,</tspan><tspan fill="#3578bd">53</tspan></text>
<text x="639.2" y="683.2" font-size="9.6" fill="#1a1a1a" text-anchor="middle"><tspan fill="#3578bd">27</tspan><tspan fill="#222">,</tspan><tspan fill="#3578bd">38</tspan></text>
<text transform="translate(655.1,709.3) scale(1.02,1)" font-size="9.6" fill="#a3a3a3" text-anchor="middle">Inorganic</text>
<text transform="translate(655.1,720.6) scale(1.03,1)" font-size="9.6" fill="#a3a3a3" text-anchor="middle">carbon pump</text>
<text x="639.2" y="744.6" font-size="9.6" fill="#1a1a1a" text-anchor="middle"><tspan fill="#3578bd">10</tspan><tspan fill="#222">,</tspan><tspan fill="#3578bd">54</tspan></text>
</g>
<g id="molecules">
<line x1="55.6" y1="836.7" x2="55.6" y2="826.3" stroke="#2a2a2a" stroke-width="0.75"/>
<circle cx="55.6" cy="826.3" r="3.8" fill="#2e75c3" stroke="none" stroke-width="0.5"/>
<line x1="52.06" y1="838.65" x2="43.8" y2="833.4" stroke="#2a2a2a" stroke-width="0.75"/>
<circle cx="43.8" cy="833.4" r="3.8" fill="#2e75c3" stroke="none" stroke-width="0.5"/>
<line x1="51.96" y1="843" x2="43.8" y2="847.7" stroke="#2a2a2a" stroke-width="0.75"/>
<circle cx="43.8" cy="847.7" r="3.8" fill="#2e75c3" stroke="none" stroke-width="0.5"/>
<line x1="59.69" y1="842.53" x2="66.4" y2="845.2" stroke="#2a2a2a" stroke-width="0.75"/>
<line x1="66.4" y1="845.2" x2="76.5" y2="841.4" stroke="#2a2a2a" stroke-width="0.75"/>
<line x1="76.5" y1="841.4" x2="81.21" y2="844.17" stroke="#2a2a2a" stroke-width="0.75"/>
<text x="55.6" y="844.06" font-size="9.2" fill="#111" text-anchor="middle">N</text>
<text x="88.5" y="849.56" font-size="9.2" fill="#111" text-anchor="middle">OH</text>
<circle cx="55.6" cy="848.6" r="3.1" fill="#fff" stroke="#555" stroke-width="0.55"/>
<line x1="54" y1="848.6" x2="57.2" y2="848.6" stroke="#333" stroke-width="0.6"/>
<line x1="55.6" y1="847" x2="55.6" y2="850.2" stroke="#333" stroke-width="0.6"/>
<text transform="translate(70.2,866.6) scale(1.01,1)" font-size="9.6" fill="#222" text-anchor="middle">Choline</text>
<line x1="121" y1="837.2" x2="121" y2="828.3" stroke="#2a2a2a" stroke-width="0.75"/>
<circle cx="121" cy="828.3" r="3.8" fill="#2e75c3" stroke="none" stroke-width="0.5"/>
<line x1="117.24" y1="839.54" x2="109.9" y2="835.9" stroke="#2a2a2a" stroke-width="0.75"/>
<circle cx="109.9" cy="835.9" r="3.8" fill="#2e75c3" stroke="none" stroke-width="0.5"/>
<line x1="117.35" y1="843.47" x2="109.9" y2="847.7" stroke="#2a2a2a" stroke-width="0.75"/>
<circle cx="109.9" cy="847.7" r="3.8" fill="#2e75c3" stroke="none" stroke-width="0.5"/>
<line x1="124.76" y1="843.69" x2="130.5" y2="847.2" stroke="#2a2a2a" stroke-width="0.75"/>
<line x1="130.5" y1="847.2" x2="139.8" y2="842.2" stroke="#2a2a2a" stroke-width="0.75"/>
<line x1="140.95" y1="842.2" x2="140.95" y2="834.8" stroke="#2a2a2a" stroke-width="0.75"/>
<line x1="138.65" y1="842.2" x2="138.65" y2="834.8" stroke="#2a2a2a" stroke-width="0.75"/>
<line x1="139.8" y1="842.2" x2="145.58" y2="845.55" stroke="#2a2a2a" stroke-width="0.75"/>
<text x="139.8" y="833.76" font-size="9.2" fill="#111" text-anchor="middle">O</text>
<text x="149.3" y="850.86" font-size="9.2" fill="#111" text-anchor="middle">O</text>
<circle cx="154.9" cy="841.4" r="3.1" fill="#fff" stroke="#555" stroke-width="0.55"/>
<line x1="153.3" y1="841.4" x2="156.5" y2="841.4" stroke="#333" stroke-width="0.6"/>
<text x="121" y="844.56" font-size="9.2" fill="#111" text-anchor="middle">N</text>
<circle cx="121" cy="849.2" r="3.1" fill="#fff" stroke="#555" stroke-width="0.55"/>
<line x1="119.4" y1="849.2" x2="122.6" y2="849.2" stroke="#333" stroke-width="0.6"/>
<line x1="121" y1="847.6" x2="121" y2="850.8" stroke="#333" stroke-width="0.6"/>
<text transform="translate(137.3,866.1) scale(1.01,1)" font-size="9.6" fill="#222" text-anchor="middle">Betaine</text>
<line x1="185.1" y1="837" x2="185.1" y2="828.1" stroke="#2a2a2a" stroke-width="0.75"/>
<circle cx="185.1" cy="828.1" r="3.8" fill="#2e75c3" stroke="none" stroke-width="0.5"/>
<line x1="181.22" y1="843.47" x2="173.3" y2="847.7" stroke="#2a2a2a" stroke-width="0.75"/>
<circle cx="173.3" cy="847.7" r="3.8" fill="#2e75c3" stroke="none" stroke-width="0.5"/>
<line x1="194" y1="843.8" x2="197.7" y2="846.9" stroke="#2a2a2a" stroke-width="0.75"/>
<line x1="197.7" y1="846.9" x2="205.2" y2="841.9" stroke="#2a2a2a" stroke-width="0.75"/>
<line x1="206.35" y1="841.9" x2="206.35" y2="834.3" stroke="#2a2a2a" stroke-width="0.75"/>
<line x1="204.05" y1="841.9" x2="204.05" y2="834.3" stroke="#2a2a2a" stroke-width="0.75"/>
<line x1="205.2" y1="841.9" x2="210.41" y2="845.33" stroke="#2a2a2a" stroke-width="0.75"/>
<text x="205.2" y="833.26" font-size="9.2" fill="#111" text-anchor="middle">O</text>
<text x="214" y="850.86" font-size="9.2" fill="#111" text-anchor="middle">O</text>
<circle cx="220.3" cy="841.4" r="3.1" fill="#fff" stroke="#555" stroke-width="0.55"/>
<line x1="218.7" y1="841.4" x2="221.9" y2="841.4" stroke="#333" stroke-width="0.6"/>
<text x="188.3" y="844.56" font-size="9.2" fill="#111" text-anchor="middle">NH</text>
<circle cx="185.1" cy="849.2" r="3.1" fill="#fff" stroke="#555" stroke-width="0.55"/>
<line x1="183.5" y1="849.2" x2="186.7" y2="849.2" stroke="#333" stroke-width="0.6"/>
<line x1="185.1" y1="847.6" x2="185.1" y2="850.8" stroke="#333" stroke-width="0.6"/>
<text transform="translate(196.9,864.8) scale(0.92,1)" font-size="9.6" fill="#222" text-anchor="middle">DMG</text>
<line x1="251.61" y1="842.96" x2="244.2" y2="846.9" stroke="#2a2a2a" stroke-width="0.75"/>
<circle cx="244.2" cy="846.9" r="3.8" fill="#2e75c3" stroke="none" stroke-width="0.5"/>
<line x1="259.44" y1="842.87" x2="265.5" y2="845.9" stroke="#2a2a2a" stroke-width="0.75"/>
<line x1="265.5" y1="845.9" x2="274.8" y2="841.4" stroke="#2a2a2a" stroke-width="0.75"/>
<line x1="275.95" y1="841.4" x2="275.95" y2="833.8" stroke="#2a2a2a" stroke-width="0.75"/>
<line x1="273.65" y1="841.4" x2="273.65" y2="833.8" stroke="#2a2a2a" stroke-width="0.75"/>
<line x1="274.8" y1="841.4" x2="280.67" y2="844.76" stroke="#2a2a2a" stroke-width="0.75"/>
<text x="274.8" y="832.76" font-size="9.2" fill="#111" text-anchor="middle">O</text>
<text x="284.4" y="850.06" font-size="9.2" fill="#111" text-anchor="middle">O</text>
<circle cx="290.2" cy="840.9" r="3.1" fill="#fff" stroke="#555" stroke-width="0.55"/>
<line x1="288.6" y1="840.9" x2="291.8" y2="840.9" stroke="#333" stroke-width="0.6"/>
<text x="255.5" y="844.06" font-size="9.2" fill="#111" text-anchor="middle">N</text>
<text x="257" y="835.06" font-size="9.2" fill="#111" text-anchor="middle">H<tspan dy="2.6" font-size="6.6">2</tspan><tspan dy="-2.6">&#8203;</tspan></text>
<circle cx="255.5" cy="848.6" r="3.1" fill="#fff" stroke="#555" stroke-width="0.55"/>
<line x1="253.9" y1="848.6" x2="257.1" y2="848.6" stroke="#333" stroke-width="0.6"/>
<line x1="255.5" y1="847" x2="255.5" y2="850.2" stroke="#333" stroke-width="0.6"/>
<text transform="translate(263,865.6) scale(1.02,1)" font-size="9.6" fill="#222" text-anchor="middle">Sarcosine</text>
<line x1="327.6" y1="842" x2="334.4" y2="844.4" stroke="#2a2a2a" stroke-width="0.75"/>
<line x1="334.4" y1="844.4" x2="344" y2="839.4" stroke="#2a2a2a" stroke-width="0.75"/>
<circle cx="334.4" cy="844.4" r="3.8" fill="#2e75c3" stroke="none" stroke-width="0.5"/>
<line x1="345.15" y1="839.4" x2="345.15" y2="832.3" stroke="#2a2a2a" stroke-width="0.75"/>
<line x1="342.85" y1="839.4" x2="342.85" y2="832.3" stroke="#2a2a2a" stroke-width="0.75"/>
<line x1="344" y1="839.4" x2="349.83" y2="842.96" stroke="#2a2a2a" stroke-width="0.75"/>
<text x="344" y="831.26" font-size="9.2" fill="#111" text-anchor="middle">O</text>
<text x="353.5" y="848.36" font-size="9.2" fill="#111" text-anchor="middle">O</text>
<circle cx="360.3" cy="838.9" r="3.1" fill="#fff" stroke="#555" stroke-width="0.55"/>
<line x1="358.7" y1="838.9" x2="361.9" y2="838.9" stroke="#333" stroke-width="0.6"/>
<text x="318.3" y="843.36" font-size="9.2" fill="#111" text-anchor="middle">H<tspan dy="2.6" font-size="6.6">3</tspan><tspan dy="-2.6">&#8203;</tspan>N</text>
<circle cx="323.9" cy="847.4" r="3.1" fill="#fff" stroke="#555" stroke-width="0.55"/>
<line x1="322.3" y1="847.4" x2="325.5" y2="847.4" stroke="#333" stroke-width="0.6"/>
<line x1="323.9" y1="845.8" x2="323.9" y2="849" stroke="#333" stroke-width="0.6"/>
<text transform="translate(339.4,865.6) scale(1.01,1)" font-size="9.6" fill="#222" text-anchor="middle">Glycine</text>
<line x1="391.6" y1="824.7" x2="398.5" y2="828.1" stroke="#2a2a2a" stroke-width="0.75"/>
<line x1="398.5" y1="828.1" x2="398.5" y2="840.2" stroke="#2a2a2a" stroke-width="0.75"/>
<line x1="398.5" y1="840.2" x2="404.86" y2="844.57" stroke="#2a2a2a" stroke-width="0.75"/>
<line x1="398.5" y1="828.1" x2="408.5" y2="823.1" stroke="#2a2a2a" stroke-width="0.75"/>
<circle cx="398.5" cy="840.2" r="3.8" fill="#2e75c3" stroke="none" stroke-width="0.5"/>
<line x1="409.65" y1="823.1" x2="409.65" y2="815.5" stroke="#2a2a2a" stroke-width="0.75"/>
<line x1="407.35" y1="823.1" x2="407.35" y2="815.5" stroke="#2a2a2a" stroke-width="0.75"/>
<line x1="408.5" y1="823.1" x2="414.42" y2="826.68" stroke="#2a2a2a" stroke-width="0.75"/>
<text x="408.5" y="814.46" font-size="9.2" fill="#111" text-anchor="middle">O</text>
<text x="418.1" y="832.06" font-size="9.2" fill="#111" text-anchor="middle">O</text>
<circle cx="424.9" cy="823.1" r="3.1" fill="#fff" stroke="#555" stroke-width="0.55"/>
<line x1="423.3" y1="823.1" x2="426.5" y2="823.1" stroke="#333" stroke-width="0.6"/>
<text x="382.4" y="826.26" font-size="9.2" fill="#111" text-anchor="middle">H<tspan dy="2.6" font-size="6.6">3</tspan><tspan dy="-2.6">&#8203;</tspan>N</text>
<circle cx="387.4" cy="830.7" r="3.1" fill="#fff" stroke="#555" stroke-width="0.55"/>
<line x1="385.8" y1="830.7" x2="389" y2="830.7" stroke="#333" stroke-width="0.6"/>
<line x1="387.4" y1="829.1" x2="387.4" y2="832.3" stroke="#333" stroke-width="0.6"/>
<text x="411.9" y="850.16" font-size="9.2" fill="#111" text-anchor="middle">OH</text>
<text transform="translate(403,865.6) scale(1.01,1)" font-size="9.6" fill="#222" text-anchor="middle">Serine</text>
<line x1="469.04" y1="834.18" x2="470.2" y2="828.4" stroke="#2a2a2a" stroke-width="0.75"/>
<line x1="470.2" y1="828.4" x2="461.4" y2="823.8" stroke="#2a2a2a" stroke-width="0.75"/>
<line x1="461.4" y1="823.8" x2="453.4" y2="830.1" stroke="#2a2a2a" stroke-width="0.75"/>
<line x1="453.4" y1="830.1" x2="457.6" y2="840.2" stroke="#2a2a2a" stroke-width="0.75"/>
<line x1="457.6" y1="840.2" x2="463.76" y2="839.15" stroke="#2a2a2a" stroke-width="0.75"/>
<line x1="470.2" y1="828.4" x2="479" y2="823.1" stroke="#2a2a2a" stroke-width="0.75"/>
<line x1="480.15" y1="823.1" x2="480.15" y2="816.2" stroke="#2a2a2a" stroke-width="0.75"/>
<line x1="477.85" y1="823.1" x2="477.85" y2="816.2" stroke="#2a2a2a" stroke-width="0.75"/>
<line x1="479" y1="823.1" x2="484.56" y2="826.27" stroke="#2a2a2a" stroke-width="0.75"/>
<text x="479" y="815.16" font-size="9.2" fill="#111" text-anchor="middle">O</text>
<text x="488.3" y="831.56" font-size="9.2" fill="#111" text-anchor="middle">O</text>
<circle cx="493.6" cy="822.6" r="3.1" fill="#fff" stroke="#555" stroke-width="0.55"/>
<line x1="492" y1="822.6" x2="495.2" y2="822.6" stroke="#333" stroke-width="0.6"/>
<line x1="472.45" y1="839.03" x2="480.3" y2="840.2" stroke="#2a2a2a" stroke-width="0.75"/>
<line x1="469.49" y1="842.82" x2="471.5" y2="849.7" stroke="#2a2a2a" stroke-width="0.75"/>
<circle cx="480.3" cy="840.2" r="3.8" fill="#2e75c3" stroke="none" stroke-width="0.5"/>
<circle cx="471.5" cy="849.7" r="3.8" fill="#2e75c3" stroke="none" stroke-width="0.5"/>
<text x="468.2" y="841.56" font-size="9.2" fill="#111" text-anchor="middle">N</text>
<circle cx="463.2" cy="844.6" r="3.1" fill="#fff" stroke="#555" stroke-width="0.55"/>
<line x1="461.6" y1="844.6" x2="464.8" y2="844.6" stroke="#333" stroke-width="0.6"/>
<line x1="463.2" y1="843" x2="463.2" y2="846.2" stroke="#333" stroke-width="0.6"/>
<text transform="translate(466.9,865.6) scale(1.02,1)" font-size="9.6" fill="#222" text-anchor="middle">Stachydrine</text>
<line x1="536.97" y1="839.31" x2="537.5" y2="832.6" stroke="#2a2a2a" stroke-width="0.75"/>
<line x1="537.5" y1="832.6" x2="528" y2="828.9" stroke="#2a2a2a" stroke-width="0.75"/>
<line x1="528" y1="828.9" x2="520.5" y2="836.4" stroke="#2a2a2a" stroke-width="0.75"/>
<line x1="520.5" y1="836.4" x2="525.5" y2="845.2" stroke="#2a2a2a" stroke-width="0.75"/>
<line x1="525.5" y1="845.2" x2="534" y2="844.6" stroke="#2a2a2a" stroke-width="0.75"/>
<line x1="537.5" y1="832.6" x2="546.1" y2="827.6" stroke="#2a2a2a" stroke-width="0.75"/>
<line x1="547.25" y1="827.6" x2="547.25" y2="821" stroke="#2a2a2a" stroke-width="0.75"/>
<line x1="544.95" y1="827.6" x2="544.95" y2="821" stroke="#2a2a2a" stroke-width="0.75"/>
<line x1="546.1" y1="827.6" x2="551.16" y2="830.48" stroke="#2a2a2a" stroke-width="0.75"/>
<text x="546.1" y="819.96" font-size="9.2" fill="#111" text-anchor="middle">O</text>
<text x="554.9" y="835.76" font-size="9.2" fill="#111" text-anchor="middle">O</text>
<circle cx="560.7" cy="827.6" r="3.1" fill="#fff" stroke="#555" stroke-width="0.55"/>
<line x1="559.1" y1="827.6" x2="562.3" y2="827.6" stroke="#333" stroke-width="0.6"/>
<line x1="541.5" y1="847.5" x2="545.1" y2="852.7" stroke="#2a2a2a" stroke-width="0.75"/>
<circle cx="545.1" cy="852.7" r="3.8" fill="#2e75c3" stroke="none" stroke-width="0.5"/>
<text x="539.3" y="847.06" font-size="9.2" fill="#111" text-anchor="middle">NH</text>
<circle cx="549.6" cy="843.9" r="3.1" fill="#fff" stroke="#555" stroke-width="0.55"/>
<line x1="548" y1="843.9" x2="551.2" y2="843.9" stroke="#333" stroke-width="0.6"/>
<line x1="549.6" y1="842.3" x2="549.6" y2="845.5" stroke="#333" stroke-width="0.6"/>
<text x="544.3" y="865" font-size="9.6" fill="#222" text-anchor="middle" textLength="63.5" lengthAdjust="spacingAndGlyphs">Methyl proline</text>
<circle cx="588.3" cy="844.3" r="4.2" fill="#2e75c3" stroke="none" stroke-width="0.5"/>
<text x="596.5" y="847.9" font-size="9.6" fill="#222" textLength="61" lengthAdjust="spacingAndGlyphs">Carbon atoms</text>
<text x="596.5" y="859" font-size="9.6" fill="#222" textLength="68.5" lengthAdjust="spacingAndGlyphs">that function as</text>
<text x="596.5" y="870.7" font-size="9.6" fill="#222" textLength="79.4" lengthAdjust="spacingAndGlyphs">one-carbon group</text>
<text x="596.5" y="881.7" font-size="9.6" fill="#222" textLength="30.5" lengthAdjust="spacingAndGlyphs">donors</text>
<line x1="45.91" y1="898.9" x2="37.6" y2="894.4" stroke="#2a2a2a" stroke-width="0.75"/>
<line x1="49.32" y1="905.49" x2="48.9" y2="912.2" stroke="#2a2a2a" stroke-width="0.75"/>
<circle cx="37.6" cy="894.4" r="3.8" fill="#2e75c3" stroke="none" stroke-width="0.5"/>
<circle cx="48.9" cy="912.2" r="3.8" fill="#2e75c3" stroke="none" stroke-width="0.5"/>
<line x1="53.42" y1="898.72" x2="58.9" y2="895.6" stroke="#2a2a2a" stroke-width="0.75"/>
<line x1="58.9" y1="895.6" x2="67.7" y2="900.2" stroke="#2a2a2a" stroke-width="0.75"/>
<line x1="67.7" y1="900.2" x2="77.3" y2="895.1" stroke="#2a2a2a" stroke-width="0.75"/>
<line x1="78.45" y1="895.1" x2="78.45" y2="888.5" stroke="#2a2a2a" stroke-width="0.75"/>
<line x1="76.15" y1="895.1" x2="76.15" y2="888.5" stroke="#2a2a2a" stroke-width="0.75"/>
<line x1="77.3" y1="895.1" x2="82.25" y2="898.48" stroke="#2a2a2a" stroke-width="0.75"/>
<text x="77.3" y="887.46" font-size="9.2" fill="#111" text-anchor="middle">O</text>
<text x="85.8" y="904.06" font-size="9.2" fill="#111" text-anchor="middle">O</text>
<circle cx="92.1" cy="895.1" r="3.1" fill="#fff" stroke="#555" stroke-width="0.55"/>
<line x1="90.5" y1="895.1" x2="93.7" y2="895.1" stroke="#333" stroke-width="0.6"/>
<text x="49.6" y="904.06" font-size="9.2" fill="#111" text-anchor="middle">S</text>
<circle cx="49.6" cy="893" r="3.1" fill="#fff" stroke="#555" stroke-width="0.55"/>
<line x1="48" y1="893" x2="51.2" y2="893" stroke="#333" stroke-width="0.6"/>
<line x1="49.6" y1="891.4" x2="49.6" y2="894.6" stroke="#333" stroke-width="0.6"/>
<text transform="translate(67.6,924.1) scale(0.92,1)" font-size="9.6" fill="#222" text-anchor="middle">DMSP</text>
<line x1="118.7" y1="895.9" x2="126.8" y2="900.19" stroke="#2a2a2a" stroke-width="0.75"/>
<circle cx="118.7" cy="895.9" r="3.8" fill="#2e75c3" stroke="none" stroke-width="0.5"/>
<line x1="134.44" y1="900.06" x2="140.1" y2="896.9" stroke="#2a2a2a" stroke-width="0.75"/>
<line x1="140.1" y1="896.9" x2="149.4" y2="901.9" stroke="#2a2a2a" stroke-width="0.75"/>
<line x1="149.4" y1="901.9" x2="158.9" y2="896.9" stroke="#2a2a2a" stroke-width="0.75"/>
<line x1="160.05" y1="896.9" x2="160.05" y2="890" stroke="#2a2a2a" stroke-width="0.75"/>
<line x1="157.75" y1="896.9" x2="157.75" y2="890" stroke="#2a2a2a" stroke-width="0.75"/>
<line x1="158.9" y1="896.9" x2="164.46" y2="900.07" stroke="#2a2a2a" stroke-width="0.75"/>
<text x="158.9" y="888.96" font-size="9.2" fill="#111" text-anchor="middle">O</text>
<text x="168.2" y="905.36" font-size="9.2" fill="#111" text-anchor="middle">O</text>
<circle cx="174" cy="896.4" r="3.1" fill="#fff" stroke="#555" stroke-width="0.55"/>
<line x1="172.4" y1="896.4" x2="175.6" y2="896.4" stroke="#333" stroke-width="0.6"/>
<text x="130.6" y="905.36" font-size="9.2" fill="#111" text-anchor="middle">S</text>
<text transform="translate(145.1,924.4) scale(0.95,1)" font-size="9.6" fill="#222" text-anchor="middle">3-MMPA</text>
<line x1="217.9" y1="898.3" x2="227.8" y2="898.1" stroke="#2a2a2a" stroke-width="0.75"/>
<circle cx="227.8" cy="898.1" r="3.8" fill="#2e75c3" stroke="none" stroke-width="0.5"/>
<text x="211" y="901.56" font-size="9.2" fill="#111" text-anchor="middle">HS</text>
<text transform="translate(217.7,927.3) scale(1.02,1)" font-size="9.6" fill="#222" text-anchor="middle">Methanethiol</text>
<text transform="translate(217.7,938.6) scale(0.96,1)" font-size="9.6" fill="#222" text-anchor="middle">(MeSH)</text>
<line x1="274.4" y1="894.5" x2="279.8" y2="897.1" stroke="#2a2a2a" stroke-width="0.75"/>
<line x1="279.8" y1="897.1" x2="289.3" y2="892.1" stroke="#2a2a2a" stroke-width="0.75"/>
<line x1="289.3" y1="892.1" x2="298.9" y2="897.1" stroke="#2a2a2a" stroke-width="0.75"/>
<line x1="298.9" y1="897.1" x2="308.2" y2="892.6" stroke="#2a2a2a" stroke-width="0.75"/>
<line x1="309.35" y1="892.6" x2="309.35" y2="885.5" stroke="#2a2a2a" stroke-width="0.75"/>
<line x1="307.05" y1="892.6" x2="307.05" y2="885.5" stroke="#2a2a2a" stroke-width="0.75"/>
<line x1="308.2" y1="892.6" x2="313.26" y2="895.48" stroke="#2a2a2a" stroke-width="0.75"/>
<text x="308.2" y="884.46" font-size="9.2" fill="#111" text-anchor="middle">O</text>
<text x="317" y="900.76" font-size="9.2" fill="#111" text-anchor="middle">O</text>
<circle cx="322.8" cy="892.6" r="3.1" fill="#fff" stroke="#555" stroke-width="0.55"/>
<line x1="321.2" y1="892.6" x2="324.4" y2="892.6" stroke="#333" stroke-width="0.6"/>
<line x1="298.9" y1="897.1" x2="298.9" y2="904.3" stroke="#2a2a2a" stroke-width="0.75"/>
<text x="268" y="895.76" font-size="9.2" fill="#111" text-anchor="middle">HS</text>
<text x="303.6" y="912.06" font-size="9.2" fill="#111" text-anchor="middle">NH<tspan dy="2.6" font-size="6.6">3</tspan><tspan dy="-2.6">&#8203;</tspan></text>
<circle cx="291.4" cy="908.4" r="3.1" fill="#fff" stroke="#555" stroke-width="0.55"/>
<line x1="289.8" y1="908.4" x2="293" y2="908.4" stroke="#333" stroke-width="0.6"/>
<line x1="291.4" y1="906.8" x2="291.4" y2="910" stroke="#333" stroke-width="0.6"/>
<text x="294.9" y="926.1" font-size="9.6" fill="#222" text-anchor="middle" textLength="62.8" lengthAdjust="spacingAndGlyphs">Homocysteine</text>
<line x1="344.6" y1="896.4" x2="351.34" y2="892.68" stroke="#2a2a2a" stroke-width="0.75"/>
<circle cx="344.6" cy="896.4" r="3.8" fill="#2e75c3" stroke="none" stroke-width="0.5"/>
<line x1="359.02" y1="892.6" x2="363.9" y2="895.1" stroke="#2a2a2a" stroke-width="0.75"/>
<line x1="363.9" y1="895.1" x2="373.2" y2="890.6" stroke="#2a2a2a" stroke-width="0.75"/>
<line x1="373.2" y1="890.6" x2="382.3" y2="895.1" stroke="#2a2a2a" stroke-width="0.75"/>
<line x1="382.3" y1="895.1" x2="391.1" y2="890.6" stroke="#2a2a2a" stroke-width="0.75"/>
<line x1="392.25" y1="890.6" x2="392.25" y2="884.2" stroke="#2a2a2a" stroke-width="0.75"/>
<line x1="389.95" y1="890.6" x2="389.95" y2="884.2" stroke="#2a2a2a" stroke-width="0.75"/>
<line x1="391.1" y1="890.6" x2="396.07" y2="893.46" stroke="#2a2a2a" stroke-width="0.75"/>
<text x="391.1" y="883.16" font-size="9.2" fill="#111" text-anchor="middle">O</text>
<text x="399.8" y="898.76" font-size="9.2" fill="#111" text-anchor="middle">O</text>
<circle cx="405.4" cy="890.6" r="3.1" fill="#fff" stroke="#555" stroke-width="0.55"/>
<line x1="403.8" y1="890.6" x2="407" y2="890.6" stroke="#333" stroke-width="0.6"/>
<line x1="382.3" y1="895.1" x2="382.3" y2="902.3" stroke="#2a2a2a" stroke-width="0.75"/>
<text x="355.1" y="893.76" font-size="9.2" fill="#111" text-anchor="middle">S</text>
<text x="386.9" y="910.06" font-size="9.2" fill="#111" text-anchor="middle">NH<tspan dy="2.6" font-size="6.6">3</tspan><tspan dy="-2.6">&#8203;</tspan></text>
<circle cx="375.2" cy="906.5" r="3.1" fill="#fff" stroke="#555" stroke-width="0.55"/>
<line x1="373.6" y1="906.5" x2="376.8" y2="906.5" stroke="#333" stroke-width="0.6"/>
<line x1="375.2" y1="904.9" x2="375.2" y2="908.1" stroke="#333" stroke-width="0.6"/>
<text transform="translate(379.7,926.8) scale(1.02,1)" font-size="9.6" fill="#222" text-anchor="middle">Methionine</text>
<line x1="429.7" y1="895.6" x2="436.02" y2="892.16" stroke="#2a2a2a" stroke-width="0.75"/>
<circle cx="429.7" cy="895.6" r="3.8" fill="#2e75c3" stroke="none" stroke-width="0.5"/>
<line x1="439.8" y1="885.9" x2="439.8" y2="883.6" stroke="#2a2a2a" stroke-width="0.75"/>
<line x1="443.63" y1="892.27" x2="448.6" y2="895.1" stroke="#2a2a2a" stroke-width="0.75"/>
<line x1="448.6" y1="895.1" x2="458.1" y2="890.6" stroke="#2a2a2a" stroke-width="0.75"/>
<line x1="458.1" y1="890.6" x2="466.9" y2="895.1" stroke="#2a2a2a" stroke-width="0.75"/>
<line x1="466.9" y1="895.1" x2="475.7" y2="890.6" stroke="#2a2a2a" stroke-width="0.75"/>
<line x1="476.85" y1="890.6" x2="476.85" y2="884.2" stroke="#2a2a2a" stroke-width="0.75"/>
<line x1="474.55" y1="890.6" x2="474.55" y2="884.2" stroke="#2a2a2a" stroke-width="0.75"/>
<line x1="475.7" y1="890.6" x2="480.76" y2="893.48" stroke="#2a2a2a" stroke-width="0.75"/>
<text x="475.7" y="883.16" font-size="9.2" fill="#111" text-anchor="middle">O</text>
<text x="484.5" y="898.76" font-size="9.2" fill="#111" text-anchor="middle">O</text>
<circle cx="490.3" cy="890.1" r="3.1" fill="#fff" stroke="#555" stroke-width="0.55"/>
<line x1="488.7" y1="890.1" x2="491.9" y2="890.1" stroke="#333" stroke-width="0.6"/>
<line x1="466.9" y1="895.1" x2="466.9" y2="902.3" stroke="#2a2a2a" stroke-width="0.75"/>
<text x="439.8" y="893.26" font-size="9.2" fill="#111" text-anchor="middle">S</text>
<text x="471.9" y="910.06" font-size="9.2" fill="#111" text-anchor="middle">NH<tspan dy="2.6" font-size="6.6">3</tspan><tspan dy="-2.6">&#8203;</tspan></text>
<circle cx="459.9" cy="906.5" r="3.1" fill="#fff" stroke="#555" stroke-width="0.55"/>
<line x1="458.3" y1="906.5" x2="461.5" y2="906.5" stroke="#333" stroke-width="0.6"/>
<line x1="459.9" y1="904.9" x2="459.9" y2="908.1" stroke="#333" stroke-width="0.6"/>
<circle cx="439.8" cy="897.1" r="3.1" fill="#fff" stroke="#555" stroke-width="0.55"/>
<line x1="438.2" y1="897.1" x2="441.4" y2="897.1" stroke="#333" stroke-width="0.6"/>
<line x1="439.8" y1="895.5" x2="439.8" y2="898.7" stroke="#333" stroke-width="0.6"/>
<text x="437.5" y="883.01" font-size="7.6" fill="#111" textLength="33.2" lengthAdjust="spacingAndGlyphs">adenosyl</text>
<text transform="translate(466.9,926.1) scale(0.92,1)" font-size="9.6" fill="#222" text-anchor="middle">SAM</text>
<line x1="516.4" y1="887.9" x2="516.4" y2="885.3" stroke="#2a2a2a" stroke-width="0.75"/>
<line x1="520.35" y1="894.03" x2="525.2" y2="896.4" stroke="#2a2a2a" stroke-width="0.75"/>
<line x1="525.2" y1="896.4" x2="534.8" y2="891.4" stroke="#2a2a2a" stroke-width="0.75"/>
<line x1="534.8" y1="891.4" x2="544.1" y2="896.4" stroke="#2a2a2a" stroke-width="0.75"/>
<line x1="544.1" y1="896.4" x2="552.9" y2="891.4" stroke="#2a2a2a" stroke-width="0.75"/>
<line x1="554.05" y1="891.4" x2="554.05" y2="885.5" stroke="#2a2a2a" stroke-width="0.75"/>
<line x1="551.75" y1="891.4" x2="551.75" y2="885.5" stroke="#2a2a2a" stroke-width="0.75"/>
<line x1="552.9" y1="891.4" x2="558.05" y2="894.62" stroke="#2a2a2a" stroke-width="0.75"/>
<text x="552.9" y="884.46" font-size="9.2" fill="#111" text-anchor="middle">O</text>
<text x="561.7" y="900.06" font-size="9.2" fill="#111" text-anchor="middle">O</text>
<circle cx="567.2" cy="891.4" r="3.1" fill="#fff" stroke="#555" stroke-width="0.55"/>
<line x1="565.6" y1="891.4" x2="568.8" y2="891.4" stroke="#333" stroke-width="0.6"/>
<line x1="544.1" y1="896.4" x2="544.1" y2="903.6" stroke="#2a2a2a" stroke-width="0.75"/>
<text x="516.4" y="895.26" font-size="9.2" fill="#111" text-anchor="middle">S</text>
<text x="548.7" y="911.36" font-size="9.2" fill="#111" text-anchor="middle">NH<tspan dy="2.6" font-size="6.6">3</tspan><tspan dy="-2.6">&#8203;</tspan></text>
<circle cx="536.5" cy="907.8" r="3.1" fill="#fff" stroke="#555" stroke-width="0.55"/>
<line x1="534.9" y1="907.8" x2="538.1" y2="907.8" stroke="#333" stroke-width="0.6"/>
<line x1="536.5" y1="906.2" x2="536.5" y2="909.4" stroke="#333" stroke-width="0.6"/>
<text x="513.9" y="884.21" font-size="7.6" fill="#111" textLength="33.4" lengthAdjust="spacingAndGlyphs">adenosyl</text>
<text transform="translate(544.1,926.6) scale(0.92,1)" font-size="9.6" fill="#222" text-anchor="middle">SAH</text>
</g>
</svg>
</body>
</html>
